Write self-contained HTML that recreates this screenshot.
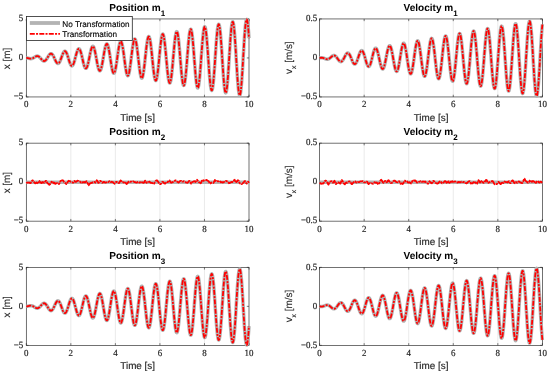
<!DOCTYPE html>
<html><head><meta charset="utf-8"><style>html,body{margin:0;padding:0;background:#fff;overflow:hidden}svg{display:block}text{text-rendering:geometricPrecision}</style></head><body>
<svg width="550" height="375" viewBox="0 0 550 375">
<rect width="550" height="375" fill="#fff"/>
<path d="M70.84 18.95V96.95M115.38 18.95V96.95M159.92 18.95V96.95M204.46 18.95V96.95" stroke="#dcdcdc" stroke-width="0.6" fill="none"/>
<path d="M26.3 96.95v-2.2M26.3 18.95v2.2M70.84 96.95v-2.2M70.84 18.95v2.2M115.38 96.95v-2.2M115.38 18.95v2.2M159.92 96.95v-2.2M159.92 18.95v2.2M204.46 96.95v-2.2M204.46 18.95v2.2M249 96.95v-2.2M249 18.95v2.2M26.3 96.95h2.2M249 96.95h-2.2M26.3 57.95h2.2M249 57.95h-2.2M26.3 18.95h2.2M249 18.95h-2.2" stroke="#262626" stroke-width="0.6" fill="none"/>
<rect x="26.3" y="18.95" width="222.7" height="78" fill="none" stroke="#262626" stroke-width="0.65"/>
<g>
<polyline points="26.3,57.95 26.45,57.95 26.6,57.96 26.75,57.97 26.89,57.98 27.04,57.99 27.19,58.01 27.34,58.03 27.49,58.06 27.64,58.08 27.78,58.11 27.93,58.14 28.08,58.17 28.23,58.21 28.38,58.24 28.53,58.28 28.68,58.31 28.82,58.35 28.97,58.39 29.12,58.42 29.27,58.46 29.42,58.49 29.57,58.52 29.71,58.55 29.86,58.57 30.01,58.6 30.16,58.62 30.31,58.63 30.46,58.65 30.61,58.65 30.75,58.66 30.9,58.66 31.05,58.65 31.2,58.64 31.35,58.63 31.5,58.61 31.64,58.58 31.79,58.55 31.94,58.51 32.09,58.47 32.24,58.43 32.39,58.37 32.54,58.32 32.68,58.25 32.83,58.19 32.98,58.12 33.13,58.04 33.28,57.96 33.43,57.88 33.57,57.79 33.72,57.7 33.87,57.61 34.02,57.52 34.17,57.42 34.32,57.33 34.47,57.23 34.61,57.14 34.76,57.04 34.91,56.95 35.06,56.86 35.21,56.77 35.36,56.68 35.5,56.6 35.65,56.52 35.8,56.45 35.95,56.38 36.1,56.32 36.25,56.26 36.4,56.21 36.54,56.17 36.69,56.13 36.84,56.1 36.99,56.09 37.14,56.07 37.29,56.07 37.44,56.08 37.58,56.1 37.73,56.12 37.88,56.16 38.03,56.2 38.18,56.26 38.33,56.32 38.47,56.4 38.62,56.48 38.77,56.57 38.92,56.67 39.07,56.78 39.22,56.9 39.37,57.02 39.51,57.16 39.66,57.3 39.81,57.44 39.96,57.59 40.11,57.75 40.26,57.91 40.4,58.07 40.55,58.24 40.7,58.41 40.85,58.58 41,58.75 41.15,58.92 41.3,59.09 41.44,59.26 41.59,59.43 41.74,59.59 41.89,59.74 42.04,59.9 42.19,60.04 42.33,60.18 42.48,60.31 42.63,60.43 42.78,60.54 42.93,60.65 43.08,60.74 43.23,60.82 43.37,60.89 43.52,60.94 43.67,60.99 43.82,61.02 43.97,61.03 44.12,61.04 44.26,61.03 44.41,61 44.56,60.96 44.71,60.9 44.86,60.83 45.01,60.75 45.16,60.65 45.3,60.54 45.45,60.41 45.6,60.27 45.75,60.12 45.9,59.96 46.05,59.78 46.19,59.59 46.34,59.4 46.49,59.19 46.64,58.97 46.79,58.75 46.94,58.52 47.09,58.28 47.23,58.04 47.38,57.8 47.53,57.55 47.68,57.3 47.83,57.05 47.98,56.8 48.12,56.55 48.27,56.3 48.42,56.06 48.57,55.83 48.72,55.6 48.87,55.38 49.02,55.17 49.16,54.96 49.31,54.77 49.46,54.59 49.61,54.43 49.76,54.27 49.91,54.14 50.05,54.01 50.2,53.91 50.35,53.82 50.5,53.75 50.65,53.69 50.8,53.66 50.95,53.64 51.09,53.65 51.24,53.67 51.39,53.72 51.54,53.78 51.69,53.86 51.84,53.97 51.98,54.09 52.13,54.23 52.28,54.39 52.43,54.56 52.58,54.76 52.73,54.97 52.88,55.2 53.02,55.44 53.17,55.7 53.32,55.96 53.47,56.25 53.62,56.54 53.77,56.84 53.91,57.15 54.06,57.47 54.21,57.79 54.36,58.12 54.51,58.44 54.66,58.78 54.81,59.11 54.95,59.43 55.1,59.76 55.25,60.08 55.4,60.39 55.55,60.7 55.7,61 55.84,61.28 55.99,61.56 56.14,61.82 56.29,62.06 56.44,62.29 56.59,62.51 56.74,62.7 56.88,62.88 57.03,63.03 57.18,63.16 57.33,63.27 57.48,63.36 57.63,63.42 57.77,63.46 57.92,63.48 58.07,63.47 58.22,63.43 58.37,63.37 58.52,63.29 58.67,63.18 58.81,63.04 58.96,62.89 59.11,62.7 59.26,62.5 59.41,62.27 59.56,62.02 59.7,61.75 59.85,61.47 60,61.16 60.15,60.83 60.3,60.49 60.45,60.14 60.6,59.77 60.74,59.39 60.89,59 61.04,58.61 61.19,58.2 61.34,57.79 61.49,57.38 61.64,56.97 61.78,56.56 61.93,56.15 62.08,55.75 62.23,55.35 62.38,54.97 62.53,54.59 62.67,54.22 62.82,53.87 62.97,53.53 63.12,53.21 63.27,52.91 63.42,52.63 63.57,52.37 63.71,52.13 63.86,51.92 64.01,51.74 64.16,51.58 64.31,51.44 64.46,51.34 64.6,51.26 64.75,51.22 64.9,51.2 65.05,51.21 65.2,51.26 65.35,51.33 65.5,51.44 65.64,51.57 65.79,51.74 65.94,51.93 66.09,52.15 66.24,52.4 66.39,52.68 66.53,52.98 66.68,53.31 66.83,53.66 66.98,54.03 67.13,54.42 67.28,54.83 67.43,55.26 67.57,55.7 67.72,56.16 67.87,56.63 68.02,57.1 68.17,57.59 68.32,58.08 68.46,58.57 68.61,59.06 68.76,59.55 68.91,60.04 69.06,60.52 69.21,60.99 69.36,61.46 69.5,61.91 69.65,62.34 69.8,62.76 69.95,63.16 70.1,63.54 70.25,63.9 70.39,64.23 70.54,64.54 70.69,64.82 70.84,65.07 70.99,65.29 71.14,65.48 71.29,65.64 71.43,65.76 71.58,65.85 71.73,65.9 71.88,65.92 72.03,65.91 72.18,65.85 72.32,65.77 72.47,65.64 72.62,65.48 72.77,65.29 72.92,65.06 73.07,64.8 73.22,64.51 73.36,64.18 73.51,63.83 73.66,63.45 73.81,63.04 73.96,62.6 74.11,62.14 74.25,61.66 74.4,61.16 74.55,60.64 74.7,60.11 74.85,59.57 75,59.01 75.15,58.44 75.29,57.87 75.44,57.3 75.59,56.73 75.74,56.15 75.89,55.59 76.04,55.03 76.18,54.48 76.33,53.94 76.48,53.42 76.63,52.91 76.78,52.42 76.93,51.96 77.08,51.52 77.22,51.1 77.37,50.72 77.52,50.36 77.67,50.03 77.82,49.74 77.97,49.49 78.11,49.27 78.26,49.09 78.41,48.94 78.56,48.84 78.71,48.78 78.86,48.75 79.01,48.77 79.15,48.83 79.3,48.93 79.45,49.07 79.6,49.25 79.75,49.47 79.9,49.73 80.04,50.03 80.19,50.37 80.34,50.74 80.49,51.15 80.64,51.58 80.79,52.05 80.94,52.55 81.08,53.08 81.23,53.63 81.38,54.2 81.53,54.79 81.68,55.4 81.83,56.02 81.97,56.66 82.12,57.3 82.27,57.96 82.42,58.61 82.57,59.27 82.72,59.92 82.87,60.57 83.01,61.21 83.16,61.83 83.31,62.45 83.46,63.04 83.61,63.62 83.76,64.18 83.91,64.71 84.05,65.21 84.2,65.68 84.35,66.12 84.5,66.53 84.65,66.9 84.8,67.23 84.94,67.52 85.09,67.78 85.24,67.98 85.39,68.15 85.54,68.27 85.69,68.34 85.84,68.37 85.98,68.35 86.13,68.29 86.28,68.18 86.43,68.02 86.58,67.82 86.73,67.57 86.87,67.28 87.02,66.94 87.17,66.56 87.32,66.15 87.47,65.69 87.62,65.2 87.77,64.67 87.91,64.11 88.06,63.52 88.21,62.9 88.36,62.26 88.51,61.59 88.66,60.91 88.8,60.21 88.95,59.49 89.1,58.77 89.25,58.03 89.4,57.3 89.55,56.56 89.7,55.83 89.84,55.1 89.99,54.38 90.14,53.68 90.29,52.99 90.44,52.31 90.59,51.66 90.73,51.04 90.88,50.44 91.03,49.88 91.18,49.35 91.33,48.85 91.48,48.39 91.63,47.98 91.77,47.6 91.92,47.27 92.07,46.99 92.22,46.75 92.37,46.56 92.52,46.43 92.66,46.34 92.81,46.3 92.96,46.32 93.11,46.39 93.26,46.51 93.41,46.68 93.56,46.91 93.7,47.18 93.85,47.5 94,47.87 94.15,48.29 94.3,48.75 94.45,49.26 94.59,49.8 94.74,50.39 94.89,51.01 95.04,51.67 95.19,52.35 95.34,53.07 95.49,53.8 95.63,54.56 95.78,55.34 95.93,56.14 96.08,56.94 96.23,57.75 96.38,58.57 96.52,59.39 96.67,60.21 96.82,61.01 96.97,61.81 97.12,62.6 97.27,63.36 97.42,64.11 97.56,64.83 97.71,65.53 97.86,66.19 98.01,66.82 98.16,67.41 98.31,67.96 98.45,68.47 98.6,68.94 98.75,69.36 98.9,69.73 99.05,70.04 99.2,70.31 99.35,70.52 99.49,70.68 99.64,70.78 99.79,70.82 99.94,70.8 100.09,70.73 100.24,70.6 100.38,70.42 100.53,70.18 100.68,69.88 100.83,69.53 100.98,69.12 101.13,68.67 101.28,68.16 101.42,67.61 101.57,67.01 101.72,66.37 101.87,65.68 102.02,64.97 102.17,64.21 102.31,63.43 102.46,62.62 102.61,61.78 102.76,60.93 102.91,60.05 103.06,59.17 103.21,58.28 103.35,57.38 103.5,56.48 103.65,55.58 103.8,54.69 103.95,53.81 104.1,52.95 104.25,52.11 104.39,51.28 104.54,50.49 104.69,49.72 104.84,48.99 104.99,48.3 105.14,47.65 105.28,47.04 105.43,46.47 105.58,45.96 105.73,45.5 105.88,45.09 106.03,44.73 106.18,44.44 106.32,44.2 106.47,44.03 106.62,43.91 106.77,43.86 106.92,43.87 107.07,43.94 107.21,44.08 107.36,44.27 107.51,44.53 107.66,44.85 107.81,45.23 107.96,45.67 108.11,46.17 108.25,46.72 108.4,47.32 108.55,47.97 108.7,48.66 108.85,49.4 109,50.19 109.14,51.01 109.29,51.86 109.44,52.74 109.59,53.65 109.74,54.58 109.89,55.53 110.04,56.5 110.18,57.47 110.33,58.45 110.48,59.43 110.63,60.41 110.78,61.38 110.93,62.34 111.07,63.28 111.22,64.21 111.37,65.1 111.52,65.97 111.67,66.81 111.82,67.61 111.97,68.37 112.11,69.08 112.26,69.75 112.41,70.37 112.56,70.93 112.71,71.44 112.86,71.89 113,72.28 113.15,72.61 113.3,72.87 113.45,73.07 113.6,73.2 113.75,73.26 113.9,73.26 114.04,73.19 114.19,73.05 114.34,72.84 114.49,72.56 114.64,72.22 114.79,71.81 114.93,71.34 115.08,70.81 115.23,70.22 115.38,69.57 115.53,68.87 115.68,68.12 115.83,67.32 115.97,66.48 116.12,65.59 116.27,64.67 116.42,63.72 116.57,62.73 116.72,61.72 116.86,60.7 117.01,59.65 117.16,58.6 117.31,57.54 117.46,56.47 117.61,55.41 117.76,54.36 117.9,53.32 118.05,52.3 118.2,51.3 118.35,50.33 118.5,49.38 118.65,48.48 118.79,47.61 118.94,46.78 119.09,46 119.24,45.28 119.39,44.6 119.54,43.99 119.69,43.43 119.83,42.94 119.98,42.51 120.13,42.15 120.28,41.86 120.43,41.64 120.58,41.49 120.72,41.42 120.87,41.41 121.02,41.48 121.17,41.63 121.32,41.85 121.47,42.14 121.62,42.5 121.76,42.93 121.91,43.43 122.06,44 122.21,44.63 122.36,45.32 122.51,46.07 122.65,46.88 122.8,47.74 122.95,48.64 123.1,49.59 123.25,50.58 123.4,51.61 123.55,52.66 123.69,53.75 123.84,54.85 123.99,55.98 124.14,57.11 124.29,58.25 124.44,59.4 124.58,60.54 124.73,61.67 124.88,62.79 125.03,63.9 125.18,64.97 125.33,66.03 125.48,67.04 125.62,68.02 125.77,68.96 125.92,69.86 126.07,70.7 126.22,71.48 126.37,72.21 126.52,72.88 126.66,73.49 126.81,74.02 126.96,74.49 127.11,74.88 127.26,75.2 127.41,75.45 127.55,75.62 127.7,75.7 127.85,75.71 128,75.65 128.15,75.5 128.3,75.27 128.45,74.97 128.59,74.58 128.74,74.13 128.89,73.6 129.04,73 129.19,72.33 129.34,71.59 129.48,70.79 129.63,69.94 129.78,69.02 129.93,68.06 130.08,67.04 130.23,65.98 130.38,64.89 130.52,63.76 130.67,62.6 130.82,61.42 130.97,60.22 131.12,59 131.27,57.78 131.41,56.55 131.56,55.33 131.71,54.11 131.86,52.91 132.01,51.73 132.16,50.57 132.31,49.44 132.45,48.35 132.6,47.29 132.75,46.28 132.9,45.32 133.05,44.42 133.2,43.57 133.34,42.78 133.49,42.06 133.64,41.41 133.79,40.82 133.94,40.32 134.09,39.89 134.24,39.54 134.38,39.27 134.53,39.08 134.68,38.98 134.83,38.96 134.98,39.02 135.13,39.17 135.27,39.41 135.42,39.72 135.57,40.12 135.72,40.6 135.87,41.16 136.02,41.79 136.17,42.5 136.31,43.28 136.46,44.13 136.61,45.04 136.76,46.01 136.91,47.03 137.06,48.11 137.2,49.23 137.35,50.4 137.5,51.6 137.65,52.83 137.8,54.09 137.95,55.37 138.1,56.67 138.24,57.97 138.39,59.28 138.54,60.59 138.69,61.88 138.84,63.17 138.99,64.43 139.13,65.67 139.28,66.87 139.43,68.04 139.58,69.17 139.73,70.25 139.88,71.28 140.03,72.25 140.17,73.16 140.32,74.01 140.47,74.79 140.62,75.49 140.77,76.12 140.92,76.67 141.06,77.13 141.21,77.51 141.36,77.81 141.51,78.02 141.66,78.14 141.81,78.17 141.96,78.11 142.1,77.96 142.25,77.72 142.4,77.39 142.55,76.98 142.7,76.48 142.85,75.89 142.99,75.22 143.14,74.48 143.29,73.66 143.44,72.77 143.59,71.81 143.74,70.78 143.89,69.7 144.03,68.56 144.18,67.37 144.33,66.13 144.48,64.86 144.63,63.55 144.78,62.22 144.92,60.86 145.07,59.48 145.22,58.1 145.37,56.71 145.52,55.32 145.67,53.94 145.82,52.58 145.96,51.23 146.11,49.92 146.26,48.63 146.41,47.38 146.56,46.18 146.71,45.03 146.85,43.93 147,42.89 147.15,41.92 147.3,41.01 147.45,40.18 147.6,39.42 147.75,38.75 147.89,38.16 148.04,37.65 148.19,37.24 148.34,36.92 148.49,36.68 148.64,36.55 148.78,36.51 148.93,36.56 149.08,36.71 149.23,36.95 149.38,37.29 149.53,37.72 149.68,38.24 149.82,38.85 149.97,39.55 150.12,40.33 150.27,41.19 150.42,42.13 150.57,43.14 150.72,44.22 150.86,45.36 151.01,46.56 151.16,47.81 151.31,49.12 151.46,50.46 151.61,51.84 151.75,53.26 151.9,54.69 152.05,56.15 152.2,57.61 152.35,59.08 152.5,60.55 152.65,62.01 152.79,63.46 152.94,64.88 153.09,66.28 153.24,67.65 153.39,68.97 153.54,70.25 153.68,71.47 153.83,72.64 153.98,73.75 154.13,74.79 154.28,75.75 154.43,76.64 154.58,77.45 154.72,78.17 154.87,78.81 155.02,79.35 155.17,79.8 155.32,80.15 155.47,80.41 155.61,80.56 155.76,80.62 155.91,80.57 156.06,80.43 156.21,80.18 156.36,79.84 156.51,79.39 156.65,78.85 156.8,78.22 156.95,77.49 157.1,76.67 157.25,75.77 157.4,74.79 157.54,73.73 157.69,72.6 157.84,71.4 157.99,70.14 158.14,68.82 158.29,67.45 158.44,66.04 158.58,64.58 158.73,63.09 158.88,61.58 159.03,60.05 159.18,58.5 159.33,56.95 159.47,55.4 159.62,53.85 159.77,52.32 159.92,50.82 160.07,49.34 160.22,47.9 160.37,46.49 160.51,45.14 160.66,43.84 160.81,42.6 160.96,41.43 161.11,40.32 161.26,39.29 161.4,38.35 161.55,37.49 161.7,36.71 161.85,36.03 162,35.45 162.15,34.97 162.3,34.58 162.44,34.3 162.59,34.13 162.74,34.06 162.89,34.09 163.04,34.23 163.19,34.48 163.33,34.84 163.48,35.29 163.63,35.85 163.78,36.51 163.93,37.26 164.08,38.11 164.23,39.05 164.37,40.08 164.52,41.18 164.67,42.37 164.82,43.62 164.97,44.94 165.12,46.33 165.26,47.76 165.41,49.25 165.56,50.78 165.71,52.34 165.86,53.93 166.01,55.54 166.16,57.17 166.3,58.8 166.45,60.44 166.6,62.06 166.75,63.67 166.9,65.26 167.05,66.82 167.19,68.34 167.34,69.82 167.49,71.25 167.64,72.63 167.79,73.94 167.94,75.18 168.09,76.35 168.23,77.44 168.38,78.45 168.53,79.37 168.68,80.19 168.83,80.91 168.98,81.54 169.12,82.06 169.27,82.48 169.42,82.78 169.57,82.98 169.72,83.07 169.87,83.04 170.02,82.9 170.16,82.65 170.31,82.3 170.46,81.83 170.61,81.25 170.76,80.57 170.91,79.79 171.06,78.91 171.2,77.93 171.35,76.87 171.5,75.71 171.65,74.48 171.8,73.17 171.95,71.79 172.09,70.34 172.24,68.84 172.39,67.28 172.54,65.68 172.69,64.05 172.84,62.38 172.99,60.69 173.13,58.98 173.28,57.27 173.43,55.55 173.58,53.84 173.73,52.15 173.88,50.48 174.02,48.84 174.17,47.24 174.32,45.68 174.47,44.17 174.62,42.72 174.77,41.34 174.92,40.02 175.06,38.79 175.21,37.63 175.36,36.57 175.51,35.6 175.66,34.72 175.81,33.95 175.95,33.28 176.1,32.72 176.25,32.27 176.4,31.94 176.55,31.72 176.7,31.61 176.85,31.63 176.99,31.76 177.14,32 177.29,32.37 177.44,32.85 177.59,33.44 177.74,34.14 177.88,34.94 178.03,35.86 178.18,36.87 178.33,37.98 178.48,39.18 178.63,40.46 178.78,41.82 178.92,43.26 179.07,44.77 179.22,46.34 179.37,47.96 179.52,49.64 179.67,51.35 179.81,53.09 179.96,54.86 180.11,56.65 180.26,58.44 180.41,60.24 180.56,62.03 180.71,63.81 180.85,65.56 181,67.28 181.15,68.97 181.3,70.6 181.45,72.19 181.6,73.71 181.74,75.17 181.89,76.56 182.04,77.86 182.19,79.08 182.34,80.2 182.49,81.23 182.64,82.16 182.78,82.98 182.93,83.69 183.08,84.29 183.23,84.77 183.38,85.14 183.53,85.38 183.67,85.5 183.82,85.5 183.97,85.38 184.12,85.14 184.27,84.77 184.42,84.28 184.57,83.68 184.71,82.96 184.86,82.13 185.01,81.19 185.16,80.14 185.31,78.99 185.46,77.75 185.6,76.41 185.75,75 185.9,73.5 186.05,71.93 186.2,70.3 186.35,68.6 186.5,66.86 186.64,65.08 186.79,63.26 186.94,61.41 187.09,59.54 187.24,57.67 187.39,55.79 187.53,53.92 187.68,52.06 187.83,50.22 187.98,48.42 188.13,46.65 188.28,44.93 188.43,43.27 188.57,41.67 188.72,40.14 188.87,38.68 189.02,37.31 189.17,36.03 189.32,34.84 189.46,33.75 189.61,32.77 189.76,31.9 189.91,31.14 190.06,30.5 190.21,29.99 190.36,29.59 190.5,29.32 190.65,29.18 190.8,29.16 190.95,29.28 191.1,29.52 191.25,29.89 191.39,30.38 191.54,31 191.69,31.74 191.84,32.59 191.99,33.56 192.14,34.64 192.29,35.83 192.43,37.12 192.58,38.5 192.73,39.97 192.88,41.52 193.03,43.15 193.18,44.85 193.33,46.61 193.47,48.42 193.62,50.28 193.77,52.17 193.92,54.1 194.07,56.04 194.22,58 194.36,59.96 194.51,61.92 194.66,63.86 194.81,65.78 194.96,67.66 195.11,69.51 195.26,71.31 195.4,73.05 195.55,74.73 195.7,76.34 195.85,77.86 196,79.31 196.15,80.65 196.29,81.9 196.44,83.05 196.59,84.09 196.74,85.01 196.89,85.81 197.04,86.49 197.19,87.05 197.33,87.48 197.48,87.77 197.63,87.93 197.78,87.97 197.93,87.86 198.08,87.63 198.22,87.26 198.37,86.76 198.52,86.13 198.67,85.38 198.82,84.5 198.97,83.5 199.12,82.39 199.26,81.16 199.41,79.83 199.56,78.41 199.71,76.88 199.86,75.27 200.01,73.59 200.15,71.82 200.3,70 200.45,68.12 200.6,66.18 200.75,64.21 200.9,62.21 201.05,60.19 201.19,58.15 201.34,56.11 201.49,54.07 201.64,52.04 201.79,50.04 201.94,48.07 202.08,46.15 202.23,44.27 202.38,42.45 202.53,40.69 202.68,39.01 202.83,37.41 202.98,35.9 203.12,34.48 203.27,33.16 203.42,31.96 203.57,30.87 203.72,29.89 203.87,29.04 204.01,28.32 204.16,27.72 204.31,27.26 204.46,26.94 204.61,26.75 204.76,26.71 204.91,26.8 205.05,27.03 205.2,27.39 205.35,27.9 205.5,28.54 205.65,29.31 205.8,30.21 205.94,31.23 206.09,32.37 206.24,33.63 206.39,35 206.54,36.48 206.69,38.05 206.84,39.72 206.98,41.46 207.13,43.29 207.28,45.18 207.43,47.13 207.58,49.13 207.73,51.18 207.87,53.26 208.02,55.36 208.17,57.48 208.32,59.6 208.47,61.72 208.62,63.83 208.77,65.92 208.91,67.97 209.06,69.98 209.21,71.94 209.36,73.84 209.51,75.67 209.66,77.43 209.8,79.11 209.95,80.69 210.1,82.17 210.25,83.55 210.4,84.82 210.55,85.97 210.7,87 210.84,87.9 210.99,88.66 211.14,89.3 211.29,89.79 211.44,90.14 211.59,90.35 211.73,90.42 211.88,90.34 212.03,90.12 212.18,89.76 212.33,89.25 212.48,88.6 212.63,87.82 212.77,86.9 212.92,85.85 213.07,84.68 213.22,83.38 213.37,81.97 213.52,80.45 213.66,78.83 213.81,77.11 213.96,75.3 214.11,73.42 214.26,71.46 214.41,69.44 214.56,67.37 214.7,65.25 214.85,63.09 215,60.91 215.15,58.71 215.3,56.51 215.45,54.3 215.59,52.11 215.74,49.95 215.89,47.81 216.04,45.72 216.19,43.68 216.34,41.69 216.49,39.78 216.63,37.95 216.78,36.2 216.93,34.54 217.08,32.99 217.23,31.55 217.38,30.22 217.53,29.01 217.67,27.93 217.82,26.98 217.97,26.16 218.12,25.49 218.27,24.96 218.42,24.58 218.56,24.34 218.71,24.25 218.86,24.32 219.01,24.53 219.16,24.89 219.31,25.4 219.46,26.06 219.6,26.85 219.75,27.79 219.9,28.86 220.05,30.07 220.2,31.4 220.35,32.84 220.49,34.41 220.64,36.08 220.79,37.85 220.94,39.71 221.09,41.66 221.24,43.68 221.39,45.77 221.53,47.91 221.68,50.11 221.83,52.34 221.98,54.6 222.13,56.88 222.28,59.16 222.42,61.45 222.57,63.72 222.72,65.97 222.87,68.19 223.02,70.37 223.17,72.49 223.32,74.55 223.46,76.55 223.61,78.46 223.76,80.28 223.91,82.01 224.06,83.63 224.21,85.14 224.35,86.54 224.5,87.8 224.65,88.94 224.8,89.94 224.95,90.8 225.1,91.51 225.25,92.08 225.39,92.5 225.54,92.76 225.69,92.87 225.84,92.82 225.99,92.62 226.14,92.26 226.28,91.75 226.43,91.09 226.58,90.28 226.73,89.33 226.88,88.23 227.03,87 227.18,85.64 227.32,84.15 227.47,82.55 227.62,80.83 227.77,79.01 227.92,77.09 228.07,75.08 228.21,73 228.36,70.84 228.51,68.62 228.66,66.36 228.81,64.05 228.96,61.71 229.11,59.35 229.25,56.99 229.4,54.62 229.55,52.26 229.7,49.93 229.85,47.63 230,45.37 230.14,43.16 230.29,41.02 230.44,38.95 230.59,36.96 230.74,35.06 230.89,33.25 231.04,31.56 231.18,29.98 231.33,28.53 231.48,27.2 231.63,26.01 231.78,24.95 231.93,24.05 232.07,23.29 232.22,22.68 232.37,22.23 232.52,21.94 232.67,21.81 232.82,21.84 232.97,22.03 233.11,22.38 233.26,22.89 233.41,23.56 233.56,24.38 233.71,25.34 233.86,26.46 234,27.72 234.15,29.11 234.3,30.64 234.45,32.29 234.6,34.05 234.75,35.92 234.9,37.9 235.04,39.96 235.19,42.11 235.34,44.33 235.49,46.62 235.64,48.96 235.79,51.34 235.93,53.76 236.08,56.2 236.23,58.64 236.38,61.09 236.53,63.53 236.68,65.95 236.83,68.34 236.97,70.68 237.12,72.97 237.27,75.19 237.42,77.34 237.57,79.41 237.72,81.39 237.86,83.26 238.01,85.03 238.16,86.68 238.31,88.2 238.46,89.59 238.61,90.84 238.76,91.94 238.9,92.9 239.05,93.7 239.2,94.35 239.35,94.83 239.5,95.15 239.65,95.31 239.8,95.29 239.94,95.12 240.09,94.78 240.24,94.27 240.39,93.6 240.54,92.77 240.69,91.79 240.83,90.65 240.98,89.37 241.13,87.94 241.28,86.38 241.43,84.7 241.58,82.89 241.73,80.96 241.87,78.93 242.02,76.81 242.17,74.6 242.32,72.31 242.47,69.96 242.62,67.54 242.76,65.09 242.91,62.59 243.06,60.08 243.21,57.55 243.36,55.01 243.51,52.49 243.66,49.99 243.8,47.52 243.95,45.1 244.1,42.72 244.25,40.42 244.4,38.18 244.55,36.04 244.69,33.98 244.84,32.03 244.99,30.19 245.14,28.48 245.29,26.89 245.44,25.44 245.59,24.13 245.73,22.97 245.88,21.96 246.03,21.12 246.18,20.43 246.33,19.91 246.48,19.56 246.62,19.38 246.77,19.37 246.92,19.53 247.07,19.87 247.22,20.37 247.37,21.04 247.52,21.88 247.66,22.87 247.81,24.03 247.96,25.34 248.11,26.79 248.26,28.38 248.41,30.11 248.55,31.97 248.7,33.94 248.85,36.02 249,38.2" fill="none" stroke="#b3b3b3" stroke-width="3.5" stroke-linejoin="round"/>
<polyline points="26.3,57.95 26.45,57.95 26.6,57.96 26.75,57.97 26.89,57.98 27.04,57.99 27.19,58.01 27.34,58.03 27.49,58.06 27.64,58.08 27.78,58.11 27.93,58.14 28.08,58.17 28.23,58.21 28.38,58.24 28.53,58.28 28.68,58.31 28.82,58.35 28.97,58.39 29.12,58.42 29.27,58.46 29.42,58.49 29.57,58.52 29.71,58.55 29.86,58.57 30.01,58.6 30.16,58.62 30.31,58.63 30.46,58.65 30.61,58.65 30.75,58.66 30.9,58.66 31.05,58.65 31.2,58.64 31.35,58.63 31.5,58.61 31.64,58.58 31.79,58.55 31.94,58.51 32.09,58.47 32.24,58.43 32.39,58.37 32.54,58.32 32.68,58.25 32.83,58.19 32.98,58.12 33.13,58.04 33.28,57.96 33.43,57.88 33.57,57.79 33.72,57.7 33.87,57.61 34.02,57.52 34.17,57.42 34.32,57.33 34.47,57.23 34.61,57.14 34.76,57.04 34.91,56.95 35.06,56.86 35.21,56.77 35.36,56.68 35.5,56.6 35.65,56.52 35.8,56.45 35.95,56.38 36.1,56.32 36.25,56.26 36.4,56.21 36.54,56.17 36.69,56.13 36.84,56.1 36.99,56.09 37.14,56.07 37.29,56.07 37.44,56.08 37.58,56.1 37.73,56.12 37.88,56.16 38.03,56.2 38.18,56.26 38.33,56.32 38.47,56.4 38.62,56.48 38.77,56.57 38.92,56.67 39.07,56.78 39.22,56.9 39.37,57.02 39.51,57.16 39.66,57.3 39.81,57.44 39.96,57.59 40.11,57.75 40.26,57.91 40.4,58.07 40.55,58.24 40.7,58.41 40.85,58.58 41,58.75 41.15,58.92 41.3,59.09 41.44,59.26 41.59,59.43 41.74,59.59 41.89,59.74 42.04,59.9 42.19,60.04 42.33,60.18 42.48,60.31 42.63,60.43 42.78,60.54 42.93,60.65 43.08,60.74 43.23,60.82 43.37,60.89 43.52,60.94 43.67,60.99 43.82,61.02 43.97,61.03 44.12,61.04 44.26,61.03 44.41,61 44.56,60.96 44.71,60.9 44.86,60.83 45.01,60.75 45.16,60.65 45.3,60.54 45.45,60.41 45.6,60.27 45.75,60.12 45.9,59.96 46.05,59.78 46.19,59.59 46.34,59.4 46.49,59.19 46.64,58.97 46.79,58.75 46.94,58.52 47.09,58.28 47.23,58.04 47.38,57.8 47.53,57.55 47.68,57.3 47.83,57.05 47.98,56.8 48.12,56.55 48.27,56.3 48.42,56.06 48.57,55.83 48.72,55.6 48.87,55.38 49.02,55.17 49.16,54.96 49.31,54.77 49.46,54.59 49.61,54.43 49.76,54.27 49.91,54.14 50.05,54.01 50.2,53.91 50.35,53.82 50.5,53.75 50.65,53.69 50.8,53.66 50.95,53.64 51.09,53.65 51.24,53.67 51.39,53.72 51.54,53.78 51.69,53.86 51.84,53.97 51.98,54.09 52.13,54.23 52.28,54.39 52.43,54.56 52.58,54.76 52.73,54.97 52.88,55.2 53.02,55.44 53.17,55.7 53.32,55.96 53.47,56.25 53.62,56.54 53.77,56.84 53.91,57.15 54.06,57.47 54.21,57.79 54.36,58.12 54.51,58.44 54.66,58.78 54.81,59.11 54.95,59.43 55.1,59.76 55.25,60.08 55.4,60.39 55.55,60.7 55.7,61 55.84,61.28 55.99,61.56 56.14,61.82 56.29,62.06 56.44,62.29 56.59,62.51 56.74,62.7 56.88,62.88 57.03,63.03 57.18,63.16 57.33,63.27 57.48,63.36 57.63,63.42 57.77,63.46 57.92,63.48 58.07,63.47 58.22,63.43 58.37,63.37 58.52,63.29 58.67,63.18 58.81,63.04 58.96,62.89 59.11,62.7 59.26,62.5 59.41,62.27 59.56,62.02 59.7,61.75 59.85,61.47 60,61.16 60.15,60.83 60.3,60.49 60.45,60.14 60.6,59.77 60.74,59.39 60.89,59 61.04,58.61 61.19,58.2 61.34,57.79 61.49,57.38 61.64,56.97 61.78,56.56 61.93,56.15 62.08,55.75 62.23,55.35 62.38,54.97 62.53,54.59 62.67,54.22 62.82,53.87 62.97,53.53 63.12,53.21 63.27,52.91 63.42,52.63 63.57,52.37 63.71,52.13 63.86,51.92 64.01,51.74 64.16,51.58 64.31,51.44 64.46,51.34 64.6,51.26 64.75,51.22 64.9,51.2 65.05,51.21 65.2,51.26 65.35,51.33 65.5,51.44 65.64,51.57 65.79,51.74 65.94,51.93 66.09,52.15 66.24,52.4 66.39,52.68 66.53,52.98 66.68,53.31 66.83,53.66 66.98,54.03 67.13,54.42 67.28,54.83 67.43,55.26 67.57,55.7 67.72,56.16 67.87,56.63 68.02,57.1 68.17,57.59 68.32,58.08 68.46,58.57 68.61,59.06 68.76,59.55 68.91,60.04 69.06,60.52 69.21,60.99 69.36,61.46 69.5,61.91 69.65,62.34 69.8,62.76 69.95,63.16 70.1,63.54 70.25,63.9 70.39,64.23 70.54,64.54 70.69,64.82 70.84,65.07 70.99,65.29 71.14,65.48 71.29,65.64 71.43,65.76 71.58,65.85 71.73,65.9 71.88,65.92 72.03,65.91 72.18,65.85 72.32,65.77 72.47,65.64 72.62,65.48 72.77,65.29 72.92,65.06 73.07,64.8 73.22,64.51 73.36,64.18 73.51,63.83 73.66,63.45 73.81,63.04 73.96,62.6 74.11,62.14 74.25,61.66 74.4,61.16 74.55,60.64 74.7,60.11 74.85,59.57 75,59.01 75.15,58.44 75.29,57.87 75.44,57.3 75.59,56.73 75.74,56.15 75.89,55.59 76.04,55.03 76.18,54.48 76.33,53.94 76.48,53.42 76.63,52.91 76.78,52.42 76.93,51.96 77.08,51.52 77.22,51.1 77.37,50.72 77.52,50.36 77.67,50.03 77.82,49.74 77.97,49.49 78.11,49.27 78.26,49.09 78.41,48.94 78.56,48.84 78.71,48.78 78.86,48.75 79.01,48.77 79.15,48.83 79.3,48.93 79.45,49.07 79.6,49.25 79.75,49.47 79.9,49.73 80.04,50.03 80.19,50.37 80.34,50.74 80.49,51.15 80.64,51.58 80.79,52.05 80.94,52.55 81.08,53.08 81.23,53.63 81.38,54.2 81.53,54.79 81.68,55.4 81.83,56.02 81.97,56.66 82.12,57.3 82.27,57.96 82.42,58.61 82.57,59.27 82.72,59.92 82.87,60.57 83.01,61.21 83.16,61.83 83.31,62.45 83.46,63.04 83.61,63.62 83.76,64.18 83.91,64.71 84.05,65.21 84.2,65.68 84.35,66.12 84.5,66.53 84.65,66.9 84.8,67.23 84.94,67.52 85.09,67.78 85.24,67.98 85.39,68.15 85.54,68.27 85.69,68.34 85.84,68.37 85.98,68.35 86.13,68.29 86.28,68.18 86.43,68.02 86.58,67.82 86.73,67.57 86.87,67.28 87.02,66.94 87.17,66.56 87.32,66.15 87.47,65.69 87.62,65.2 87.77,64.67 87.91,64.11 88.06,63.52 88.21,62.9 88.36,62.26 88.51,61.59 88.66,60.91 88.8,60.21 88.95,59.49 89.1,58.77 89.25,58.03 89.4,57.3 89.55,56.56 89.7,55.83 89.84,55.1 89.99,54.38 90.14,53.68 90.29,52.99 90.44,52.31 90.59,51.66 90.73,51.04 90.88,50.44 91.03,49.88 91.18,49.35 91.33,48.85 91.48,48.39 91.63,47.98 91.77,47.6 91.92,47.27 92.07,46.99 92.22,46.75 92.37,46.56 92.52,46.43 92.66,46.34 92.81,46.3 92.96,46.32 93.11,46.39 93.26,46.51 93.41,46.68 93.56,46.91 93.7,47.18 93.85,47.5 94,47.87 94.15,48.29 94.3,48.75 94.45,49.26 94.59,49.8 94.74,50.39 94.89,51.01 95.04,51.67 95.19,52.35 95.34,53.07 95.49,53.8 95.63,54.56 95.78,55.34 95.93,56.14 96.08,56.94 96.23,57.75 96.38,58.57 96.52,59.39 96.67,60.21 96.82,61.01 96.97,61.81 97.12,62.6 97.27,63.36 97.42,64.11 97.56,64.83 97.71,65.53 97.86,66.19 98.01,66.82 98.16,67.41 98.31,67.96 98.45,68.47 98.6,68.94 98.75,69.36 98.9,69.73 99.05,70.04 99.2,70.31 99.35,70.52 99.49,70.68 99.64,70.78 99.79,70.82 99.94,70.8 100.09,70.73 100.24,70.6 100.38,70.42 100.53,70.18 100.68,69.88 100.83,69.53 100.98,69.12 101.13,68.67 101.28,68.16 101.42,67.61 101.57,67.01 101.72,66.37 101.87,65.68 102.02,64.97 102.17,64.21 102.31,63.43 102.46,62.62 102.61,61.78 102.76,60.93 102.91,60.05 103.06,59.17 103.21,58.28 103.35,57.38 103.5,56.48 103.65,55.58 103.8,54.69 103.95,53.81 104.1,52.95 104.25,52.11 104.39,51.28 104.54,50.49 104.69,49.72 104.84,48.99 104.99,48.3 105.14,47.65 105.28,47.04 105.43,46.47 105.58,45.96 105.73,45.5 105.88,45.09 106.03,44.73 106.18,44.44 106.32,44.2 106.47,44.03 106.62,43.91 106.77,43.86 106.92,43.87 107.07,43.94 107.21,44.08 107.36,44.27 107.51,44.53 107.66,44.85 107.81,45.23 107.96,45.67 108.11,46.17 108.25,46.72 108.4,47.32 108.55,47.97 108.7,48.66 108.85,49.4 109,50.19 109.14,51.01 109.29,51.86 109.44,52.74 109.59,53.65 109.74,54.58 109.89,55.53 110.04,56.5 110.18,57.47 110.33,58.45 110.48,59.43 110.63,60.41 110.78,61.38 110.93,62.34 111.07,63.28 111.22,64.21 111.37,65.1 111.52,65.97 111.67,66.81 111.82,67.61 111.97,68.37 112.11,69.08 112.26,69.75 112.41,70.37 112.56,70.93 112.71,71.44 112.86,71.89 113,72.28 113.15,72.61 113.3,72.87 113.45,73.07 113.6,73.2 113.75,73.26 113.9,73.26 114.04,73.19 114.19,73.05 114.34,72.84 114.49,72.56 114.64,72.22 114.79,71.81 114.93,71.34 115.08,70.81 115.23,70.22 115.38,69.57 115.53,68.87 115.68,68.12 115.83,67.32 115.97,66.48 116.12,65.59 116.27,64.67 116.42,63.72 116.57,62.73 116.72,61.72 116.86,60.7 117.01,59.65 117.16,58.6 117.31,57.54 117.46,56.47 117.61,55.41 117.76,54.36 117.9,53.32 118.05,52.3 118.2,51.3 118.35,50.33 118.5,49.38 118.65,48.48 118.79,47.61 118.94,46.78 119.09,46 119.24,45.28 119.39,44.6 119.54,43.99 119.69,43.43 119.83,42.94 119.98,42.51 120.13,42.15 120.28,41.86 120.43,41.64 120.58,41.49 120.72,41.42 120.87,41.41 121.02,41.48 121.17,41.63 121.32,41.85 121.47,42.14 121.62,42.5 121.76,42.93 121.91,43.43 122.06,44 122.21,44.63 122.36,45.32 122.51,46.07 122.65,46.88 122.8,47.74 122.95,48.64 123.1,49.59 123.25,50.58 123.4,51.61 123.55,52.66 123.69,53.75 123.84,54.85 123.99,55.98 124.14,57.11 124.29,58.25 124.44,59.4 124.58,60.54 124.73,61.67 124.88,62.79 125.03,63.9 125.18,64.97 125.33,66.03 125.48,67.04 125.62,68.02 125.77,68.96 125.92,69.86 126.07,70.7 126.22,71.48 126.37,72.21 126.52,72.88 126.66,73.49 126.81,74.02 126.96,74.49 127.11,74.88 127.26,75.2 127.41,75.45 127.55,75.62 127.7,75.7 127.85,75.71 128,75.65 128.15,75.5 128.3,75.27 128.45,74.97 128.59,74.58 128.74,74.13 128.89,73.6 129.04,73 129.19,72.33 129.34,71.59 129.48,70.79 129.63,69.94 129.78,69.02 129.93,68.06 130.08,67.04 130.23,65.98 130.38,64.89 130.52,63.76 130.67,62.6 130.82,61.42 130.97,60.22 131.12,59 131.27,57.78 131.41,56.55 131.56,55.33 131.71,54.11 131.86,52.91 132.01,51.73 132.16,50.57 132.31,49.44 132.45,48.35 132.6,47.29 132.75,46.28 132.9,45.32 133.05,44.42 133.2,43.57 133.34,42.78 133.49,42.06 133.64,41.41 133.79,40.82 133.94,40.32 134.09,39.89 134.24,39.54 134.38,39.27 134.53,39.08 134.68,38.98 134.83,38.96 134.98,39.02 135.13,39.17 135.27,39.41 135.42,39.72 135.57,40.12 135.72,40.6 135.87,41.16 136.02,41.79 136.17,42.5 136.31,43.28 136.46,44.13 136.61,45.04 136.76,46.01 136.91,47.03 137.06,48.11 137.2,49.23 137.35,50.4 137.5,51.6 137.65,52.83 137.8,54.09 137.95,55.37 138.1,56.67 138.24,57.97 138.39,59.28 138.54,60.59 138.69,61.88 138.84,63.17 138.99,64.43 139.13,65.67 139.28,66.87 139.43,68.04 139.58,69.17 139.73,70.25 139.88,71.28 140.03,72.25 140.17,73.16 140.32,74.01 140.47,74.79 140.62,75.49 140.77,76.12 140.92,76.67 141.06,77.13 141.21,77.51 141.36,77.81 141.51,78.02 141.66,78.14 141.81,78.17 141.96,78.11 142.1,77.96 142.25,77.72 142.4,77.39 142.55,76.98 142.7,76.48 142.85,75.89 142.99,75.22 143.14,74.48 143.29,73.66 143.44,72.77 143.59,71.81 143.74,70.78 143.89,69.7 144.03,68.56 144.18,67.37 144.33,66.13 144.48,64.86 144.63,63.55 144.78,62.22 144.92,60.86 145.07,59.48 145.22,58.1 145.37,56.71 145.52,55.32 145.67,53.94 145.82,52.58 145.96,51.23 146.11,49.92 146.26,48.63 146.41,47.38 146.56,46.18 146.71,45.03 146.85,43.93 147,42.89 147.15,41.92 147.3,41.01 147.45,40.18 147.6,39.42 147.75,38.75 147.89,38.16 148.04,37.65 148.19,37.24 148.34,36.92 148.49,36.68 148.64,36.55 148.78,36.51 148.93,36.56 149.08,36.71 149.23,36.95 149.38,37.29 149.53,37.72 149.68,38.24 149.82,38.85 149.97,39.55 150.12,40.33 150.27,41.19 150.42,42.13 150.57,43.14 150.72,44.22 150.86,45.36 151.01,46.56 151.16,47.81 151.31,49.12 151.46,50.46 151.61,51.84 151.75,53.26 151.9,54.69 152.05,56.15 152.2,57.61 152.35,59.08 152.5,60.55 152.65,62.01 152.79,63.46 152.94,64.88 153.09,66.28 153.24,67.65 153.39,68.97 153.54,70.25 153.68,71.47 153.83,72.64 153.98,73.75 154.13,74.79 154.28,75.75 154.43,76.64 154.58,77.45 154.72,78.17 154.87,78.81 155.02,79.35 155.17,79.8 155.32,80.15 155.47,80.41 155.61,80.56 155.76,80.62 155.91,80.57 156.06,80.43 156.21,80.18 156.36,79.84 156.51,79.39 156.65,78.85 156.8,78.22 156.95,77.49 157.1,76.67 157.25,75.77 157.4,74.79 157.54,73.73 157.69,72.6 157.84,71.4 157.99,70.14 158.14,68.82 158.29,67.45 158.44,66.04 158.58,64.58 158.73,63.09 158.88,61.58 159.03,60.05 159.18,58.5 159.33,56.95 159.47,55.4 159.62,53.85 159.77,52.32 159.92,50.82 160.07,49.34 160.22,47.9 160.37,46.49 160.51,45.14 160.66,43.84 160.81,42.6 160.96,41.43 161.11,40.32 161.26,39.29 161.4,38.35 161.55,37.49 161.7,36.71 161.85,36.03 162,35.45 162.15,34.97 162.3,34.58 162.44,34.3 162.59,34.13 162.74,34.06 162.89,34.09 163.04,34.23 163.19,34.48 163.33,34.84 163.48,35.29 163.63,35.85 163.78,36.51 163.93,37.26 164.08,38.11 164.23,39.05 164.37,40.08 164.52,41.18 164.67,42.37 164.82,43.62 164.97,44.94 165.12,46.33 165.26,47.76 165.41,49.25 165.56,50.78 165.71,52.34 165.86,53.93 166.01,55.54 166.16,57.17 166.3,58.8 166.45,60.44 166.6,62.06 166.75,63.67 166.9,65.26 167.05,66.82 167.19,68.34 167.34,69.82 167.49,71.25 167.64,72.63 167.79,73.94 167.94,75.18 168.09,76.35 168.23,77.44 168.38,78.45 168.53,79.37 168.68,80.19 168.83,80.91 168.98,81.54 169.12,82.06 169.27,82.48 169.42,82.78 169.57,82.98 169.72,83.07 169.87,83.04 170.02,82.9 170.16,82.65 170.31,82.3 170.46,81.83 170.61,81.25 170.76,80.57 170.91,79.79 171.06,78.91 171.2,77.93 171.35,76.87 171.5,75.71 171.65,74.48 171.8,73.17 171.95,71.79 172.09,70.34 172.24,68.84 172.39,67.28 172.54,65.68 172.69,64.05 172.84,62.38 172.99,60.69 173.13,58.98 173.28,57.27 173.43,55.55 173.58,53.84 173.73,52.15 173.88,50.48 174.02,48.84 174.17,47.24 174.32,45.68 174.47,44.17 174.62,42.72 174.77,41.34 174.92,40.02 175.06,38.79 175.21,37.63 175.36,36.57 175.51,35.6 175.66,34.72 175.81,33.95 175.95,33.28 176.1,32.72 176.25,32.27 176.4,31.94 176.55,31.72 176.7,31.61 176.85,31.63 176.99,31.76 177.14,32 177.29,32.37 177.44,32.85 177.59,33.44 177.74,34.14 177.88,34.94 178.03,35.86 178.18,36.87 178.33,37.98 178.48,39.18 178.63,40.46 178.78,41.82 178.92,43.26 179.07,44.77 179.22,46.34 179.37,47.96 179.52,49.64 179.67,51.35 179.81,53.09 179.96,54.86 180.11,56.65 180.26,58.44 180.41,60.24 180.56,62.03 180.71,63.81 180.85,65.56 181,67.28 181.15,68.97 181.3,70.6 181.45,72.19 181.6,73.71 181.74,75.17 181.89,76.56 182.04,77.86 182.19,79.08 182.34,80.2 182.49,81.23 182.64,82.16 182.78,82.98 182.93,83.69 183.08,84.29 183.23,84.77 183.38,85.14 183.53,85.38 183.67,85.5 183.82,85.5 183.97,85.38 184.12,85.14 184.27,84.77 184.42,84.28 184.57,83.68 184.71,82.96 184.86,82.13 185.01,81.19 185.16,80.14 185.31,78.99 185.46,77.75 185.6,76.41 185.75,75 185.9,73.5 186.05,71.93 186.2,70.3 186.35,68.6 186.5,66.86 186.64,65.08 186.79,63.26 186.94,61.41 187.09,59.54 187.24,57.67 187.39,55.79 187.53,53.92 187.68,52.06 187.83,50.22 187.98,48.42 188.13,46.65 188.28,44.93 188.43,43.27 188.57,41.67 188.72,40.14 188.87,38.68 189.02,37.31 189.17,36.03 189.32,34.84 189.46,33.75 189.61,32.77 189.76,31.9 189.91,31.14 190.06,30.5 190.21,29.99 190.36,29.59 190.5,29.32 190.65,29.18 190.8,29.16 190.95,29.28 191.1,29.52 191.25,29.89 191.39,30.38 191.54,31 191.69,31.74 191.84,32.59 191.99,33.56 192.14,34.64 192.29,35.83 192.43,37.12 192.58,38.5 192.73,39.97 192.88,41.52 193.03,43.15 193.18,44.85 193.33,46.61 193.47,48.42 193.62,50.28 193.77,52.17 193.92,54.1 194.07,56.04 194.22,58 194.36,59.96 194.51,61.92 194.66,63.86 194.81,65.78 194.96,67.66 195.11,69.51 195.26,71.31 195.4,73.05 195.55,74.73 195.7,76.34 195.85,77.86 196,79.31 196.15,80.65 196.29,81.9 196.44,83.05 196.59,84.09 196.74,85.01 196.89,85.81 197.04,86.49 197.19,87.05 197.33,87.48 197.48,87.77 197.63,87.93 197.78,87.97 197.93,87.86 198.08,87.63 198.22,87.26 198.37,86.76 198.52,86.13 198.67,85.38 198.82,84.5 198.97,83.5 199.12,82.39 199.26,81.16 199.41,79.83 199.56,78.41 199.71,76.88 199.86,75.27 200.01,73.59 200.15,71.82 200.3,70 200.45,68.12 200.6,66.18 200.75,64.21 200.9,62.21 201.05,60.19 201.19,58.15 201.34,56.11 201.49,54.07 201.64,52.04 201.79,50.04 201.94,48.07 202.08,46.15 202.23,44.27 202.38,42.45 202.53,40.69 202.68,39.01 202.83,37.41 202.98,35.9 203.12,34.48 203.27,33.16 203.42,31.96 203.57,30.87 203.72,29.89 203.87,29.04 204.01,28.32 204.16,27.72 204.31,27.26 204.46,26.94 204.61,26.75 204.76,26.71 204.91,26.8 205.05,27.03 205.2,27.39 205.35,27.9 205.5,28.54 205.65,29.31 205.8,30.21 205.94,31.23 206.09,32.37 206.24,33.63 206.39,35 206.54,36.48 206.69,38.05 206.84,39.72 206.98,41.46 207.13,43.29 207.28,45.18 207.43,47.13 207.58,49.13 207.73,51.18 207.87,53.26 208.02,55.36 208.17,57.48 208.32,59.6 208.47,61.72 208.62,63.83 208.77,65.92 208.91,67.97 209.06,69.98 209.21,71.94 209.36,73.84 209.51,75.67 209.66,77.43 209.8,79.11 209.95,80.69 210.1,82.17 210.25,83.55 210.4,84.82 210.55,85.97 210.7,87 210.84,87.9 210.99,88.66 211.14,89.3 211.29,89.79 211.44,90.14 211.59,90.35 211.73,90.42 211.88,90.34 212.03,90.12 212.18,89.76 212.33,89.25 212.48,88.6 212.63,87.82 212.77,86.9 212.92,85.85 213.07,84.68 213.22,83.38 213.37,81.97 213.52,80.45 213.66,78.83 213.81,77.11 213.96,75.3 214.11,73.42 214.26,71.46 214.41,69.44 214.56,67.37 214.7,65.25 214.85,63.09 215,60.91 215.15,58.71 215.3,56.51 215.45,54.3 215.59,52.11 215.74,49.95 215.89,47.81 216.04,45.72 216.19,43.68 216.34,41.69 216.49,39.78 216.63,37.95 216.78,36.2 216.93,34.54 217.08,32.99 217.23,31.55 217.38,30.22 217.53,29.01 217.67,27.93 217.82,26.98 217.97,26.16 218.12,25.49 218.27,24.96 218.42,24.58 218.56,24.34 218.71,24.25 218.86,24.32 219.01,24.53 219.16,24.89 219.31,25.4 219.46,26.06 219.6,26.85 219.75,27.79 219.9,28.86 220.05,30.07 220.2,31.4 220.35,32.84 220.49,34.41 220.64,36.08 220.79,37.85 220.94,39.71 221.09,41.66 221.24,43.68 221.39,45.77 221.53,47.91 221.68,50.11 221.83,52.34 221.98,54.6 222.13,56.88 222.28,59.16 222.42,61.45 222.57,63.72 222.72,65.97 222.87,68.19 223.02,70.37 223.17,72.49 223.32,74.55 223.46,76.55 223.61,78.46 223.76,80.28 223.91,82.01 224.06,83.63 224.21,85.14 224.35,86.54 224.5,87.8 224.65,88.94 224.8,89.94 224.95,90.8 225.1,91.51 225.25,92.08 225.39,92.5 225.54,92.76 225.69,92.87 225.84,92.82 225.99,92.62 226.14,92.26 226.28,91.75 226.43,91.09 226.58,90.28 226.73,89.33 226.88,88.23 227.03,87 227.18,85.64 227.32,84.15 227.47,82.55 227.62,80.83 227.77,79.01 227.92,77.09 228.07,75.08 228.21,73 228.36,70.84 228.51,68.62 228.66,66.36 228.81,64.05 228.96,61.71 229.11,59.35 229.25,56.99 229.4,54.62 229.55,52.26 229.7,49.93 229.85,47.63 230,45.37 230.14,43.16 230.29,41.02 230.44,38.95 230.59,36.96 230.74,35.06 230.89,33.25 231.04,31.56 231.18,29.98 231.33,28.53 231.48,27.2 231.63,26.01 231.78,24.95 231.93,24.05 232.07,23.29 232.22,22.68 232.37,22.23 232.52,21.94 232.67,21.81 232.82,21.84 232.97,22.03 233.11,22.38 233.26,22.89 233.41,23.56 233.56,24.38 233.71,25.34 233.86,26.46 234,27.72 234.15,29.11 234.3,30.64 234.45,32.29 234.6,34.05 234.75,35.92 234.9,37.9 235.04,39.96 235.19,42.11 235.34,44.33 235.49,46.62 235.64,48.96 235.79,51.34 235.93,53.76 236.08,56.2 236.23,58.64 236.38,61.09 236.53,63.53 236.68,65.95 236.83,68.34 236.97,70.68 237.12,72.97 237.27,75.19 237.42,77.34 237.57,79.41 237.72,81.39 237.86,83.26 238.01,85.03 238.16,86.68 238.31,88.2 238.46,89.59 238.61,90.84 238.76,91.94 238.9,92.9 239.05,93.7 239.2,94.35 239.35,94.83 239.5,95.15 239.65,95.31 239.8,95.29 239.94,95.12 240.09,94.78 240.24,94.27 240.39,93.6 240.54,92.77 240.69,91.79 240.83,90.65 240.98,89.37 241.13,87.94 241.28,86.38 241.43,84.7 241.58,82.89 241.73,80.96 241.87,78.93 242.02,76.81 242.17,74.6 242.32,72.31 242.47,69.96 242.62,67.54 242.76,65.09 242.91,62.59 243.06,60.08 243.21,57.55 243.36,55.01 243.51,52.49 243.66,49.99 243.8,47.52 243.95,45.1 244.1,42.72 244.25,40.42 244.4,38.18 244.55,36.04 244.69,33.98 244.84,32.03 244.99,30.19 245.14,28.48 245.29,26.89 245.44,25.44 245.59,24.13 245.73,22.97 245.88,21.96 246.03,21.12 246.18,20.43 246.33,19.91 246.48,19.56 246.62,19.38 246.77,19.37 246.92,19.53 247.07,19.87 247.22,20.37 247.37,21.04 247.52,21.88 247.66,22.87 247.81,24.03 247.96,25.34 248.11,26.79 248.26,28.38 248.41,30.11 248.55,31.97 248.7,33.94 248.85,36.02 249,38.2" fill="none" stroke="#ff0000" stroke-width="1.8" stroke-dasharray="5 1.25 2 1.25" stroke-linejoin="round"/>
</g>
<text transform="translate(26.3 107.4) scale(0.95 1)" text-anchor="middle" font-family="'Liberation Serif', serif" font-size="9.4" fill="#262626" stroke="#262626" stroke-width="0.2">0</text><text transform="translate(70.84 107.4) scale(0.95 1)" text-anchor="middle" font-family="'Liberation Serif', serif" font-size="9.4" fill="#262626" stroke="#262626" stroke-width="0.2">2</text><text transform="translate(115.38 107.4) scale(0.95 1)" text-anchor="middle" font-family="'Liberation Serif', serif" font-size="9.4" fill="#262626" stroke="#262626" stroke-width="0.2">4</text><text transform="translate(159.92 107.4) scale(0.95 1)" text-anchor="middle" font-family="'Liberation Serif', serif" font-size="9.4" fill="#262626" stroke="#262626" stroke-width="0.2">6</text><text transform="translate(204.46 107.4) scale(0.95 1)" text-anchor="middle" font-family="'Liberation Serif', serif" font-size="9.4" fill="#262626" stroke="#262626" stroke-width="0.2">8</text><text transform="translate(249 107.4) scale(0.95 1)" text-anchor="middle" font-family="'Liberation Serif', serif" font-size="9.4" fill="#262626" stroke="#262626" stroke-width="0.2">10</text><text transform="translate(23.2 21.25) scale(0.95 1)" text-anchor="end" font-family="'Liberation Serif', serif" font-size="9.4" fill="#262626" stroke="#262626" stroke-width="0.2">5</text><text transform="translate(23.2 60.25) scale(0.95 1)" text-anchor="end" font-family="'Liberation Serif', serif" font-size="9.4" fill="#262626" stroke="#262626" stroke-width="0.2">0</text><text transform="translate(23.2 99.25) scale(0.95 1)" text-anchor="end" font-family="'Liberation Serif', serif" font-size="9.4" fill="#262626" stroke="#262626" stroke-width="0.2">−5</text>
<text transform="translate(137.65 121.05)" text-anchor="middle" font-family="'Liberation Sans', sans-serif" font-size="9.9" fill="#262626" stroke="#262626" stroke-width="0.15">Time [s]</text>
<text transform="translate(10 58.45) rotate(-90)" text-anchor="middle" font-family="'Liberation Sans', sans-serif" font-size="9.9" fill="#262626" stroke="#262626" stroke-width="0.15">x [m]</text>
<text transform="translate(137.25 10.7)" text-anchor="middle" font-family="'Liberation Sans', sans-serif" font-size="10.05" font-weight="bold" fill="#000">Position m<tspan font-size="8.0" dy="4.8">1</tspan></text>
<path d="M364.16 18.95V96.95M408.72 18.95V96.95M453.28 18.95V96.95M497.84 18.95V96.95" stroke="#dcdcdc" stroke-width="0.6" fill="none"/>
<path d="M319.6 96.95v-2.2M319.6 18.95v2.2M364.16 96.95v-2.2M364.16 18.95v2.2M408.72 96.95v-2.2M408.72 18.95v2.2M453.28 96.95v-2.2M453.28 18.95v2.2M497.84 96.95v-2.2M497.84 18.95v2.2M542.4 96.95v-2.2M542.4 18.95v2.2M319.6 96.95h2.2M542.4 96.95h-2.2M319.6 57.95h2.2M542.4 57.95h-2.2M319.6 18.95h2.2M542.4 18.95h-2.2" stroke="#262626" stroke-width="0.6" fill="none"/>
<rect x="319.6" y="18.95" width="222.8" height="78" fill="none" stroke="#262626" stroke-width="0.65"/>
<g>
<polyline points="319.6,57.95 319.75,57.92 319.9,57.9 320.05,57.87 320.19,57.85 320.34,57.83 320.49,57.81 320.64,57.79 320.79,57.77 320.94,57.76 321.09,57.75 321.23,57.74 321.38,57.73 321.53,57.73 321.68,57.73 321.83,57.74 321.98,57.75 322.13,57.76 322.27,57.78 322.42,57.8 322.57,57.83 322.72,57.86 322.87,57.89 323.02,57.93 323.16,57.97 323.31,58.01 323.46,58.06 323.61,58.11 323.76,58.16 323.91,58.22 324.06,58.27 324.2,58.33 324.35,58.39 324.5,58.45 324.65,58.52 324.8,58.58 324.95,58.64 325.1,58.7 325.24,58.76 325.39,58.82 325.54,58.87 325.69,58.93 325.84,58.98 325.99,59.03 326.14,59.07 326.28,59.11 326.43,59.14 326.58,59.17 326.73,59.2 326.88,59.21 327.03,59.23 327.18,59.23 327.32,59.23 327.47,59.22 327.62,59.21 327.77,59.19 327.92,59.16 328.07,59.12 328.21,59.08 328.36,59.03 328.51,58.97 328.66,58.9 328.81,58.83 328.96,58.75 329.11,58.67 329.25,58.58 329.4,58.48 329.55,58.37 329.7,58.26 329.85,58.15 330,58.03 330.15,57.91 330.29,57.79 330.44,57.66 330.59,57.53 330.74,57.4 330.89,57.26 331.04,57.13 331.19,57 331.33,56.87 331.48,56.74 331.63,56.61 331.78,56.49 331.93,56.37 332.08,56.26 332.23,56.15 332.37,56.04 332.52,55.95 332.67,55.86 332.82,55.78 332.97,55.7 333.12,55.64 333.27,55.58 333.41,55.54 333.56,55.51 333.71,55.48 333.86,55.47 334.01,55.47 334.16,55.48 334.3,55.5 334.45,55.54 334.6,55.59 334.75,55.64 334.9,55.72 335.05,55.8 335.2,55.89 335.34,56 335.49,56.11 335.64,56.24 335.79,56.38 335.94,56.53 336.09,56.68 336.24,56.85 336.38,57.02 336.53,57.21 336.68,57.39 336.83,57.59 336.98,57.79 337.13,57.99 337.28,58.2 337.42,58.4 337.57,58.61 337.72,58.82 337.87,59.03 338.02,59.24 338.17,59.45 338.32,59.65 338.46,59.85 338.61,60.04 338.76,60.23 338.91,60.4 339.06,60.57 339.21,60.73 339.35,60.88 339.5,61.02 339.65,61.15 339.8,61.26 339.95,61.36 340.1,61.45 340.25,61.52 340.39,61.57 340.54,61.61 340.69,61.64 340.84,61.65 340.99,61.64 341.14,61.61 341.29,61.57 341.43,61.51 341.58,61.43 341.73,61.33 341.88,61.22 342.03,61.09 342.18,60.95 342.33,60.79 342.47,60.62 342.62,60.43 342.77,60.23 342.92,60.01 343.07,59.78 343.22,59.54 343.37,59.29 343.51,59.04 343.66,58.77 343.81,58.49 343.96,58.22 344.11,57.93 344.26,57.64 344.41,57.35 344.55,57.06 344.7,56.77 344.85,56.49 345,56.2 345.15,55.92 345.3,55.65 345.44,55.38 345.59,55.12 345.74,54.87 345.89,54.63 346.04,54.41 346.19,54.2 346.34,54 346.48,53.82 346.63,53.65 346.78,53.51 346.93,53.38 347.08,53.27 347.23,53.18 347.38,53.11 347.52,53.06 347.67,53.04 347.82,53.03 347.97,53.05 348.12,53.09 348.27,53.16 348.42,53.24 348.56,53.35 348.71,53.48 348.86,53.63 349.01,53.8 349.16,53.99 349.31,54.21 349.46,54.44 349.6,54.69 349.75,54.95 349.9,55.24 350.05,55.53 350.2,55.85 350.35,56.17 350.49,56.5 350.64,56.85 350.79,57.2 350.94,57.56 351.09,57.93 351.24,58.3 351.39,58.67 351.53,59.04 351.68,59.41 351.83,59.78 351.98,60.14 352.13,60.49 352.28,60.84 352.43,61.18 352.57,61.5 352.72,61.81 352.87,62.11 353.02,62.39 353.17,62.66 353.32,62.9 353.47,63.13 353.61,63.33 353.76,63.52 353.91,63.67 354.06,63.81 354.21,63.92 354.36,64 354.51,64.05 354.65,64.08 354.8,64.09 354.95,64.06 355.1,64.01 355.25,63.93 355.4,63.82 355.55,63.68 355.69,63.52 355.84,63.33 355.99,63.11 356.14,62.87 356.29,62.61 356.44,62.32 356.58,62.01 356.73,61.68 356.88,61.34 357.03,60.97 357.18,60.58 357.33,60.19 357.48,59.77 357.62,59.35 357.77,58.92 357.92,58.48 358.07,58.03 358.22,57.58 358.37,57.13 358.52,56.68 358.66,56.23 358.81,55.78 358.96,55.34 359.11,54.91 359.26,54.49 359.41,54.09 359.56,53.69 359.7,53.31 359.85,52.96 360,52.62 360.15,52.3 360.3,52 360.45,51.73 360.6,51.49 360.74,51.27 360.89,51.08 361.04,50.92 361.19,50.79 361.34,50.69 361.49,50.63 361.63,50.59 361.78,50.59 361.93,50.62 362.08,50.69 362.23,50.79 362.38,50.92 362.53,51.08 362.67,51.28 362.82,51.5 362.97,51.76 363.12,52.04 363.27,52.36 363.42,52.7 363.57,53.07 363.71,53.46 363.86,53.88 364.01,54.31 364.16,54.77 364.31,55.24 364.46,55.73 364.61,56.23 364.75,56.74 364.9,57.26 365.05,57.79 365.2,58.32 365.35,58.85 365.5,59.39 365.65,59.92 365.79,60.44 365.94,60.96 366.09,61.46 366.24,61.96 366.39,62.44 366.54,62.9 366.69,63.34 366.83,63.76 366.98,64.16 367.13,64.53 367.28,64.88 367.43,65.2 367.58,65.48 367.72,65.74 367.87,65.96 368.02,66.15 368.17,66.3 368.32,66.41 368.47,66.49 368.62,66.53 368.76,66.53 368.91,66.49 369.06,66.42 369.21,66.31 369.36,66.16 369.51,65.97 369.66,65.74 369.8,65.48 369.95,65.18 370.1,64.85 370.25,64.48 370.4,64.09 370.55,63.66 370.7,63.21 370.84,62.73 370.99,62.23 371.14,61.7 371.29,61.15 371.44,60.59 371.59,60.01 371.74,59.42 371.88,58.82 372.03,58.21 372.18,57.6 372.33,56.99 372.48,56.37 372.63,55.76 372.77,55.16 372.92,54.56 373.07,53.98 373.22,53.41 373.37,52.86 373.52,52.33 373.67,51.82 373.81,51.33 373.96,50.88 374.11,50.45 374.26,50.05 374.41,49.69 374.56,49.36 374.71,49.06 374.85,48.81 375,48.59 375.15,48.42 375.3,48.29 375.45,48.2 375.6,48.15 375.75,48.14 375.89,48.18 376.04,48.27 376.19,48.4 376.34,48.57 376.49,48.78 376.64,49.04 376.79,49.33 376.93,49.67 377.08,50.05 377.23,50.46 377.38,50.91 377.53,51.39 377.68,51.9 377.83,52.45 377.97,53.02 378.12,53.62 378.27,54.23 378.42,54.87 378.57,55.53 378.72,56.2 378.86,56.88 379.01,57.57 379.16,58.26 379.31,58.96 379.46,59.65 379.61,60.34 379.76,61.03 379.9,61.7 380.05,62.36 380.2,63 380.35,63.63 380.5,64.23 380.65,64.81 380.8,65.35 380.94,65.87 381.09,66.36 381.24,66.81 381.39,67.22 381.54,67.6 381.69,67.93 381.84,68.22 381.98,68.46 382.13,68.66 382.28,68.81 382.43,68.92 382.58,68.97 382.73,68.98 382.88,68.94 383.02,68.85 383.17,68.71 383.32,68.52 383.47,68.28 383.62,68 383.77,67.67 383.91,67.29 384.06,66.87 384.21,66.41 384.36,65.91 384.51,65.37 384.66,64.8 384.81,64.19 384.95,63.55 385.1,62.89 385.25,62.2 385.4,61.48 385.55,60.75 385.7,60 385.85,59.24 385.99,58.47 386.14,57.7 386.29,56.92 386.44,56.15 386.59,55.37 386.74,54.61 386.89,53.86 387.03,53.12 387.18,52.4 387.33,51.7 387.48,51.03 387.63,50.39 387.78,49.77 387.93,49.19 388.07,48.65 388.22,48.15 388.37,47.68 388.52,47.26 388.67,46.89 388.82,46.57 388.97,46.29 389.11,46.06 389.26,45.89 389.41,45.77 389.56,45.71 389.71,45.69 389.86,45.74 390,45.83 390.15,45.99 390.3,46.19 390.45,46.45 390.6,46.76 390.75,47.13 390.9,47.54 391.04,48 391.19,48.51 391.34,49.06 391.49,49.65 391.64,50.28 391.79,50.95 391.94,51.66 392.08,52.39 392.23,53.15 392.38,53.94 392.53,54.75 392.68,55.58 392.83,56.41 392.98,57.26 393.12,58.12 393.27,58.98 393.42,59.84 393.57,60.69 393.72,61.53 393.87,62.37 394.02,63.18 394.16,63.98 394.31,64.75 394.46,65.49 394.61,66.21 394.76,66.88 394.91,67.53 395.05,68.13 395.2,68.69 395.35,69.2 395.5,69.67 395.65,70.08 395.8,70.44 395.95,70.75 396.09,71 396.24,71.2 396.39,71.34 396.54,71.41 396.69,71.43 396.84,71.39 396.99,71.29 397.13,71.12 397.28,70.9 397.43,70.62 397.58,70.29 397.73,69.89 397.88,69.44 398.03,68.94 398.17,68.39 398.32,67.79 398.47,67.14 398.62,66.45 398.77,65.72 398.92,64.95 399.07,64.15 399.21,63.31 399.36,62.45 399.51,61.57 399.66,60.67 399.81,59.75 399.96,58.82 400.11,57.88 400.25,56.94 400.4,56 400.55,55.07 400.7,54.14 400.85,53.23 401,52.34 401.14,51.46 401.29,50.62 401.44,49.8 401.59,49.02 401.74,48.27 401.89,47.57 402.04,46.91 402.18,46.29 402.33,45.72 402.48,45.21 402.63,44.75 402.78,44.35 402.93,44.01 403.08,43.73 403.22,43.51 403.37,43.36 403.52,43.27 403.67,43.24 403.82,43.28 403.97,43.39 404.12,43.56 404.26,43.8 404.41,44.1 404.56,44.46 404.71,44.88 404.86,45.37 405.01,45.91 405.16,46.5 405.3,47.15 405.45,47.85 405.6,48.6 405.75,49.39 405.9,50.23 406.05,51.1 406.19,52 406.34,52.94 406.49,53.89 406.64,54.87 406.79,55.87 406.94,56.88 407.09,57.9 407.23,58.92 407.38,59.94 407.53,60.96 407.68,61.96 407.83,62.96 407.98,63.93 408.13,64.88 408.27,65.8 408.42,66.69 408.57,67.54 408.72,68.35 408.87,69.12 409.02,69.85 409.17,70.52 409.31,71.14 409.46,71.7 409.61,72.2 409.76,72.64 409.91,73.02 410.06,73.33 410.21,73.57 410.35,73.74 410.5,73.85 410.65,73.88 410.8,73.85 410.95,73.74 411.1,73.56 411.25,73.31 411.39,72.99 411.54,72.61 411.69,72.15 411.84,71.64 411.99,71.06 412.14,70.42 412.28,69.72 412.43,68.97 412.58,68.16 412.73,67.31 412.88,66.41 413.03,65.48 413.18,64.5 413.32,63.5 413.47,62.46 413.62,61.4 413.77,60.33 413.92,59.24 414.07,58.14 414.22,57.04 414.36,55.93 414.51,54.84 414.66,53.75 414.81,52.68 414.96,51.63 415.11,50.6 415.26,49.6 415.4,48.64 415.55,47.72 415.7,46.83 415.85,46 416,45.22 416.15,44.49 416.3,43.81 416.44,43.2 416.59,42.65 416.74,42.17 416.89,41.76 417.04,41.42 417.19,41.15 417.33,40.96 417.48,40.84 417.63,40.79 417.78,40.83 417.93,40.93 418.08,41.12 418.23,41.38 418.37,41.71 418.52,42.12 418.67,42.6 418.82,43.15 418.97,43.77 419.12,44.45 419.27,45.2 419.41,46 419.56,46.86 419.71,47.77 419.86,48.73 420.01,49.73 420.16,50.78 420.31,51.85 420.45,52.96 420.6,54.1 420.75,55.25 420.9,56.42 421.05,57.6 421.2,58.78 421.35,59.97 421.49,61.15 421.64,62.32 421.79,63.47 421.94,64.6 422.09,65.7 422.24,66.78 422.39,67.81 422.53,68.81 422.68,69.76 422.83,70.66 422.98,71.51 423.13,72.3 423.28,73.02 423.42,73.69 423.57,74.28 423.72,74.8 423.87,75.25 424.02,75.63 424.17,75.92 424.32,76.14 424.46,76.28 424.61,76.33 424.76,76.3 424.91,76.2 425.06,76.01 425.21,75.74 425.36,75.39 425.5,74.96 425.65,74.45 425.8,73.87 425.95,73.21 426.1,72.49 426.25,71.7 426.4,70.85 426.54,69.93 426.69,68.96 426.84,67.94 426.99,66.87 427.14,65.76 427.29,64.61 427.44,63.43 427.58,62.22 427.73,60.99 427.88,59.74 428.03,58.48 428.18,57.22 428.33,55.95 428.47,54.69 428.62,53.44 428.77,52.21 428.92,50.99 429.07,49.81 429.22,48.66 429.37,47.55 429.51,46.48 429.66,45.46 429.81,44.49 429.96,43.58 430.11,42.73 430.26,41.95 430.41,41.24 430.55,40.59 430.7,40.03 430.85,39.54 431,39.13 431.15,38.81 431.3,38.57 431.45,38.41 431.59,38.35 431.74,38.37 431.89,38.47 432.04,38.66 432.19,38.94 432.34,39.31 432.49,39.76 432.63,40.29 432.78,40.9 432.93,41.59 433.08,42.35 433.23,43.19 433.38,44.09 433.53,45.06 433.67,46.08 433.82,47.17 433.97,48.3 434.12,49.48 434.27,50.7 434.42,51.95 434.56,53.24 434.71,54.55 434.86,55.88 435.01,57.22 435.16,58.56 435.31,59.91 435.46,61.26 435.6,62.59 435.75,63.9 435.9,65.19 436.05,66.45 436.2,67.68 436.35,68.87 436.5,70.01 436.64,71.1 436.79,72.14 436.94,73.11 437.09,74.02 437.24,74.86 437.39,75.63 437.54,76.32 437.68,76.93 437.83,77.46 437.98,77.9 438.13,78.25 438.28,78.52 438.43,78.69 438.58,78.78 438.72,78.76 438.87,78.66 439.02,78.47 439.17,78.18 439.32,77.8 439.47,77.33 439.61,76.78 439.76,76.14 439.91,75.42 440.06,74.61 440.21,73.73 440.36,72.78 440.51,71.76 440.65,70.68 440.8,69.54 440.95,68.34 441.1,67.1 441.25,65.81 441.4,64.48 441.55,63.12 441.69,61.73 441.84,60.32 441.99,58.9 442.14,57.48 442.29,56.05 442.44,54.62 442.59,53.21 442.73,51.81 442.88,50.44 443.03,49.1 443.18,47.79 443.33,46.53 443.48,45.31 443.63,44.15 443.77,43.05 443.92,42.01 444.07,41.04 444.22,40.14 444.37,39.32 444.52,38.58 444.67,37.92 444.81,37.35 444.96,36.87 445.11,36.49 445.26,36.2 445.41,36 445.56,35.9 445.7,35.91 445.85,36 446,36.2 446.15,36.49 446.3,36.88 446.45,37.37 446.6,37.95 446.74,38.61 446.89,39.37 447.04,40.21 447.19,41.13 447.34,42.13 447.49,43.2 447.64,44.34 447.78,45.54 447.93,46.8 448.08,48.11 448.23,49.47 448.38,50.87 448.53,52.31 448.68,53.77 448.82,55.25 448.97,56.75 449.12,58.26 449.27,59.78 449.42,61.28 449.57,62.78 449.72,64.26 449.86,65.71 450.01,67.13 450.16,68.51 450.31,69.85 450.46,71.14 450.61,72.38 450.75,73.55 450.9,74.66 451.05,75.69 451.2,76.65 451.35,77.53 451.5,78.32 451.65,79.02 451.79,79.63 451.94,80.15 452.09,80.56 452.24,80.88 452.39,81.1 452.54,81.21 452.69,81.22 452.83,81.13 452.98,80.94 453.13,80.64 453.28,80.24 453.43,79.74 453.58,79.14 453.73,78.44 453.87,77.66 454.02,76.78 454.17,75.82 454.32,74.77 454.47,73.65 454.62,72.46 454.77,71.2 454.91,69.88 455.06,68.5 455.21,67.07 455.36,65.6 455.51,64.09 455.66,62.55 455.81,60.99 455.95,59.41 456.1,57.82 456.25,56.22 456.4,54.63 456.55,53.06 456.7,51.5 456.84,49.96 456.99,48.46 457.14,47 457.29,45.58 457.44,44.21 457.59,42.91 457.74,41.66 457.88,40.49 458.03,39.39 458.18,38.38 458.33,37.44 458.48,36.6 458.63,35.85 458.78,35.19 458.92,34.64 459.07,34.19 459.22,33.84 459.37,33.6 459.52,33.47 459.67,33.45 459.82,33.53 459.96,33.73 460.11,34.03 460.26,34.44 460.41,34.95 460.56,35.57 460.71,36.29 460.86,37.11 461,38.02 461.15,39.02 461.3,40.11 461.45,41.28 461.6,42.53 461.75,43.85 461.89,45.23 462.04,46.67 462.19,48.17 462.34,49.71 462.49,51.3 462.64,52.91 462.79,54.55 462.93,56.21 463.08,57.88 463.23,59.56 463.38,61.23 463.53,62.89 463.68,64.53 463.83,66.15 463.97,67.73 464.12,69.27 464.27,70.77 464.42,72.21 464.57,73.59 464.72,74.9 464.87,76.14 465.01,77.31 465.16,78.39 465.31,79.38 465.46,80.27 465.61,81.07 465.76,81.77 465.91,82.36 466.05,82.85 466.2,83.23 466.35,83.49 466.5,83.64 466.65,83.68 466.8,83.6 466.95,83.41 467.09,83.11 467.24,82.69 467.39,82.16 467.54,81.53 467.69,80.78 467.84,79.94 467.98,78.99 468.13,77.95 468.28,76.82 468.43,75.6 468.58,74.3 468.73,72.92 468.88,71.48 469.02,69.97 469.17,68.41 469.32,66.79 469.47,65.14 469.62,63.45 469.77,61.73 469.92,59.99 470.06,58.24 470.21,56.48 470.36,54.73 470.51,52.98 470.66,51.26 470.81,49.56 470.96,47.9 471.1,46.28 471.25,44.7 471.4,43.19 471.55,41.73 471.7,40.35 471.85,39.04 472,37.81 472.14,36.67 472.29,35.62 472.44,34.67 472.59,33.82 472.74,33.07 472.89,32.44 473.03,31.92 473.18,31.51 473.33,31.22 473.48,31.05 473.63,30.99 473.78,31.06 473.93,31.25 474.07,31.55 474.22,31.98 474.37,32.52 474.52,33.17 474.67,33.94 474.82,34.81 474.97,35.79 475.11,36.87 475.26,38.04 475.41,39.31 475.56,40.66 475.71,42.09 475.86,43.6 476.01,45.17 476.15,46.8 476.3,48.48 476.45,50.21 476.6,51.97 476.75,53.77 476.9,55.59 477.05,57.42 477.19,59.26 477.34,61.1 477.49,62.92 477.64,64.73 477.79,66.51 477.94,68.25 478.09,69.95 478.23,71.61 478.38,73.2 478.53,74.73 478.68,76.19 478.83,77.57 478.98,78.86 479.12,80.07 479.27,81.18 479.42,82.18 479.57,83.08 479.72,83.87 479.87,84.55 480.02,85.11 480.16,85.55 480.31,85.87 480.46,86.06 480.61,86.13 480.76,86.08 480.91,85.9 481.06,85.59 481.2,85.16 481.35,84.61 481.5,83.94 481.65,83.15 481.8,82.25 481.95,81.24 482.1,80.13 482.24,78.91 482.39,77.6 482.54,76.2 482.69,74.71 482.84,73.15 482.99,71.51 483.14,69.82 483.28,68.06 483.43,66.26 483.58,64.42 483.73,62.55 483.88,60.65 484.03,58.74 484.17,56.82 484.32,54.9 484.47,52.99 484.62,51.11 484.77,49.24 484.92,47.42 485.07,45.63 485.21,43.9 485.36,42.23 485.51,40.62 485.66,39.09 485.81,37.64 485.96,36.28 486.11,35.01 486.25,33.84 486.4,32.78 486.55,31.83 486.7,30.99 486.85,30.27 487,29.67 487.15,29.2 487.29,28.85 487.44,28.63 487.59,28.54 487.74,28.59 487.89,28.76 488.04,29.06 488.19,29.5 488.33,30.06 488.48,30.74 488.63,31.55 488.78,32.48 488.93,33.52 489.08,34.67 489.23,35.93 489.37,37.28 489.52,38.73 489.67,40.27 489.82,41.9 489.97,43.59 490.12,45.35 490.26,47.17 490.41,49.05 490.56,50.96 490.71,52.91 490.86,54.89 491.01,56.88 491.16,58.88 491.3,60.88 491.45,62.87 491.6,64.84 491.75,66.79 491.9,68.7 492.05,70.56 492.2,72.37 492.34,74.12 492.49,75.8 492.64,77.41 492.79,78.93 492.94,80.36 493.09,81.69 493.24,82.92 493.38,84.04 493.53,85.05 493.68,85.94 493.83,86.7 493.98,87.34 494.13,87.85 494.28,88.23 494.42,88.47 494.57,88.58 494.72,88.55 494.87,88.38 495.02,88.08 495.17,87.65 495.31,87.08 495.46,86.38 495.61,85.55 495.76,84.6 495.91,83.53 496.06,82.35 496.21,81.05 496.35,79.65 496.5,78.15 496.65,76.56 496.8,74.88 496.95,73.12 497.1,71.29 497.25,69.41 497.39,67.46 497.54,65.47 497.69,63.45 497.84,61.39 497.99,59.32 498.14,57.24 498.29,55.16 498.43,53.08 498.58,51.03 498.73,49 498.88,47.01 499.03,45.07 499.18,43.17 499.33,41.34 499.47,39.59 499.62,37.91 499.77,36.31 499.92,34.81 500.07,33.41 500.22,32.12 500.37,30.94 500.51,29.88 500.66,28.94 500.81,28.13 500.96,27.45 501.11,26.91 501.26,26.5 501.4,26.23 501.55,26.1 501.7,26.12 501.85,26.27 502,26.57 502.15,27 502.3,27.58 502.44,28.29 502.59,29.13 502.74,30.11 502.89,31.21 503.04,32.43 503.19,33.76 503.34,35.2 503.48,36.75 503.63,38.4 503.78,40.13 503.93,41.95 504.08,43.84 504.23,45.8 504.38,47.81 504.52,49.87 504.67,51.97 504.82,54.11 504.97,56.26 505.12,58.42 505.27,60.58 505.42,62.74 505.56,64.88 505.71,66.99 505.86,69.06 506.01,71.09 506.16,73.06 506.31,74.97 506.45,76.81 506.6,78.56 506.75,80.23 506.9,81.8 507.05,83.26 507.2,84.62 507.35,85.86 507.49,86.98 507.64,87.96 507.79,88.82 507.94,89.54 508.09,90.13 508.24,90.57 508.39,90.86 508.53,91.01 508.68,91.02 508.83,90.87 508.98,90.58 509.13,90.15 509.28,89.57 509.43,88.84 509.57,87.98 509.72,86.99 509.87,85.86 510.02,84.61 510.17,83.24 510.32,81.75 510.47,80.16 510.61,78.46 510.76,76.67 510.91,74.8 511.06,72.84 511.21,70.82 511.36,68.74 511.51,66.6 511.65,64.42 511.8,62.22 511.95,59.98 512.1,57.74 512.25,55.49 512.4,53.26 512.54,51.03 512.69,48.84 512.84,46.68 512.99,44.57 513.14,42.52 513.29,40.53 513.44,38.62 513.58,36.79 513.73,35.05 513.88,33.41 514.03,31.87 514.18,30.45 514.33,29.15 514.48,27.98 514.62,26.94 514.77,26.03 514.92,25.27 515.07,24.64 515.22,24.17 515.37,23.85 515.52,23.67 515.66,23.65 515.81,23.78 515.96,24.07 516.11,24.5 516.26,25.08 516.41,25.82 516.56,26.69 516.7,27.71 516.85,28.86 517,30.14 517.15,31.55 517.3,33.08 517.45,34.72 517.59,36.46 517.74,38.31 517.89,40.24 518.04,42.26 518.19,44.35 518.34,46.5 518.49,48.71 518.63,50.96 518.78,53.24 518.93,55.55 519.08,57.88 519.23,60.21 519.38,62.53 519.53,64.83 519.67,67.11 519.82,69.35 519.97,71.54 520.12,73.68 520.27,75.75 520.42,77.74 520.57,79.65 520.71,81.46 520.86,83.17 521.01,84.77 521.16,86.26 521.31,87.62 521.46,88.85 521.61,89.95 521.75,90.9 521.9,91.71 522.05,92.38 522.2,92.89 522.35,93.24 522.5,93.44 522.65,93.48 522.79,93.36 522.94,93.09 523.09,92.66 523.24,92.07 523.39,91.33 523.54,90.44 523.68,89.41 523.83,88.23 523.98,86.92 524.13,85.48 524.28,83.91 524.43,82.22 524.58,80.43 524.72,78.53 524.87,76.54 525.02,74.46 525.17,72.3 525.32,70.08 525.47,67.8 525.62,65.48 525.76,63.12 525.91,60.73 526.06,58.32 526.21,55.91 526.36,53.51 526.51,51.12 526.66,48.76 526.8,46.44 526.95,44.16 527.1,41.94 527.25,39.79 527.4,37.72 527.55,35.74 527.7,33.85 527.84,32.06 527.99,30.39 528.14,28.84 528.29,27.42 528.44,26.13 528.59,24.97 528.73,23.97 528.88,23.11 529.03,22.41 529.18,21.86 529.33,21.48 529.48,21.25 529.63,21.19 529.77,21.29 529.92,21.56 530.07,21.99 530.22,22.57 530.37,23.32 530.52,24.22 530.67,25.27 530.81,26.47 530.96,27.81 531.11,29.29 531.26,30.9 531.41,32.63 531.56,34.47 531.71,36.42 531.85,38.47 532,40.61 532.15,42.83 532.3,45.12 532.45,47.47 532.6,49.87 532.75,52.3 532.89,54.77 533.04,57.26 533.19,59.75 533.34,62.23 533.49,64.71 533.64,67.15 533.79,69.56 533.93,71.92 534.08,74.22 534.23,76.45 534.38,78.6 534.53,80.66 534.68,82.63 534.82,84.48 534.97,86.23 535.12,87.84 535.27,89.33 535.42,90.68 535.57,91.89 535.72,92.95 535.86,93.85 536.01,94.6 536.16,95.18 536.31,95.6 536.46,95.85 536.61,95.93 536.76,95.85 536.9,95.59 537.05,95.17 537.2,94.58 537.35,93.83 537.5,92.92 537.65,91.85 537.8,90.63 537.94,89.26 538.09,87.75 538.24,86.11 538.39,84.34 538.54,82.45 538.69,80.45 538.84,78.34 538.98,76.14 539.13,73.86 539.28,71.5 539.43,69.08 539.58,66.61 539.73,64.1 539.87,61.55 540.02,58.99 540.17,56.41 540.32,53.84 540.47,51.29 540.62,48.76 540.77,46.27 540.91,43.83 541.06,41.44 541.21,39.13 541.36,36.9 541.51,34.76 541.66,32.72 541.81,30.78 541.95,28.97 542.1,27.28 542.25,25.73 542.4,24.32" fill="none" stroke="#b3b3b3" stroke-width="3.5" stroke-linejoin="round"/>
<polyline points="319.6,57.95 319.75,57.92 319.9,57.9 320.05,57.87 320.19,57.85 320.34,57.83 320.49,57.81 320.64,57.79 320.79,57.77 320.94,57.76 321.09,57.75 321.23,57.74 321.38,57.73 321.53,57.73 321.68,57.73 321.83,57.74 321.98,57.75 322.13,57.76 322.27,57.78 322.42,57.8 322.57,57.83 322.72,57.86 322.87,57.89 323.02,57.93 323.16,57.97 323.31,58.01 323.46,58.06 323.61,58.11 323.76,58.16 323.91,58.22 324.06,58.27 324.2,58.33 324.35,58.39 324.5,58.45 324.65,58.52 324.8,58.58 324.95,58.64 325.1,58.7 325.24,58.76 325.39,58.82 325.54,58.87 325.69,58.93 325.84,58.98 325.99,59.03 326.14,59.07 326.28,59.11 326.43,59.14 326.58,59.17 326.73,59.2 326.88,59.21 327.03,59.23 327.18,59.23 327.32,59.23 327.47,59.22 327.62,59.21 327.77,59.19 327.92,59.16 328.07,59.12 328.21,59.08 328.36,59.03 328.51,58.97 328.66,58.9 328.81,58.83 328.96,58.75 329.11,58.67 329.25,58.58 329.4,58.48 329.55,58.37 329.7,58.26 329.85,58.15 330,58.03 330.15,57.91 330.29,57.79 330.44,57.66 330.59,57.53 330.74,57.4 330.89,57.26 331.04,57.13 331.19,57 331.33,56.87 331.48,56.74 331.63,56.61 331.78,56.49 331.93,56.37 332.08,56.26 332.23,56.15 332.37,56.04 332.52,55.95 332.67,55.86 332.82,55.78 332.97,55.7 333.12,55.64 333.27,55.58 333.41,55.54 333.56,55.51 333.71,55.48 333.86,55.47 334.01,55.47 334.16,55.48 334.3,55.5 334.45,55.54 334.6,55.59 334.75,55.64 334.9,55.72 335.05,55.8 335.2,55.89 335.34,56 335.49,56.11 335.64,56.24 335.79,56.38 335.94,56.53 336.09,56.68 336.24,56.85 336.38,57.02 336.53,57.21 336.68,57.39 336.83,57.59 336.98,57.79 337.13,57.99 337.28,58.2 337.42,58.4 337.57,58.61 337.72,58.82 337.87,59.03 338.02,59.24 338.17,59.45 338.32,59.65 338.46,59.85 338.61,60.04 338.76,60.23 338.91,60.4 339.06,60.57 339.21,60.73 339.35,60.88 339.5,61.02 339.65,61.15 339.8,61.26 339.95,61.36 340.1,61.45 340.25,61.52 340.39,61.57 340.54,61.61 340.69,61.64 340.84,61.65 340.99,61.64 341.14,61.61 341.29,61.57 341.43,61.51 341.58,61.43 341.73,61.33 341.88,61.22 342.03,61.09 342.18,60.95 342.33,60.79 342.47,60.62 342.62,60.43 342.77,60.23 342.92,60.01 343.07,59.78 343.22,59.54 343.37,59.29 343.51,59.04 343.66,58.77 343.81,58.49 343.96,58.22 344.11,57.93 344.26,57.64 344.41,57.35 344.55,57.06 344.7,56.77 344.85,56.49 345,56.2 345.15,55.92 345.3,55.65 345.44,55.38 345.59,55.12 345.74,54.87 345.89,54.63 346.04,54.41 346.19,54.2 346.34,54 346.48,53.82 346.63,53.65 346.78,53.51 346.93,53.38 347.08,53.27 347.23,53.18 347.38,53.11 347.52,53.06 347.67,53.04 347.82,53.03 347.97,53.05 348.12,53.09 348.27,53.16 348.42,53.24 348.56,53.35 348.71,53.48 348.86,53.63 349.01,53.8 349.16,53.99 349.31,54.21 349.46,54.44 349.6,54.69 349.75,54.95 349.9,55.24 350.05,55.53 350.2,55.85 350.35,56.17 350.49,56.5 350.64,56.85 350.79,57.2 350.94,57.56 351.09,57.93 351.24,58.3 351.39,58.67 351.53,59.04 351.68,59.41 351.83,59.78 351.98,60.14 352.13,60.49 352.28,60.84 352.43,61.18 352.57,61.5 352.72,61.81 352.87,62.11 353.02,62.39 353.17,62.66 353.32,62.9 353.47,63.13 353.61,63.33 353.76,63.52 353.91,63.67 354.06,63.81 354.21,63.92 354.36,64 354.51,64.05 354.65,64.08 354.8,64.09 354.95,64.06 355.1,64.01 355.25,63.93 355.4,63.82 355.55,63.68 355.69,63.52 355.84,63.33 355.99,63.11 356.14,62.87 356.29,62.61 356.44,62.32 356.58,62.01 356.73,61.68 356.88,61.34 357.03,60.97 357.18,60.58 357.33,60.19 357.48,59.77 357.62,59.35 357.77,58.92 357.92,58.48 358.07,58.03 358.22,57.58 358.37,57.13 358.52,56.68 358.66,56.23 358.81,55.78 358.96,55.34 359.11,54.91 359.26,54.49 359.41,54.09 359.56,53.69 359.7,53.31 359.85,52.96 360,52.62 360.15,52.3 360.3,52 360.45,51.73 360.6,51.49 360.74,51.27 360.89,51.08 361.04,50.92 361.19,50.79 361.34,50.69 361.49,50.63 361.63,50.59 361.78,50.59 361.93,50.62 362.08,50.69 362.23,50.79 362.38,50.92 362.53,51.08 362.67,51.28 362.82,51.5 362.97,51.76 363.12,52.04 363.27,52.36 363.42,52.7 363.57,53.07 363.71,53.46 363.86,53.88 364.01,54.31 364.16,54.77 364.31,55.24 364.46,55.73 364.61,56.23 364.75,56.74 364.9,57.26 365.05,57.79 365.2,58.32 365.35,58.85 365.5,59.39 365.65,59.92 365.79,60.44 365.94,60.96 366.09,61.46 366.24,61.96 366.39,62.44 366.54,62.9 366.69,63.34 366.83,63.76 366.98,64.16 367.13,64.53 367.28,64.88 367.43,65.2 367.58,65.48 367.72,65.74 367.87,65.96 368.02,66.15 368.17,66.3 368.32,66.41 368.47,66.49 368.62,66.53 368.76,66.53 368.91,66.49 369.06,66.42 369.21,66.31 369.36,66.16 369.51,65.97 369.66,65.74 369.8,65.48 369.95,65.18 370.1,64.85 370.25,64.48 370.4,64.09 370.55,63.66 370.7,63.21 370.84,62.73 370.99,62.23 371.14,61.7 371.29,61.15 371.44,60.59 371.59,60.01 371.74,59.42 371.88,58.82 372.03,58.21 372.18,57.6 372.33,56.99 372.48,56.37 372.63,55.76 372.77,55.16 372.92,54.56 373.07,53.98 373.22,53.41 373.37,52.86 373.52,52.33 373.67,51.82 373.81,51.33 373.96,50.88 374.11,50.45 374.26,50.05 374.41,49.69 374.56,49.36 374.71,49.06 374.85,48.81 375,48.59 375.15,48.42 375.3,48.29 375.45,48.2 375.6,48.15 375.75,48.14 375.89,48.18 376.04,48.27 376.19,48.4 376.34,48.57 376.49,48.78 376.64,49.04 376.79,49.33 376.93,49.67 377.08,50.05 377.23,50.46 377.38,50.91 377.53,51.39 377.68,51.9 377.83,52.45 377.97,53.02 378.12,53.62 378.27,54.23 378.42,54.87 378.57,55.53 378.72,56.2 378.86,56.88 379.01,57.57 379.16,58.26 379.31,58.96 379.46,59.65 379.61,60.34 379.76,61.03 379.9,61.7 380.05,62.36 380.2,63 380.35,63.63 380.5,64.23 380.65,64.81 380.8,65.35 380.94,65.87 381.09,66.36 381.24,66.81 381.39,67.22 381.54,67.6 381.69,67.93 381.84,68.22 381.98,68.46 382.13,68.66 382.28,68.81 382.43,68.92 382.58,68.97 382.73,68.98 382.88,68.94 383.02,68.85 383.17,68.71 383.32,68.52 383.47,68.28 383.62,68 383.77,67.67 383.91,67.29 384.06,66.87 384.21,66.41 384.36,65.91 384.51,65.37 384.66,64.8 384.81,64.19 384.95,63.55 385.1,62.89 385.25,62.2 385.4,61.48 385.55,60.75 385.7,60 385.85,59.24 385.99,58.47 386.14,57.7 386.29,56.92 386.44,56.15 386.59,55.37 386.74,54.61 386.89,53.86 387.03,53.12 387.18,52.4 387.33,51.7 387.48,51.03 387.63,50.39 387.78,49.77 387.93,49.19 388.07,48.65 388.22,48.15 388.37,47.68 388.52,47.26 388.67,46.89 388.82,46.57 388.97,46.29 389.11,46.06 389.26,45.89 389.41,45.77 389.56,45.71 389.71,45.69 389.86,45.74 390,45.83 390.15,45.99 390.3,46.19 390.45,46.45 390.6,46.76 390.75,47.13 390.9,47.54 391.04,48 391.19,48.51 391.34,49.06 391.49,49.65 391.64,50.28 391.79,50.95 391.94,51.66 392.08,52.39 392.23,53.15 392.38,53.94 392.53,54.75 392.68,55.58 392.83,56.41 392.98,57.26 393.12,58.12 393.27,58.98 393.42,59.84 393.57,60.69 393.72,61.53 393.87,62.37 394.02,63.18 394.16,63.98 394.31,64.75 394.46,65.49 394.61,66.21 394.76,66.88 394.91,67.53 395.05,68.13 395.2,68.69 395.35,69.2 395.5,69.67 395.65,70.08 395.8,70.44 395.95,70.75 396.09,71 396.24,71.2 396.39,71.34 396.54,71.41 396.69,71.43 396.84,71.39 396.99,71.29 397.13,71.12 397.28,70.9 397.43,70.62 397.58,70.29 397.73,69.89 397.88,69.44 398.03,68.94 398.17,68.39 398.32,67.79 398.47,67.14 398.62,66.45 398.77,65.72 398.92,64.95 399.07,64.15 399.21,63.31 399.36,62.45 399.51,61.57 399.66,60.67 399.81,59.75 399.96,58.82 400.11,57.88 400.25,56.94 400.4,56 400.55,55.07 400.7,54.14 400.85,53.23 401,52.34 401.14,51.46 401.29,50.62 401.44,49.8 401.59,49.02 401.74,48.27 401.89,47.57 402.04,46.91 402.18,46.29 402.33,45.72 402.48,45.21 402.63,44.75 402.78,44.35 402.93,44.01 403.08,43.73 403.22,43.51 403.37,43.36 403.52,43.27 403.67,43.24 403.82,43.28 403.97,43.39 404.12,43.56 404.26,43.8 404.41,44.1 404.56,44.46 404.71,44.88 404.86,45.37 405.01,45.91 405.16,46.5 405.3,47.15 405.45,47.85 405.6,48.6 405.75,49.39 405.9,50.23 406.05,51.1 406.19,52 406.34,52.94 406.49,53.89 406.64,54.87 406.79,55.87 406.94,56.88 407.09,57.9 407.23,58.92 407.38,59.94 407.53,60.96 407.68,61.96 407.83,62.96 407.98,63.93 408.13,64.88 408.27,65.8 408.42,66.69 408.57,67.54 408.72,68.35 408.87,69.12 409.02,69.85 409.17,70.52 409.31,71.14 409.46,71.7 409.61,72.2 409.76,72.64 409.91,73.02 410.06,73.33 410.21,73.57 410.35,73.74 410.5,73.85 410.65,73.88 410.8,73.85 410.95,73.74 411.1,73.56 411.25,73.31 411.39,72.99 411.54,72.61 411.69,72.15 411.84,71.64 411.99,71.06 412.14,70.42 412.28,69.72 412.43,68.97 412.58,68.16 412.73,67.31 412.88,66.41 413.03,65.48 413.18,64.5 413.32,63.5 413.47,62.46 413.62,61.4 413.77,60.33 413.92,59.24 414.07,58.14 414.22,57.04 414.36,55.93 414.51,54.84 414.66,53.75 414.81,52.68 414.96,51.63 415.11,50.6 415.26,49.6 415.4,48.64 415.55,47.72 415.7,46.83 415.85,46 416,45.22 416.15,44.49 416.3,43.81 416.44,43.2 416.59,42.65 416.74,42.17 416.89,41.76 417.04,41.42 417.19,41.15 417.33,40.96 417.48,40.84 417.63,40.79 417.78,40.83 417.93,40.93 418.08,41.12 418.23,41.38 418.37,41.71 418.52,42.12 418.67,42.6 418.82,43.15 418.97,43.77 419.12,44.45 419.27,45.2 419.41,46 419.56,46.86 419.71,47.77 419.86,48.73 420.01,49.73 420.16,50.78 420.31,51.85 420.45,52.96 420.6,54.1 420.75,55.25 420.9,56.42 421.05,57.6 421.2,58.78 421.35,59.97 421.49,61.15 421.64,62.32 421.79,63.47 421.94,64.6 422.09,65.7 422.24,66.78 422.39,67.81 422.53,68.81 422.68,69.76 422.83,70.66 422.98,71.51 423.13,72.3 423.28,73.02 423.42,73.69 423.57,74.28 423.72,74.8 423.87,75.25 424.02,75.63 424.17,75.92 424.32,76.14 424.46,76.28 424.61,76.33 424.76,76.3 424.91,76.2 425.06,76.01 425.21,75.74 425.36,75.39 425.5,74.96 425.65,74.45 425.8,73.87 425.95,73.21 426.1,72.49 426.25,71.7 426.4,70.85 426.54,69.93 426.69,68.96 426.84,67.94 426.99,66.87 427.14,65.76 427.29,64.61 427.44,63.43 427.58,62.22 427.73,60.99 427.88,59.74 428.03,58.48 428.18,57.22 428.33,55.95 428.47,54.69 428.62,53.44 428.77,52.21 428.92,50.99 429.07,49.81 429.22,48.66 429.37,47.55 429.51,46.48 429.66,45.46 429.81,44.49 429.96,43.58 430.11,42.73 430.26,41.95 430.41,41.24 430.55,40.59 430.7,40.03 430.85,39.54 431,39.13 431.15,38.81 431.3,38.57 431.45,38.41 431.59,38.35 431.74,38.37 431.89,38.47 432.04,38.66 432.19,38.94 432.34,39.31 432.49,39.76 432.63,40.29 432.78,40.9 432.93,41.59 433.08,42.35 433.23,43.19 433.38,44.09 433.53,45.06 433.67,46.08 433.82,47.17 433.97,48.3 434.12,49.48 434.27,50.7 434.42,51.95 434.56,53.24 434.71,54.55 434.86,55.88 435.01,57.22 435.16,58.56 435.31,59.91 435.46,61.26 435.6,62.59 435.75,63.9 435.9,65.19 436.05,66.45 436.2,67.68 436.35,68.87 436.5,70.01 436.64,71.1 436.79,72.14 436.94,73.11 437.09,74.02 437.24,74.86 437.39,75.63 437.54,76.32 437.68,76.93 437.83,77.46 437.98,77.9 438.13,78.25 438.28,78.52 438.43,78.69 438.58,78.78 438.72,78.76 438.87,78.66 439.02,78.47 439.17,78.18 439.32,77.8 439.47,77.33 439.61,76.78 439.76,76.14 439.91,75.42 440.06,74.61 440.21,73.73 440.36,72.78 440.51,71.76 440.65,70.68 440.8,69.54 440.95,68.34 441.1,67.1 441.25,65.81 441.4,64.48 441.55,63.12 441.69,61.73 441.84,60.32 441.99,58.9 442.14,57.48 442.29,56.05 442.44,54.62 442.59,53.21 442.73,51.81 442.88,50.44 443.03,49.1 443.18,47.79 443.33,46.53 443.48,45.31 443.63,44.15 443.77,43.05 443.92,42.01 444.07,41.04 444.22,40.14 444.37,39.32 444.52,38.58 444.67,37.92 444.81,37.35 444.96,36.87 445.11,36.49 445.26,36.2 445.41,36 445.56,35.9 445.7,35.91 445.85,36 446,36.2 446.15,36.49 446.3,36.88 446.45,37.37 446.6,37.95 446.74,38.61 446.89,39.37 447.04,40.21 447.19,41.13 447.34,42.13 447.49,43.2 447.64,44.34 447.78,45.54 447.93,46.8 448.08,48.11 448.23,49.47 448.38,50.87 448.53,52.31 448.68,53.77 448.82,55.25 448.97,56.75 449.12,58.26 449.27,59.78 449.42,61.28 449.57,62.78 449.72,64.26 449.86,65.71 450.01,67.13 450.16,68.51 450.31,69.85 450.46,71.14 450.61,72.38 450.75,73.55 450.9,74.66 451.05,75.69 451.2,76.65 451.35,77.53 451.5,78.32 451.65,79.02 451.79,79.63 451.94,80.15 452.09,80.56 452.24,80.88 452.39,81.1 452.54,81.21 452.69,81.22 452.83,81.13 452.98,80.94 453.13,80.64 453.28,80.24 453.43,79.74 453.58,79.14 453.73,78.44 453.87,77.66 454.02,76.78 454.17,75.82 454.32,74.77 454.47,73.65 454.62,72.46 454.77,71.2 454.91,69.88 455.06,68.5 455.21,67.07 455.36,65.6 455.51,64.09 455.66,62.55 455.81,60.99 455.95,59.41 456.1,57.82 456.25,56.22 456.4,54.63 456.55,53.06 456.7,51.5 456.84,49.96 456.99,48.46 457.14,47 457.29,45.58 457.44,44.21 457.59,42.91 457.74,41.66 457.88,40.49 458.03,39.39 458.18,38.38 458.33,37.44 458.48,36.6 458.63,35.85 458.78,35.19 458.92,34.64 459.07,34.19 459.22,33.84 459.37,33.6 459.52,33.47 459.67,33.45 459.82,33.53 459.96,33.73 460.11,34.03 460.26,34.44 460.41,34.95 460.56,35.57 460.71,36.29 460.86,37.11 461,38.02 461.15,39.02 461.3,40.11 461.45,41.28 461.6,42.53 461.75,43.85 461.89,45.23 462.04,46.67 462.19,48.17 462.34,49.71 462.49,51.3 462.64,52.91 462.79,54.55 462.93,56.21 463.08,57.88 463.23,59.56 463.38,61.23 463.53,62.89 463.68,64.53 463.83,66.15 463.97,67.73 464.12,69.27 464.27,70.77 464.42,72.21 464.57,73.59 464.72,74.9 464.87,76.14 465.01,77.31 465.16,78.39 465.31,79.38 465.46,80.27 465.61,81.07 465.76,81.77 465.91,82.36 466.05,82.85 466.2,83.23 466.35,83.49 466.5,83.64 466.65,83.68 466.8,83.6 466.95,83.41 467.09,83.11 467.24,82.69 467.39,82.16 467.54,81.53 467.69,80.78 467.84,79.94 467.98,78.99 468.13,77.95 468.28,76.82 468.43,75.6 468.58,74.3 468.73,72.92 468.88,71.48 469.02,69.97 469.17,68.41 469.32,66.79 469.47,65.14 469.62,63.45 469.77,61.73 469.92,59.99 470.06,58.24 470.21,56.48 470.36,54.73 470.51,52.98 470.66,51.26 470.81,49.56 470.96,47.9 471.1,46.28 471.25,44.7 471.4,43.19 471.55,41.73 471.7,40.35 471.85,39.04 472,37.81 472.14,36.67 472.29,35.62 472.44,34.67 472.59,33.82 472.74,33.07 472.89,32.44 473.03,31.92 473.18,31.51 473.33,31.22 473.48,31.05 473.63,30.99 473.78,31.06 473.93,31.25 474.07,31.55 474.22,31.98 474.37,32.52 474.52,33.17 474.67,33.94 474.82,34.81 474.97,35.79 475.11,36.87 475.26,38.04 475.41,39.31 475.56,40.66 475.71,42.09 475.86,43.6 476.01,45.17 476.15,46.8 476.3,48.48 476.45,50.21 476.6,51.97 476.75,53.77 476.9,55.59 477.05,57.42 477.19,59.26 477.34,61.1 477.49,62.92 477.64,64.73 477.79,66.51 477.94,68.25 478.09,69.95 478.23,71.61 478.38,73.2 478.53,74.73 478.68,76.19 478.83,77.57 478.98,78.86 479.12,80.07 479.27,81.18 479.42,82.18 479.57,83.08 479.72,83.87 479.87,84.55 480.02,85.11 480.16,85.55 480.31,85.87 480.46,86.06 480.61,86.13 480.76,86.08 480.91,85.9 481.06,85.59 481.2,85.16 481.35,84.61 481.5,83.94 481.65,83.15 481.8,82.25 481.95,81.24 482.1,80.13 482.24,78.91 482.39,77.6 482.54,76.2 482.69,74.71 482.84,73.15 482.99,71.51 483.14,69.82 483.28,68.06 483.43,66.26 483.58,64.42 483.73,62.55 483.88,60.65 484.03,58.74 484.17,56.82 484.32,54.9 484.47,52.99 484.62,51.11 484.77,49.24 484.92,47.42 485.07,45.63 485.21,43.9 485.36,42.23 485.51,40.62 485.66,39.09 485.81,37.64 485.96,36.28 486.11,35.01 486.25,33.84 486.4,32.78 486.55,31.83 486.7,30.99 486.85,30.27 487,29.67 487.15,29.2 487.29,28.85 487.44,28.63 487.59,28.54 487.74,28.59 487.89,28.76 488.04,29.06 488.19,29.5 488.33,30.06 488.48,30.74 488.63,31.55 488.78,32.48 488.93,33.52 489.08,34.67 489.23,35.93 489.37,37.28 489.52,38.73 489.67,40.27 489.82,41.9 489.97,43.59 490.12,45.35 490.26,47.17 490.41,49.05 490.56,50.96 490.71,52.91 490.86,54.89 491.01,56.88 491.16,58.88 491.3,60.88 491.45,62.87 491.6,64.84 491.75,66.79 491.9,68.7 492.05,70.56 492.2,72.37 492.34,74.12 492.49,75.8 492.64,77.41 492.79,78.93 492.94,80.36 493.09,81.69 493.24,82.92 493.38,84.04 493.53,85.05 493.68,85.94 493.83,86.7 493.98,87.34 494.13,87.85 494.28,88.23 494.42,88.47 494.57,88.58 494.72,88.55 494.87,88.38 495.02,88.08 495.17,87.65 495.31,87.08 495.46,86.38 495.61,85.55 495.76,84.6 495.91,83.53 496.06,82.35 496.21,81.05 496.35,79.65 496.5,78.15 496.65,76.56 496.8,74.88 496.95,73.12 497.1,71.29 497.25,69.41 497.39,67.46 497.54,65.47 497.69,63.45 497.84,61.39 497.99,59.32 498.14,57.24 498.29,55.16 498.43,53.08 498.58,51.03 498.73,49 498.88,47.01 499.03,45.07 499.18,43.17 499.33,41.34 499.47,39.59 499.62,37.91 499.77,36.31 499.92,34.81 500.07,33.41 500.22,32.12 500.37,30.94 500.51,29.88 500.66,28.94 500.81,28.13 500.96,27.45 501.11,26.91 501.26,26.5 501.4,26.23 501.55,26.1 501.7,26.12 501.85,26.27 502,26.57 502.15,27 502.3,27.58 502.44,28.29 502.59,29.13 502.74,30.11 502.89,31.21 503.04,32.43 503.19,33.76 503.34,35.2 503.48,36.75 503.63,38.4 503.78,40.13 503.93,41.95 504.08,43.84 504.23,45.8 504.38,47.81 504.52,49.87 504.67,51.97 504.82,54.11 504.97,56.26 505.12,58.42 505.27,60.58 505.42,62.74 505.56,64.88 505.71,66.99 505.86,69.06 506.01,71.09 506.16,73.06 506.31,74.97 506.45,76.81 506.6,78.56 506.75,80.23 506.9,81.8 507.05,83.26 507.2,84.62 507.35,85.86 507.49,86.98 507.64,87.96 507.79,88.82 507.94,89.54 508.09,90.13 508.24,90.57 508.39,90.86 508.53,91.01 508.68,91.02 508.83,90.87 508.98,90.58 509.13,90.15 509.28,89.57 509.43,88.84 509.57,87.98 509.72,86.99 509.87,85.86 510.02,84.61 510.17,83.24 510.32,81.75 510.47,80.16 510.61,78.46 510.76,76.67 510.91,74.8 511.06,72.84 511.21,70.82 511.36,68.74 511.51,66.6 511.65,64.42 511.8,62.22 511.95,59.98 512.1,57.74 512.25,55.49 512.4,53.26 512.54,51.03 512.69,48.84 512.84,46.68 512.99,44.57 513.14,42.52 513.29,40.53 513.44,38.62 513.58,36.79 513.73,35.05 513.88,33.41 514.03,31.87 514.18,30.45 514.33,29.15 514.48,27.98 514.62,26.94 514.77,26.03 514.92,25.27 515.07,24.64 515.22,24.17 515.37,23.85 515.52,23.67 515.66,23.65 515.81,23.78 515.96,24.07 516.11,24.5 516.26,25.08 516.41,25.82 516.56,26.69 516.7,27.71 516.85,28.86 517,30.14 517.15,31.55 517.3,33.08 517.45,34.72 517.59,36.46 517.74,38.31 517.89,40.24 518.04,42.26 518.19,44.35 518.34,46.5 518.49,48.71 518.63,50.96 518.78,53.24 518.93,55.55 519.08,57.88 519.23,60.21 519.38,62.53 519.53,64.83 519.67,67.11 519.82,69.35 519.97,71.54 520.12,73.68 520.27,75.75 520.42,77.74 520.57,79.65 520.71,81.46 520.86,83.17 521.01,84.77 521.16,86.26 521.31,87.62 521.46,88.85 521.61,89.95 521.75,90.9 521.9,91.71 522.05,92.38 522.2,92.89 522.35,93.24 522.5,93.44 522.65,93.48 522.79,93.36 522.94,93.09 523.09,92.66 523.24,92.07 523.39,91.33 523.54,90.44 523.68,89.41 523.83,88.23 523.98,86.92 524.13,85.48 524.28,83.91 524.43,82.22 524.58,80.43 524.72,78.53 524.87,76.54 525.02,74.46 525.17,72.3 525.32,70.08 525.47,67.8 525.62,65.48 525.76,63.12 525.91,60.73 526.06,58.32 526.21,55.91 526.36,53.51 526.51,51.12 526.66,48.76 526.8,46.44 526.95,44.16 527.1,41.94 527.25,39.79 527.4,37.72 527.55,35.74 527.7,33.85 527.84,32.06 527.99,30.39 528.14,28.84 528.29,27.42 528.44,26.13 528.59,24.97 528.73,23.97 528.88,23.11 529.03,22.41 529.18,21.86 529.33,21.48 529.48,21.25 529.63,21.19 529.77,21.29 529.92,21.56 530.07,21.99 530.22,22.57 530.37,23.32 530.52,24.22 530.67,25.27 530.81,26.47 530.96,27.81 531.11,29.29 531.26,30.9 531.41,32.63 531.56,34.47 531.71,36.42 531.85,38.47 532,40.61 532.15,42.83 532.3,45.12 532.45,47.47 532.6,49.87 532.75,52.3 532.89,54.77 533.04,57.26 533.19,59.75 533.34,62.23 533.49,64.71 533.64,67.15 533.79,69.56 533.93,71.92 534.08,74.22 534.23,76.45 534.38,78.6 534.53,80.66 534.68,82.63 534.82,84.48 534.97,86.23 535.12,87.84 535.27,89.33 535.42,90.68 535.57,91.89 535.72,92.95 535.86,93.85 536.01,94.6 536.16,95.18 536.31,95.6 536.46,95.85 536.61,95.93 536.76,95.85 536.9,95.59 537.05,95.17 537.2,94.58 537.35,93.83 537.5,92.92 537.65,91.85 537.8,90.63 537.94,89.26 538.09,87.75 538.24,86.11 538.39,84.34 538.54,82.45 538.69,80.45 538.84,78.34 538.98,76.14 539.13,73.86 539.28,71.5 539.43,69.08 539.58,66.61 539.73,64.1 539.87,61.55 540.02,58.99 540.17,56.41 540.32,53.84 540.47,51.29 540.62,48.76 540.77,46.27 540.91,43.83 541.06,41.44 541.21,39.13 541.36,36.9 541.51,34.76 541.66,32.72 541.81,30.78 541.95,28.97 542.1,27.28 542.25,25.73 542.4,24.32" fill="none" stroke="#ff0000" stroke-width="1.8" stroke-dasharray="5 1.25 2 1.25" stroke-linejoin="round"/>
</g>
<text transform="translate(319.6 107.4) scale(0.95 1)" text-anchor="middle" font-family="'Liberation Serif', serif" font-size="9.4" fill="#262626" stroke="#262626" stroke-width="0.2">0</text><text transform="translate(364.16 107.4) scale(0.95 1)" text-anchor="middle" font-family="'Liberation Serif', serif" font-size="9.4" fill="#262626" stroke="#262626" stroke-width="0.2">2</text><text transform="translate(408.72 107.4) scale(0.95 1)" text-anchor="middle" font-family="'Liberation Serif', serif" font-size="9.4" fill="#262626" stroke="#262626" stroke-width="0.2">4</text><text transform="translate(453.28 107.4) scale(0.95 1)" text-anchor="middle" font-family="'Liberation Serif', serif" font-size="9.4" fill="#262626" stroke="#262626" stroke-width="0.2">6</text><text transform="translate(497.84 107.4) scale(0.95 1)" text-anchor="middle" font-family="'Liberation Serif', serif" font-size="9.4" fill="#262626" stroke="#262626" stroke-width="0.2">8</text><text transform="translate(542.4 107.4) scale(0.95 1)" text-anchor="middle" font-family="'Liberation Serif', serif" font-size="9.4" fill="#262626" stroke="#262626" stroke-width="0.2">10</text><text transform="translate(317.1 21.25) scale(0.95 1)" text-anchor="end" font-family="'Liberation Serif', serif" font-size="9.4" fill="#262626" stroke="#262626" stroke-width="0.2">0.5</text><text transform="translate(317.1 60.25) scale(0.95 1)" text-anchor="end" font-family="'Liberation Serif', serif" font-size="9.4" fill="#262626" stroke="#262626" stroke-width="0.2">0</text><text transform="translate(317.1 99.25) scale(0.95 1)" text-anchor="end" font-family="'Liberation Serif', serif" font-size="9.4" fill="#262626" stroke="#262626" stroke-width="0.2">−0.5</text>
<text transform="translate(431 121.05)" text-anchor="middle" font-family="'Liberation Sans', sans-serif" font-size="9.9" fill="#262626" stroke="#262626" stroke-width="0.15">Time [s]</text>
<text transform="translate(292.2 57.65) rotate(-90)" text-anchor="middle" font-family="'Liberation Sans', sans-serif" font-size="9.9" fill="#262626" stroke="#262626" stroke-width="0.15">v<tspan font-size="6.9" dy="4.2">x</tspan><tspan dy="-4.2"> [m/s]</tspan></text>
<text transform="translate(430.6 10.7)" text-anchor="middle" font-family="'Liberation Sans', sans-serif" font-size="10.05" font-weight="bold" fill="#000">Velocity m<tspan font-size="8.0" dy="4.8">1</tspan></text>
<path d="M70.84 143.15V221.15M115.38 143.15V221.15M159.92 143.15V221.15M204.46 143.15V221.15" stroke="#dcdcdc" stroke-width="0.6" fill="none"/>
<path d="M26.3 221.15v-2.2M26.3 143.15v2.2M70.84 221.15v-2.2M70.84 143.15v2.2M115.38 221.15v-2.2M115.38 143.15v2.2M159.92 221.15v-2.2M159.92 143.15v2.2M204.46 221.15v-2.2M204.46 143.15v2.2M249 221.15v-2.2M249 143.15v2.2M26.3 221.15h2.2M249 221.15h-2.2M26.3 182.15h2.2M249 182.15h-2.2M26.3 143.15h2.2M249 143.15h-2.2" stroke="#262626" stroke-width="0.6" fill="none"/>
<rect x="26.3" y="143.15" width="222.7" height="78" fill="none" stroke="#262626" stroke-width="0.65"/>
<g>
<polyline points="26.3,182.15 27.04,182.15 27.78,182.15 28.53,182.15 29.27,182.15 30.01,182.15 30.75,182.15 31.5,182.15 32.24,182.15 32.98,182.15 33.72,182.15 34.47,182.15 35.21,182.15 35.95,182.15 36.69,182.15 37.44,182.15 38.18,182.15 38.92,182.15 39.66,182.15 40.4,182.15 41.15,182.15 41.89,182.15 42.63,182.15 43.37,182.15 44.12,182.15 44.86,182.15 45.6,182.15 46.34,182.15 47.09,182.15 47.83,182.15 48.57,182.15 49.31,182.15 50.05,182.15 50.8,182.15 51.54,182.15 52.28,182.15 53.02,182.15 53.77,182.15 54.51,182.15 55.25,182.15 55.99,182.15 56.74,182.15 57.48,182.15 58.22,182.15 58.96,182.15 59.7,182.15 60.45,182.15 61.19,182.15 61.93,182.15 62.67,182.15 63.42,182.15 64.16,182.15 64.9,182.15 65.64,182.15 66.39,182.15 67.13,182.15 67.87,182.15 68.61,182.15 69.36,182.15 70.1,182.15 70.84,182.15 71.58,182.15 72.32,182.15 73.07,182.15 73.81,182.15 74.55,182.15 75.29,182.15 76.04,182.15 76.78,182.15 77.52,182.15 78.26,182.15 79.01,182.15 79.75,182.15 80.49,182.15 81.23,182.15 81.97,182.15 82.72,182.15 83.46,182.15 84.2,182.15 84.94,182.15 85.69,182.15 86.43,182.15 87.17,182.15 87.91,182.15 88.66,182.15 89.4,182.15 90.14,182.15 90.88,182.15 91.63,182.15 92.37,182.15 93.11,182.15 93.85,182.15 94.59,182.15 95.34,182.15 96.08,182.15 96.82,182.15 97.56,182.15 98.31,182.15 99.05,182.15 99.79,182.15 100.53,182.15 101.28,182.15 102.02,182.15 102.76,182.15 103.5,182.15 104.24,182.15 104.99,182.15 105.73,182.15 106.47,182.15 107.21,182.15 107.96,182.15 108.7,182.15 109.44,182.15 110.18,182.15 110.93,182.15 111.67,182.15 112.41,182.15 113.15,182.15 113.9,182.15 114.64,182.15 115.38,182.15 116.12,182.15 116.86,182.15 117.61,182.15 118.35,182.15 119.09,182.15 119.83,182.15 120.58,182.15 121.32,182.15 122.06,182.15 122.8,182.15 123.55,182.15 124.29,182.15 125.03,182.15 125.77,182.15 126.52,182.15 127.26,182.15 128,182.15 128.74,182.15 129.48,182.15 130.23,182.15 130.97,182.15 131.71,182.15 132.45,182.15 133.2,182.15 133.94,182.15 134.68,182.15 135.42,182.15 136.17,182.15 136.91,182.15 137.65,182.15 138.39,182.15 139.13,182.15 139.88,182.15 140.62,182.15 141.36,182.15 142.1,182.15 142.85,182.15 143.59,182.15 144.33,182.15 145.07,182.15 145.82,182.15 146.56,182.15 147.3,182.15 148.04,182.15 148.78,182.15 149.53,182.15 150.27,182.15 151.01,182.15 151.75,182.15 152.5,182.15 153.24,182.15 153.98,182.15 154.72,182.15 155.47,182.15 156.21,182.15 156.95,182.15 157.69,182.15 158.44,182.15 159.18,182.15 159.92,182.15 160.66,182.15 161.4,182.15 162.15,182.15 162.89,182.15 163.63,182.15 164.37,182.15 165.12,182.15 165.86,182.15 166.6,182.15 167.34,182.15 168.09,182.15 168.83,182.15 169.57,182.15 170.31,182.15 171.06,182.15 171.8,182.15 172.54,182.15 173.28,182.15 174.02,182.15 174.77,182.15 175.51,182.15 176.25,182.15 176.99,182.15 177.74,182.15 178.48,182.15 179.22,182.15 179.96,182.15 180.71,182.15 181.45,182.15 182.19,182.15 182.93,182.15 183.67,182.15 184.42,182.15 185.16,182.15 185.9,182.15 186.64,182.15 187.39,182.15 188.13,182.15 188.87,182.15 189.61,182.15 190.36,182.15 191.1,182.15 191.84,182.15 192.58,182.15 193.32,182.15 194.07,182.15 194.81,182.15 195.55,182.15 196.29,182.15 197.04,182.15 197.78,182.15 198.52,182.15 199.26,182.15 200.01,182.15 200.75,182.15 201.49,182.15 202.23,182.15 202.98,182.15 203.72,182.15 204.46,182.15 205.2,182.15 205.94,182.15 206.69,182.15 207.43,182.15 208.17,182.15 208.91,182.15 209.66,182.15 210.4,182.15 211.14,182.15 211.88,182.15 212.63,182.15 213.37,182.15 214.11,182.15 214.85,182.15 215.59,182.15 216.34,182.15 217.08,182.15 217.82,182.15 218.56,182.15 219.31,182.15 220.05,182.15 220.79,182.15 221.53,182.15 222.28,182.15 223.02,182.15 223.76,182.15 224.5,182.15 225.25,182.15 225.99,182.15 226.73,182.15 227.47,182.15 228.21,182.15 228.96,182.15 229.7,182.15 230.44,182.15 231.18,182.15 231.93,182.15 232.67,182.15 233.41,182.15 234.15,182.15 234.9,182.15 235.64,182.15 236.38,182.15 237.12,182.15 237.86,182.15 238.61,182.15 239.35,182.15 240.09,182.15 240.83,182.15 241.58,182.15 242.32,182.15 243.06,182.15 243.8,182.15 244.55,182.15 245.29,182.15 246.03,182.15 246.77,182.15 247.52,182.15 248.26,182.15 249,182.15" fill="none" stroke="#b3b3b3" stroke-width="3.5" stroke-linejoin="round"/>
<polyline points="26.3,183.25 27.04,182.57 27.78,182.6 28.53,182.7 29.27,182.62 30.01,183.07 30.75,183.03 31.5,181.62 32.24,180.42 32.98,180.43 33.72,181.59 34.47,182.67 35.21,183.35 35.95,183.2 36.69,182.42 37.44,183.1 38.18,183.61 38.92,182.19 39.66,180.96 40.4,181.78 41.15,183.15 41.89,182.87 42.63,182 43.37,182.33 44.12,182.91 44.86,182.34 45.6,180.87 46.34,180.78 47.09,182.6 47.83,183.46 48.57,183.99 49.31,184.75 50.05,184.25 50.8,182.88 51.54,181.72 52.28,182.45 53.02,183.23 53.77,182.42 54.51,182.87 55.25,183.91 55.99,183.55 56.74,183.2 57.48,183.06 58.22,183.36 58.96,184.03 59.7,182.85 60.45,181.12 61.19,180.63 61.93,180.49 62.67,180.24 63.42,180.97 64.16,182.11 64.9,182.66 65.64,183.53 66.39,184.12 67.13,183.49 67.87,181.55 68.61,180.76 69.36,181.08 70.1,181.09 70.84,181.92 71.58,182.24 72.32,182.39 73.07,182.76 73.81,181.46 74.55,180.85 75.29,181.84 76.04,181.9 76.78,181.22 77.52,180.62 78.26,180.8 79.01,181.17 79.75,181.27 80.49,182.25 81.23,182.61 81.97,182.14 82.72,182.59 83.46,182.26 84.2,181.9 84.94,182.51 85.69,181.9 86.43,181.18 87.17,182.06 87.91,184.02 88.66,185.2 89.4,184.31 90.14,183.21 90.88,183.17 91.63,182.97 92.37,182.46 93.11,182.5 93.85,182.2 94.59,181.99 95.34,182.68 96.08,181.87 96.82,180.21 97.56,181.12 98.31,182.86 99.05,182.5 99.79,181.25 100.53,180.89 101.28,181.75 102.02,182.8 102.76,182.68 103.5,181.8 104.24,181.85 104.99,182.51 105.73,182.67 106.47,182.27 107.21,182.01 107.96,182.22 108.7,181.7 109.44,181.09 110.18,181.76 110.93,182.09 111.67,181.68 112.41,181.99 113.15,182.38 113.9,183.27 114.64,183.74 115.38,182.55 116.12,181.86 116.86,181.99 117.61,182.22 118.35,182.85 119.09,183.06 119.83,181.82 120.58,180.38 121.32,180.95 122.06,182.02 122.8,182.1 123.55,182.49 124.29,182.36 125.03,181.86 125.77,182.89 126.52,184.04 127.26,183.5 128,182.39 128.74,181.52 129.48,181.4 130.23,181.94 130.97,181.69 131.71,181.58 132.45,181.77 133.2,181.35 133.94,181.77 134.68,182.21 135.42,182.13 136.17,182.67 136.91,182.59 137.65,181.96 138.39,182.1 139.13,182.57 139.88,182.52 140.62,181.88 141.36,181.73 142.1,182.36 142.85,182.51 143.59,182.84 144.33,182.22 145.07,180.57 145.82,181.74 146.56,182.8 147.3,182.05 148.04,182.29 148.78,181.94 149.53,181.58 150.27,182.49 151.01,182.96 151.75,182.8 152.5,183.11 153.24,183.98 153.98,183.83 154.72,182.34 155.47,181.13 156.21,180.55 156.95,180.26 157.69,181.12 158.44,182.33 159.18,183.25 159.92,184.19 160.66,184.12 161.4,183.23 162.15,182.08 162.89,181.75 163.63,182.57 164.37,183.45 165.12,183.66 165.86,182.77 166.6,181.83 167.34,182.01 168.09,181.81 168.83,180.41 169.57,180.45 170.31,181.96 171.06,182.73 171.8,182.55 172.54,182.17 173.28,181.91 174.02,181.47 174.77,180.81 175.51,180.31 176.25,180.74 176.99,181.63 177.74,182.04 178.48,182.54 179.22,182.01 179.96,181.05 180.71,180.97 181.45,180.89 182.19,181.54 182.93,181.66 183.67,181.18 184.42,181.54 185.16,181.92 185.9,182.37 186.64,182.69 187.39,182.73 188.13,182.08 188.87,181.18 189.61,180.95 190.36,181.92 191.1,183.59 191.84,182.98 192.58,181.81 193.32,181.73 194.07,181.15 194.81,181.32 195.55,181.94 196.29,180.8 197.04,179.65 197.78,180.72 198.52,181.99 199.26,182.33 200.01,182.73 200.75,183.2 201.49,181.84 202.23,179.86 202.98,180.08 203.72,180.78 204.46,180.28 205.2,179.99 205.94,180.11 206.69,179.85 207.43,180.42 208.17,180.91 208.91,181.66 209.66,183.56 210.4,183.43 211.14,182.53 211.88,182.83 212.63,182.89 213.37,182.98 214.11,181.85 214.85,180.01 215.59,180.6 216.34,181.42 217.08,181.22 217.82,181.47 218.56,181.4 219.31,180.88 220.05,181.29 220.79,182.33 221.53,182.06 222.28,182.21 223.02,182.6 223.76,182.11 224.5,181.78 225.25,181.01 225.99,180.83 226.73,181.36 227.47,181.45 228.21,182.14 228.96,183.24 229.7,183.08 230.44,182.51 231.18,182.19 231.93,181.83 232.67,182.01 233.41,181.84 234.15,180.11 234.9,179.67 235.64,181.4 236.38,182.13 237.12,181.43 237.86,180.28 238.61,180.62 239.35,182.6 240.09,183.54 240.83,183.68 241.58,184.1 242.32,183.75 243.06,182.97 243.8,182.33 244.55,181.06 245.29,181.24 246.03,183.01 246.77,183.62 247.52,182.49 248.26,181.62 249,182.86" fill="none" stroke="#ff0000" stroke-width="1.8" stroke-dasharray="6 0.7 2.5 0.7" stroke-linejoin="round"/>
</g>
<text transform="translate(26.3 231.6) scale(0.95 1)" text-anchor="middle" font-family="'Liberation Serif', serif" font-size="9.4" fill="#262626" stroke="#262626" stroke-width="0.2">0</text><text transform="translate(70.84 231.6) scale(0.95 1)" text-anchor="middle" font-family="'Liberation Serif', serif" font-size="9.4" fill="#262626" stroke="#262626" stroke-width="0.2">2</text><text transform="translate(115.38 231.6) scale(0.95 1)" text-anchor="middle" font-family="'Liberation Serif', serif" font-size="9.4" fill="#262626" stroke="#262626" stroke-width="0.2">4</text><text transform="translate(159.92 231.6) scale(0.95 1)" text-anchor="middle" font-family="'Liberation Serif', serif" font-size="9.4" fill="#262626" stroke="#262626" stroke-width="0.2">6</text><text transform="translate(204.46 231.6) scale(0.95 1)" text-anchor="middle" font-family="'Liberation Serif', serif" font-size="9.4" fill="#262626" stroke="#262626" stroke-width="0.2">8</text><text transform="translate(249 231.6) scale(0.95 1)" text-anchor="middle" font-family="'Liberation Serif', serif" font-size="9.4" fill="#262626" stroke="#262626" stroke-width="0.2">10</text><text transform="translate(23.2 145.45) scale(0.95 1)" text-anchor="end" font-family="'Liberation Serif', serif" font-size="9.4" fill="#262626" stroke="#262626" stroke-width="0.2">5</text><text transform="translate(23.2 184.45) scale(0.95 1)" text-anchor="end" font-family="'Liberation Serif', serif" font-size="9.4" fill="#262626" stroke="#262626" stroke-width="0.2">0</text><text transform="translate(23.2 223.45) scale(0.95 1)" text-anchor="end" font-family="'Liberation Serif', serif" font-size="9.4" fill="#262626" stroke="#262626" stroke-width="0.2">−5</text>
<text transform="translate(137.65 245.25)" text-anchor="middle" font-family="'Liberation Sans', sans-serif" font-size="9.9" fill="#262626" stroke="#262626" stroke-width="0.15">Time [s]</text>
<text transform="translate(10 182.65) rotate(-90)" text-anchor="middle" font-family="'Liberation Sans', sans-serif" font-size="9.9" fill="#262626" stroke="#262626" stroke-width="0.15">x [m]</text>
<text transform="translate(137.25 134.9)" text-anchor="middle" font-family="'Liberation Sans', sans-serif" font-size="10.05" font-weight="bold" fill="#000">Position m<tspan font-size="8.0" dy="4.8">2</tspan></text>
<path d="M364.16 143.15V221.15M408.72 143.15V221.15M453.28 143.15V221.15M497.84 143.15V221.15" stroke="#dcdcdc" stroke-width="0.6" fill="none"/>
<path d="M319.6 221.15v-2.2M319.6 143.15v2.2M364.16 221.15v-2.2M364.16 143.15v2.2M408.72 221.15v-2.2M408.72 143.15v2.2M453.28 221.15v-2.2M453.28 143.15v2.2M497.84 221.15v-2.2M497.84 143.15v2.2M542.4 221.15v-2.2M542.4 143.15v2.2M319.6 221.15h2.2M542.4 221.15h-2.2M319.6 182.15h2.2M542.4 182.15h-2.2M319.6 143.15h2.2M542.4 143.15h-2.2" stroke="#262626" stroke-width="0.6" fill="none"/>
<rect x="319.6" y="143.15" width="222.8" height="78" fill="none" stroke="#262626" stroke-width="0.65"/>
<g>
<polyline points="319.6,182.15 320.34,182.15 321.09,182.15 321.83,182.15 322.57,182.15 323.31,182.15 324.06,182.15 324.8,182.15 325.54,182.15 326.28,182.15 327.03,182.15 327.77,182.15 328.51,182.15 329.25,182.15 330,182.15 330.74,182.15 331.48,182.15 332.23,182.15 332.97,182.15 333.71,182.15 334.45,182.15 335.2,182.15 335.94,182.15 336.68,182.15 337.42,182.15 338.17,182.15 338.91,182.15 339.65,182.15 340.39,182.15 341.14,182.15 341.88,182.15 342.62,182.15 343.37,182.15 344.11,182.15 344.85,182.15 345.59,182.15 346.34,182.15 347.08,182.15 347.82,182.15 348.56,182.15 349.31,182.15 350.05,182.15 350.79,182.15 351.53,182.15 352.28,182.15 353.02,182.15 353.76,182.15 354.51,182.15 355.25,182.15 355.99,182.15 356.73,182.15 357.48,182.15 358.22,182.15 358.96,182.15 359.7,182.15 360.45,182.15 361.19,182.15 361.93,182.15 362.67,182.15 363.42,182.15 364.16,182.15 364.9,182.15 365.65,182.15 366.39,182.15 367.13,182.15 367.87,182.15 368.62,182.15 369.36,182.15 370.1,182.15 370.84,182.15 371.59,182.15 372.33,182.15 373.07,182.15 373.81,182.15 374.56,182.15 375.3,182.15 376.04,182.15 376.79,182.15 377.53,182.15 378.27,182.15 379.01,182.15 379.76,182.15 380.5,182.15 381.24,182.15 381.98,182.15 382.73,182.15 383.47,182.15 384.21,182.15 384.95,182.15 385.7,182.15 386.44,182.15 387.18,182.15 387.93,182.15 388.67,182.15 389.41,182.15 390.15,182.15 390.9,182.15 391.64,182.15 392.38,182.15 393.12,182.15 393.87,182.15 394.61,182.15 395.35,182.15 396.09,182.15 396.84,182.15 397.58,182.15 398.32,182.15 399.07,182.15 399.81,182.15 400.55,182.15 401.29,182.15 402.04,182.15 402.78,182.15 403.52,182.15 404.26,182.15 405.01,182.15 405.75,182.15 406.49,182.15 407.23,182.15 407.98,182.15 408.72,182.15 409.46,182.15 410.21,182.15 410.95,182.15 411.69,182.15 412.43,182.15 413.18,182.15 413.92,182.15 414.66,182.15 415.4,182.15 416.15,182.15 416.89,182.15 417.63,182.15 418.37,182.15 419.12,182.15 419.86,182.15 420.6,182.15 421.35,182.15 422.09,182.15 422.83,182.15 423.57,182.15 424.32,182.15 425.06,182.15 425.8,182.15 426.54,182.15 427.29,182.15 428.03,182.15 428.77,182.15 429.51,182.15 430.26,182.15 431,182.15 431.74,182.15 432.49,182.15 433.23,182.15 433.97,182.15 434.71,182.15 435.46,182.15 436.2,182.15 436.94,182.15 437.68,182.15 438.43,182.15 439.17,182.15 439.91,182.15 440.65,182.15 441.4,182.15 442.14,182.15 442.88,182.15 443.63,182.15 444.37,182.15 445.11,182.15 445.85,182.15 446.6,182.15 447.34,182.15 448.08,182.15 448.82,182.15 449.57,182.15 450.31,182.15 451.05,182.15 451.79,182.15 452.54,182.15 453.28,182.15 454.02,182.15 454.77,182.15 455.51,182.15 456.25,182.15 456.99,182.15 457.74,182.15 458.48,182.15 459.22,182.15 459.96,182.15 460.71,182.15 461.45,182.15 462.19,182.15 462.93,182.15 463.68,182.15 464.42,182.15 465.16,182.15 465.91,182.15 466.65,182.15 467.39,182.15 468.13,182.15 468.88,182.15 469.62,182.15 470.36,182.15 471.1,182.15 471.85,182.15 472.59,182.15 473.33,182.15 474.07,182.15 474.82,182.15 475.56,182.15 476.3,182.15 477.05,182.15 477.79,182.15 478.53,182.15 479.27,182.15 480.02,182.15 480.76,182.15 481.5,182.15 482.24,182.15 482.99,182.15 483.73,182.15 484.47,182.15 485.21,182.15 485.96,182.15 486.7,182.15 487.44,182.15 488.19,182.15 488.93,182.15 489.67,182.15 490.41,182.15 491.16,182.15 491.9,182.15 492.64,182.15 493.38,182.15 494.13,182.15 494.87,182.15 495.61,182.15 496.35,182.15 497.1,182.15 497.84,182.15 498.58,182.15 499.33,182.15 500.07,182.15 500.81,182.15 501.55,182.15 502.3,182.15 503.04,182.15 503.78,182.15 504.52,182.15 505.27,182.15 506.01,182.15 506.75,182.15 507.49,182.15 508.24,182.15 508.98,182.15 509.72,182.15 510.47,182.15 511.21,182.15 511.95,182.15 512.69,182.15 513.44,182.15 514.18,182.15 514.92,182.15 515.66,182.15 516.41,182.15 517.15,182.15 517.89,182.15 518.63,182.15 519.38,182.15 520.12,182.15 520.86,182.15 521.61,182.15 522.35,182.15 523.09,182.15 523.83,182.15 524.58,182.15 525.32,182.15 526.06,182.15 526.8,182.15 527.55,182.15 528.29,182.15 529.03,182.15 529.77,182.15 530.52,182.15 531.26,182.15 532,182.15 532.75,182.15 533.49,182.15 534.23,182.15 534.97,182.15 535.72,182.15 536.46,182.15 537.2,182.15 537.94,182.15 538.69,182.15 539.43,182.15 540.17,182.15 540.91,182.15 541.66,182.15 542.4,182.15" fill="none" stroke="#b3b3b3" stroke-width="3.5" stroke-linejoin="round"/>
<polyline points="319.6,182.59 320.34,183.21 321.09,183.94 321.83,183.57 322.57,183.5 323.31,183.5 324.06,182.54 324.8,180.98 325.54,180.72 326.28,180.95 327.03,181.59 327.77,183.78 328.51,184.67 329.25,182.98 330,181.52 330.74,181.39 331.48,181.1 332.23,181.68 332.97,182.86 333.71,181.72 334.45,180.67 335.2,182.64 335.94,184.12 336.68,183.35 337.42,182.45 338.17,182.36 338.91,182.67 339.65,183.34 340.39,183.56 341.14,181.71 341.88,179.99 342.62,181.07 343.37,182.72 344.11,183.71 344.85,184.32 345.59,183.16 346.34,182.49 347.08,182.84 347.82,182.22 348.56,181.52 349.31,181.28 350.05,181.57 350.79,182.7 351.53,184.1 352.28,184.07 353.02,182.89 353.76,182.1 354.51,181.43 355.25,181.29 355.99,182.34 356.73,182.59 357.48,182.13 358.22,182.03 358.96,182.07 359.7,181.84 360.45,181.36 361.19,181.38 361.93,181.39 362.67,181.12 363.42,181.52 364.16,182.47 364.9,182.47 365.65,182.2 366.39,181.65 367.13,181.55 367.87,183.13 368.62,184.09 369.36,183.39 370.1,183.11 370.84,183.54 371.59,183.36 372.33,183.62 373.07,183.75 373.81,182.76 374.56,182.24 375.3,182.7 376.04,182.82 376.79,182.49 377.53,183.47 378.27,184.6 379.01,183.55 379.76,181.81 380.5,180.4 381.24,179.78 381.98,180.75 382.73,182.21 383.47,182.86 384.21,182.15 384.95,180.97 385.7,181.17 386.44,182.26 387.18,181.98 387.93,180.64 388.67,180.21 389.41,181.41 390.15,182.76 390.9,183.07 391.64,182.98 392.38,182.49 393.12,181.31 393.87,180.65 394.61,180.65 395.35,181.07 396.09,181.88 396.84,182.18 397.58,182.29 398.32,181.77 399.07,181.15 399.81,182.43 400.55,183.78 401.29,183.4 402.04,183.44 402.78,183.98 403.52,183.01 404.26,181.01 405.01,180.6 405.75,181.46 406.49,181.06 407.23,181.26 407.98,182.63 408.72,182.67 409.46,182.13 410.21,182.67 410.95,183.51 411.69,182.65 412.43,180.92 413.18,179.96 413.92,180.29 414.66,180.92 415.4,180.5 416.15,181.4 416.89,182.67 417.63,182.23 418.37,181.92 419.12,181.91 419.86,181.53 420.6,181.11 421.35,181.57 422.09,181.88 422.83,181.38 423.57,181.72 424.32,181.86 425.06,181.45 425.8,182.22 426.54,183.05 427.29,183.44 428.03,183.78 428.77,182.44 429.51,181.23 430.26,182.13 431,182.96 431.74,183.29 432.49,182.48 433.23,180.8 433.97,181.06 434.71,182.28 435.46,182.73 436.2,183.13 436.94,183.49 437.68,183.57 438.43,183.12 439.17,182.01 439.91,181.34 440.65,181.58 441.4,182.64 442.14,183.35 442.88,183.13 443.63,182.57 444.37,181.58 445.11,181.04 445.85,181.46 446.6,182.86 447.34,183.37 448.08,181.61 448.82,181.37 449.57,182.8 450.31,182.16 451.05,181.56 451.79,181.82 452.54,181.29 453.28,182.15 454.02,182.61 454.77,181.35 455.51,181.62 456.25,182.2 456.99,182.49 457.74,182.64 458.48,181.8 459.22,181.96 459.96,182.41 460.71,182.18 461.45,181.6 462.19,181.59 462.93,182.14 463.68,181.97 464.42,182.35 465.16,182.92 465.91,183.02 466.65,183.38 467.39,182.82 468.13,181.76 468.88,181.42 469.62,181.11 470.36,181.75 471.1,183.58 471.85,184.38 472.59,183.37 473.33,182.21 474.07,182.37 474.82,182.41 475.56,182.37 476.3,183.66 477.05,183.83 477.79,181.67 478.53,180.15 479.27,181.33 480.02,182.56 480.76,181.8 481.5,180.98 482.24,181.28 482.99,182.43 483.73,182.92 484.47,182.21 485.21,181.12 485.96,179.84 486.7,180.11 487.44,182.11 488.19,182.9 488.93,182.51 489.67,182.18 490.41,181.66 491.16,181.45 491.9,181.2 492.64,181.02 493.38,182.16 494.13,183.7 494.87,184.26 495.61,184.04 496.35,184.18 497.1,183.83 497.84,182.3 498.58,181.9 499.33,182.78 500.07,183.68 500.81,184.16 501.55,182.79 502.3,181.92 503.04,183.14 503.78,182.63 504.52,181.43 505.27,181.87 506.01,182.04 506.75,182.1 507.49,182.51 508.24,181.57 508.98,181.19 509.72,182.75 510.47,183.18 511.21,181.97 511.95,180.75 512.69,180.39 513.44,181.33 514.18,182.87 514.92,183.23 515.66,182.24 516.41,182.17 517.15,182.86 517.89,182.41 518.63,181.43 519.38,181.57 520.12,182.3 520.86,182.57 521.61,183.04 522.35,183 523.09,181.77 523.83,179.61 524.58,178.75 525.32,180.4 526.06,181.24 526.8,181.68 527.55,182.54 528.29,182.58 529.03,182.19 529.77,180.75 530.52,180.12 531.26,181.49 532,181.92 532.75,181.02 533.49,181.22 534.23,181.72 534.97,182.33 535.72,183.13 536.46,182.09 537.2,181.03 537.94,181.41 538.69,182.28 539.43,182.6 540.17,181.93 540.91,181.72 541.66,182.29 542.4,182.26" fill="none" stroke="#ff0000" stroke-width="1.8" stroke-dasharray="6 0.7 2.5 0.7" stroke-linejoin="round"/>
</g>
<text transform="translate(319.6 231.6) scale(0.95 1)" text-anchor="middle" font-family="'Liberation Serif', serif" font-size="9.4" fill="#262626" stroke="#262626" stroke-width="0.2">0</text><text transform="translate(364.16 231.6) scale(0.95 1)" text-anchor="middle" font-family="'Liberation Serif', serif" font-size="9.4" fill="#262626" stroke="#262626" stroke-width="0.2">2</text><text transform="translate(408.72 231.6) scale(0.95 1)" text-anchor="middle" font-family="'Liberation Serif', serif" font-size="9.4" fill="#262626" stroke="#262626" stroke-width="0.2">4</text><text transform="translate(453.28 231.6) scale(0.95 1)" text-anchor="middle" font-family="'Liberation Serif', serif" font-size="9.4" fill="#262626" stroke="#262626" stroke-width="0.2">6</text><text transform="translate(497.84 231.6) scale(0.95 1)" text-anchor="middle" font-family="'Liberation Serif', serif" font-size="9.4" fill="#262626" stroke="#262626" stroke-width="0.2">8</text><text transform="translate(542.4 231.6) scale(0.95 1)" text-anchor="middle" font-family="'Liberation Serif', serif" font-size="9.4" fill="#262626" stroke="#262626" stroke-width="0.2">10</text><text transform="translate(317.1 145.45) scale(0.95 1)" text-anchor="end" font-family="'Liberation Serif', serif" font-size="9.4" fill="#262626" stroke="#262626" stroke-width="0.2">0.5</text><text transform="translate(317.1 184.45) scale(0.95 1)" text-anchor="end" font-family="'Liberation Serif', serif" font-size="9.4" fill="#262626" stroke="#262626" stroke-width="0.2">0</text><text transform="translate(317.1 223.45) scale(0.95 1)" text-anchor="end" font-family="'Liberation Serif', serif" font-size="9.4" fill="#262626" stroke="#262626" stroke-width="0.2">−0.5</text>
<text transform="translate(431 245.25)" text-anchor="middle" font-family="'Liberation Sans', sans-serif" font-size="9.9" fill="#262626" stroke="#262626" stroke-width="0.15">Time [s]</text>
<text transform="translate(292.2 181.85) rotate(-90)" text-anchor="middle" font-family="'Liberation Sans', sans-serif" font-size="9.9" fill="#262626" stroke="#262626" stroke-width="0.15">v<tspan font-size="6.9" dy="4.2">x</tspan><tspan dy="-4.2"> [m/s]</tspan></text>
<text transform="translate(430.6 134.9)" text-anchor="middle" font-family="'Liberation Sans', sans-serif" font-size="10.05" font-weight="bold" fill="#000">Velocity m<tspan font-size="8.0" dy="4.8">2</tspan></text>
<path d="M70.84 267.35V345.35M115.38 267.35V345.35M159.92 267.35V345.35M204.46 267.35V345.35" stroke="#dcdcdc" stroke-width="0.6" fill="none"/>
<path d="M26.3 345.35v-2.2M26.3 267.35v2.2M70.84 345.35v-2.2M70.84 267.35v2.2M115.38 345.35v-2.2M115.38 267.35v2.2M159.92 345.35v-2.2M159.92 267.35v2.2M204.46 345.35v-2.2M204.46 267.35v2.2M249 345.35v-2.2M249 267.35v2.2M26.3 345.35h2.2M249 345.35h-2.2M26.3 306.35h2.2M249 306.35h-2.2M26.3 267.35h2.2M249 267.35h-2.2" stroke="#262626" stroke-width="0.6" fill="none"/>
<rect x="26.3" y="267.35" width="222.7" height="78" fill="none" stroke="#262626" stroke-width="0.65"/>
<g>
<polyline points="26.3,306.35 26.45,306.35 26.6,306.34 26.75,306.33 26.89,306.32 27.04,306.31 27.19,306.29 27.34,306.27 27.49,306.24 27.64,306.22 27.78,306.19 27.93,306.16 28.08,306.13 28.23,306.09 28.38,306.06 28.53,306.02 28.68,305.99 28.82,305.95 28.97,305.91 29.12,305.88 29.27,305.84 29.42,305.81 29.57,305.78 29.71,305.75 29.86,305.73 30.01,305.7 30.16,305.68 30.31,305.67 30.46,305.65 30.61,305.65 30.75,305.64 30.9,305.64 31.05,305.65 31.2,305.66 31.35,305.67 31.5,305.69 31.64,305.72 31.79,305.75 31.94,305.79 32.09,305.83 32.24,305.87 32.39,305.93 32.54,305.98 32.68,306.05 32.83,306.11 32.98,306.18 33.13,306.26 33.28,306.34 33.43,306.42 33.57,306.51 33.72,306.6 33.87,306.69 34.02,306.78 34.17,306.88 34.32,306.97 34.47,307.07 34.61,307.16 34.76,307.26 34.91,307.35 35.06,307.44 35.21,307.53 35.36,307.62 35.5,307.7 35.65,307.78 35.8,307.85 35.95,307.92 36.1,307.98 36.25,308.04 36.4,308.09 36.54,308.13 36.69,308.17 36.84,308.2 36.99,308.21 37.14,308.23 37.29,308.23 37.44,308.22 37.58,308.2 37.73,308.18 37.88,308.14 38.03,308.1 38.18,308.04 38.33,307.98 38.47,307.9 38.62,307.82 38.77,307.73 38.92,307.63 39.07,307.52 39.22,307.4 39.37,307.28 39.51,307.14 39.66,307 39.81,306.86 39.96,306.71 40.11,306.55 40.26,306.39 40.4,306.23 40.55,306.06 40.7,305.89 40.85,305.72 41,305.55 41.15,305.38 41.3,305.21 41.44,305.04 41.59,304.87 41.74,304.71 41.89,304.56 42.04,304.4 42.19,304.26 42.33,304.12 42.48,303.99 42.63,303.87 42.78,303.76 42.93,303.65 43.08,303.56 43.23,303.48 43.37,303.41 43.52,303.36 43.67,303.31 43.82,303.28 43.97,303.27 44.12,303.26 44.26,303.27 44.41,303.3 44.56,303.34 44.71,303.4 44.86,303.47 45.01,303.55 45.16,303.65 45.3,303.76 45.45,303.89 45.6,304.03 45.75,304.18 45.9,304.34 46.05,304.52 46.19,304.71 46.34,304.9 46.49,305.11 46.64,305.33 46.79,305.55 46.94,305.78 47.09,306.02 47.23,306.26 47.38,306.5 47.53,306.75 47.68,307 47.83,307.25 47.98,307.5 48.12,307.75 48.27,308 48.42,308.24 48.57,308.47 48.72,308.7 48.87,308.92 49.02,309.13 49.16,309.34 49.31,309.53 49.46,309.71 49.61,309.87 49.76,310.03 49.91,310.16 50.05,310.29 50.2,310.39 50.35,310.48 50.5,310.55 50.65,310.61 50.8,310.64 50.95,310.66 51.09,310.65 51.24,310.63 51.39,310.58 51.54,310.52 51.69,310.44 51.84,310.33 51.98,310.21 52.13,310.07 52.28,309.91 52.43,309.74 52.58,309.54 52.73,309.33 52.88,309.1 53.02,308.86 53.17,308.6 53.32,308.34 53.47,308.05 53.62,307.76 53.77,307.46 53.91,307.15 54.06,306.83 54.21,306.51 54.36,306.18 54.51,305.86 54.66,305.52 54.81,305.19 54.95,304.87 55.1,304.54 55.25,304.22 55.4,303.91 55.55,303.6 55.7,303.3 55.84,303.02 55.99,302.74 56.14,302.48 56.29,302.24 56.44,302.01 56.59,301.79 56.74,301.6 56.88,301.42 57.03,301.27 57.18,301.14 57.33,301.03 57.48,300.94 57.63,300.88 57.77,300.84 57.92,300.82 58.07,300.83 58.22,300.87 58.37,300.93 58.52,301.01 58.67,301.12 58.81,301.26 58.96,301.41 59.11,301.6 59.26,301.8 59.41,302.03 59.56,302.28 59.7,302.55 59.85,302.83 60,303.14 60.15,303.47 60.3,303.81 60.45,304.16 60.6,304.53 60.74,304.91 60.89,305.3 61.04,305.69 61.19,306.1 61.34,306.51 61.49,306.92 61.64,307.33 61.78,307.74 61.93,308.15 62.08,308.55 62.23,308.95 62.38,309.33 62.53,309.71 62.67,310.08 62.82,310.43 62.97,310.77 63.12,311.09 63.27,311.39 63.42,311.67 63.57,311.93 63.71,312.17 63.86,312.38 64.01,312.56 64.16,312.72 64.31,312.86 64.46,312.96 64.6,313.04 64.75,313.08 64.9,313.1 65.05,313.09 65.2,313.04 65.35,312.97 65.5,312.86 65.64,312.73 65.79,312.56 65.94,312.37 66.09,312.15 66.24,311.9 66.39,311.62 66.53,311.32 66.68,310.99 66.83,310.64 66.98,310.27 67.13,309.88 67.28,309.47 67.43,309.04 67.57,308.6 67.72,308.14 67.87,307.67 68.02,307.2 68.17,306.71 68.32,306.22 68.46,305.73 68.61,305.24 68.76,304.75 68.91,304.26 69.06,303.78 69.21,303.31 69.36,302.84 69.5,302.39 69.65,301.96 69.8,301.54 69.95,301.14 70.1,300.76 70.25,300.4 70.39,300.07 70.54,299.76 70.69,299.48 70.84,299.23 70.99,299.01 71.14,298.82 71.29,298.66 71.43,298.54 71.58,298.45 71.73,298.4 71.88,298.38 72.03,298.39 72.18,298.45 72.32,298.53 72.47,298.66 72.62,298.82 72.77,299.01 72.92,299.24 73.07,299.5 73.22,299.79 73.36,300.12 73.51,300.47 73.66,300.85 73.81,301.26 73.96,301.7 74.11,302.16 74.25,302.64 74.4,303.14 74.55,303.66 74.7,304.19 74.85,304.73 75,305.29 75.15,305.86 75.29,306.43 75.44,307 75.59,307.57 75.74,308.15 75.89,308.71 76.04,309.27 76.18,309.82 76.33,310.36 76.48,310.88 76.63,311.39 76.78,311.88 76.93,312.34 77.08,312.78 77.22,313.2 77.37,313.58 77.52,313.94 77.67,314.27 77.82,314.56 77.97,314.81 78.11,315.03 78.26,315.21 78.41,315.36 78.56,315.46 78.71,315.52 78.86,315.55 79.01,315.53 79.15,315.47 79.3,315.37 79.45,315.23 79.6,315.05 79.75,314.83 79.9,314.57 80.04,314.27 80.19,313.93 80.34,313.56 80.49,313.15 80.64,312.72 80.79,312.25 80.94,311.75 81.08,311.22 81.23,310.67 81.38,310.1 81.53,309.51 81.68,308.9 81.83,308.28 81.97,307.64 82.12,307 82.27,306.34 82.42,305.69 82.57,305.03 82.72,304.38 82.87,303.73 83.01,303.09 83.16,302.47 83.31,301.85 83.46,301.26 83.61,300.68 83.76,300.12 83.91,299.59 84.05,299.09 84.2,298.62 84.35,298.18 84.5,297.77 84.65,297.4 84.8,297.07 84.94,296.78 85.09,296.52 85.24,296.32 85.39,296.15 85.54,296.03 85.69,295.96 85.84,295.93 85.98,295.95 86.13,296.01 86.28,296.12 86.43,296.28 86.58,296.48 86.73,296.73 86.87,297.02 87.02,297.36 87.17,297.74 87.32,298.15 87.47,298.61 87.62,299.1 87.77,299.63 87.91,300.19 88.06,300.78 88.21,301.4 88.36,302.04 88.51,302.71 88.66,303.39 88.8,304.09 88.95,304.81 89.1,305.53 89.25,306.27 89.4,307 89.55,307.74 89.7,308.47 89.84,309.2 89.99,309.92 90.14,310.62 90.29,311.31 90.44,311.99 90.59,312.64 90.73,313.26 90.88,313.86 91.03,314.42 91.18,314.95 91.33,315.45 91.48,315.91 91.63,316.32 91.77,316.7 91.92,317.03 92.07,317.31 92.22,317.55 92.37,317.74 92.52,317.87 92.66,317.96 92.81,318 92.96,317.98 93.11,317.91 93.26,317.79 93.41,317.62 93.56,317.39 93.7,317.12 93.85,316.8 94,316.43 94.15,316.01 94.3,315.55 94.45,315.04 94.59,314.5 94.74,313.91 94.89,313.29 95.04,312.63 95.19,311.95 95.34,311.23 95.49,310.5 95.63,309.74 95.78,308.96 95.93,308.16 96.08,307.36 96.23,306.55 96.38,305.73 96.52,304.91 96.67,304.09 96.82,303.29 96.97,302.49 97.12,301.7 97.27,300.94 97.42,300.19 97.56,299.47 97.71,298.77 97.86,298.11 98.01,297.48 98.16,296.89 98.31,296.34 98.45,295.83 98.6,295.36 98.75,294.94 98.9,294.57 99.05,294.26 99.2,293.99 99.35,293.78 99.49,293.62 99.64,293.52 99.79,293.48 99.94,293.5 100.09,293.57 100.24,293.7 100.38,293.88 100.53,294.12 100.68,294.42 100.83,294.77 100.98,295.18 101.13,295.63 101.28,296.14 101.42,296.69 101.57,297.29 101.72,297.93 101.87,298.62 102.02,299.33 102.17,300.09 102.31,300.87 102.46,301.68 102.61,302.52 102.76,303.37 102.91,304.25 103.06,305.13 103.21,306.02 103.35,306.92 103.5,307.82 103.65,308.72 103.8,309.61 103.95,310.49 104.1,311.35 104.25,312.19 104.39,313.02 104.54,313.81 104.69,314.58 104.84,315.31 104.99,316 105.14,316.65 105.28,317.26 105.43,317.83 105.58,318.34 105.73,318.8 105.88,319.21 106.03,319.57 106.18,319.86 106.32,320.1 106.47,320.27 106.62,320.39 106.77,320.44 106.92,320.43 107.07,320.36 107.21,320.22 107.36,320.03 107.51,319.77 107.66,319.45 107.81,319.07 107.96,318.63 108.11,318.13 108.25,317.58 108.4,316.98 108.55,316.33 108.7,315.64 108.85,314.9 109,314.11 109.14,313.29 109.29,312.44 109.44,311.56 109.59,310.65 109.74,309.72 109.89,308.77 110.04,307.8 110.18,306.83 110.33,305.85 110.48,304.87 110.63,303.89 110.78,302.92 110.93,301.96 111.07,301.02 111.22,300.09 111.37,299.2 111.52,298.33 111.67,297.49 111.82,296.69 111.97,295.93 112.11,295.22 112.26,294.55 112.41,293.93 112.56,293.37 112.71,292.86 112.86,292.41 113,292.02 113.15,291.69 113.3,291.43 113.45,291.23 113.6,291.1 113.75,291.04 113.9,291.04 114.04,291.11 114.19,291.25 114.34,291.46 114.49,291.74 114.64,292.08 114.79,292.49 114.93,292.96 115.08,293.49 115.23,294.08 115.38,294.73 115.53,295.43 115.68,296.18 115.83,296.98 115.97,297.82 116.12,298.71 116.27,299.63 116.42,300.58 116.57,301.57 116.72,302.58 116.86,303.6 117.01,304.65 117.16,305.7 117.31,306.76 117.46,307.83 117.61,308.89 117.76,309.94 117.9,310.98 118.05,312 118.2,313 118.35,313.97 118.5,314.92 118.65,315.82 118.79,316.69 118.94,317.52 119.09,318.3 119.24,319.02 119.39,319.7 119.54,320.31 119.69,320.87 119.83,321.36 119.98,321.79 120.13,322.15 120.28,322.44 120.43,322.66 120.58,322.81 120.72,322.88 120.87,322.89 121.02,322.82 121.17,322.67 121.32,322.45 121.47,322.16 121.62,321.8 121.76,321.37 121.91,320.87 122.06,320.3 122.21,319.67 122.36,318.98 122.51,318.23 122.65,317.42 122.8,316.56 122.95,315.66 123.1,314.71 123.25,313.72 123.4,312.69 123.55,311.64 123.69,310.55 123.84,309.45 123.99,308.32 124.14,307.19 124.29,306.05 124.44,304.9 124.58,303.76 124.73,302.63 124.88,301.51 125.03,300.4 125.18,299.33 125.33,298.27 125.48,297.26 125.62,296.28 125.77,295.34 125.92,294.44 126.07,293.6 126.22,292.82 126.37,292.09 126.52,291.42 126.66,290.81 126.81,290.28 126.96,289.81 127.11,289.42 127.26,289.1 127.41,288.85 127.55,288.68 127.7,288.6 127.85,288.59 128,288.65 128.15,288.8 128.3,289.03 128.45,289.33 128.59,289.72 128.74,290.17 128.89,290.7 129.04,291.3 129.19,291.97 129.34,292.71 129.48,293.51 129.63,294.36 129.78,295.28 129.93,296.24 130.08,297.26 130.23,298.32 130.38,299.41 130.52,300.54 130.67,301.7 130.82,302.88 130.97,304.08 131.12,305.3 131.27,306.52 131.41,307.75 131.56,308.97 131.71,310.19 131.86,311.39 132.01,312.57 132.16,313.73 132.31,314.86 132.45,315.95 132.6,317.01 132.75,318.02 132.9,318.98 133.05,319.88 133.2,320.73 133.34,321.52 133.49,322.24 133.64,322.89 133.79,323.48 133.94,323.98 134.09,324.41 134.24,324.76 134.38,325.03 134.53,325.22 134.68,325.32 134.83,325.34 134.98,325.28 135.13,325.13 135.27,324.89 135.42,324.58 135.57,324.18 135.72,323.7 135.87,323.14 136.02,322.51 136.17,321.8 136.31,321.02 136.46,320.17 136.61,319.26 136.76,318.29 136.91,317.27 137.06,316.19 137.2,315.07 137.35,313.9 137.5,312.7 137.65,311.47 137.8,310.21 137.95,308.93 138.1,307.63 138.24,306.33 138.39,305.02 138.54,303.71 138.69,302.42 138.84,301.13 138.99,299.87 139.13,298.63 139.28,297.43 139.43,296.26 139.58,295.13 139.73,294.05 139.88,293.02 140.03,292.05 140.17,291.14 140.32,290.29 140.47,289.51 140.62,288.81 140.77,288.18 140.92,287.63 141.06,287.17 141.21,286.79 141.36,286.49 141.51,286.28 141.66,286.16 141.81,286.13 141.96,286.19 142.1,286.34 142.25,286.58 142.4,286.91 142.55,287.32 142.7,287.82 142.85,288.41 142.99,289.08 143.14,289.82 143.29,290.64 143.44,291.53 143.59,292.49 143.74,293.52 143.89,294.6 144.03,295.74 144.18,296.93 144.33,298.17 144.48,299.44 144.63,300.75 144.78,302.08 144.92,303.44 145.07,304.82 145.22,306.2 145.37,307.59 145.52,308.98 145.67,310.36 145.82,311.72 145.96,313.07 146.11,314.38 146.26,315.67 146.41,316.92 146.56,318.12 146.71,319.27 146.85,320.37 147,321.41 147.15,322.38 147.3,323.29 147.45,324.12 147.6,324.88 147.75,325.55 147.89,326.14 148.04,326.65 148.19,327.06 148.34,327.38 148.49,327.62 148.64,327.75 148.78,327.79 148.93,327.74 149.08,327.59 149.23,327.35 149.38,327.01 149.53,326.58 149.68,326.06 149.82,325.45 149.97,324.75 150.12,323.97 150.27,323.11 150.42,322.17 150.57,321.16 150.72,320.08 150.86,318.94 151.01,317.74 151.16,316.49 151.31,315.18 151.46,313.84 151.61,312.46 151.75,311.04 151.9,309.61 152.05,308.15 152.2,306.69 152.35,305.22 152.5,303.75 152.65,302.29 152.79,300.84 152.94,299.42 153.09,298.02 153.24,296.65 153.39,295.33 153.54,294.05 153.68,292.83 153.83,291.66 153.98,290.55 154.13,289.51 154.28,288.55 154.43,287.66 154.58,286.85 154.72,286.13 154.87,285.49 155.02,284.95 155.17,284.5 155.32,284.15 155.47,283.89 155.61,283.74 155.76,283.68 155.91,283.73 156.06,283.87 156.21,284.12 156.36,284.46 156.51,284.91 156.65,285.45 156.8,286.08 156.95,286.81 157.1,287.63 157.25,288.53 157.4,289.51 157.54,290.57 157.69,291.7 157.84,292.9 157.99,294.16 158.14,295.48 158.29,296.85 158.44,298.26 158.58,299.72 158.73,301.21 158.88,302.72 159.03,304.25 159.18,305.8 159.33,307.35 159.47,308.9 159.62,310.45 159.77,311.98 159.92,313.48 160.07,314.96 160.22,316.4 160.37,317.81 160.51,319.16 160.66,320.46 160.81,321.7 160.96,322.87 161.11,323.98 161.26,325.01 161.4,325.95 161.55,326.81 161.7,327.59 161.85,328.27 162,328.85 162.15,329.33 162.3,329.72 162.44,330 162.59,330.17 162.74,330.24 162.89,330.21 163.04,330.07 163.19,329.82 163.33,329.46 163.48,329.01 163.63,328.45 163.78,327.79 163.93,327.04 164.08,326.19 164.23,325.25 164.37,324.22 164.52,323.12 164.67,321.93 164.82,320.68 164.97,319.36 165.12,317.97 165.26,316.54 165.41,315.05 165.56,313.52 165.71,311.96 165.86,310.37 166.01,308.76 166.16,307.13 166.3,305.5 166.45,303.86 166.6,302.24 166.75,300.63 166.9,299.04 167.05,297.48 167.19,295.96 167.34,294.48 167.49,293.05 167.64,291.67 167.79,290.36 167.94,289.12 168.09,287.95 168.23,286.86 168.38,285.85 168.53,284.93 168.68,284.11 168.83,283.39 168.98,282.76 169.12,282.24 169.27,281.82 169.42,281.52 169.57,281.32 169.72,281.23 169.87,281.26 170.02,281.4 170.16,281.65 170.31,282 170.46,282.47 170.61,283.05 170.76,283.73 170.91,284.51 171.06,285.39 171.2,286.37 171.35,287.43 171.5,288.59 171.65,289.82 171.8,291.13 171.95,292.51 172.09,293.96 172.24,295.46 172.39,297.02 172.54,298.62 172.69,300.25 172.84,301.92 172.99,303.61 173.13,305.32 173.28,307.03 173.43,308.75 173.58,310.46 173.73,312.15 173.88,313.82 174.02,315.46 174.17,317.06 174.32,318.62 174.47,320.13 174.62,321.58 174.77,322.96 174.92,324.28 175.06,325.51 175.21,326.67 175.36,327.73 175.51,328.7 175.66,329.58 175.81,330.35 175.95,331.02 176.1,331.58 176.25,332.03 176.4,332.36 176.55,332.58 176.7,332.69 176.85,332.67 176.99,332.54 177.14,332.3 177.29,331.93 177.44,331.45 177.59,330.86 177.74,330.16 177.88,329.36 178.03,328.44 178.18,327.43 178.33,326.32 178.48,325.12 178.63,323.84 178.78,322.48 178.92,321.04 179.07,319.53 179.22,317.96 179.37,316.34 179.52,314.66 179.67,312.95 179.81,311.21 179.96,309.44 180.11,307.65 180.26,305.86 180.41,304.06 180.56,302.27 180.71,300.49 180.85,298.74 181,297.02 181.15,295.33 181.3,293.7 181.45,292.11 181.6,290.59 181.74,289.13 181.89,287.74 182.04,286.44 182.19,285.22 182.34,284.1 182.49,283.07 182.64,282.14 182.78,281.32 182.93,280.61 183.08,280.01 183.23,279.53 183.38,279.16 183.53,278.92 183.67,278.8 183.82,278.8 183.97,278.92 184.12,279.16 184.27,279.53 184.42,280.02 184.57,280.62 184.71,281.34 184.86,282.17 185.01,283.11 185.16,284.16 185.31,285.31 185.46,286.55 185.6,287.89 185.75,289.3 185.9,290.8 186.05,292.37 186.2,294 186.35,295.7 186.5,297.44 186.64,299.22 186.79,301.04 186.94,302.89 187.09,304.76 187.24,306.63 187.39,308.51 187.53,310.38 187.68,312.24 187.83,314.08 187.98,315.88 188.13,317.65 188.28,319.37 188.43,321.03 188.57,322.63 188.72,324.16 188.87,325.62 189.02,326.99 189.17,328.27 189.32,329.46 189.46,330.55 189.61,331.53 189.76,332.4 189.91,333.16 190.06,333.8 190.21,334.31 190.36,334.71 190.5,334.98 190.65,335.12 190.8,335.14 190.95,335.02 191.1,334.78 191.25,334.41 191.39,333.92 191.54,333.3 191.69,332.56 191.84,331.71 191.99,330.74 192.14,329.66 192.29,328.47 192.43,327.18 192.58,325.8 192.73,324.33 192.88,322.78 193.03,321.15 193.18,319.45 193.33,317.69 193.47,315.88 193.62,314.02 193.77,312.13 193.92,310.2 194.07,308.26 194.22,306.3 194.36,304.34 194.51,302.38 194.66,300.44 194.81,298.52 194.96,296.64 195.11,294.79 195.26,292.99 195.4,291.25 195.55,289.57 195.7,287.96 195.85,286.44 196,284.99 196.15,283.65 196.29,282.4 196.44,281.25 196.59,280.21 196.74,279.29 196.89,278.49 197.04,277.81 197.19,277.25 197.33,276.82 197.48,276.53 197.63,276.37 197.78,276.33 197.93,276.44 198.08,276.67 198.22,277.04 198.37,277.54 198.52,278.17 198.67,278.92 198.82,279.8 198.97,280.8 199.12,281.91 199.26,283.14 199.41,284.47 199.56,285.89 199.71,287.42 199.86,289.03 200.01,290.71 200.15,292.48 200.3,294.3 200.45,296.18 200.6,298.12 200.75,300.09 200.9,302.09 201.05,304.11 201.19,306.15 201.34,308.19 201.49,310.23 201.64,312.26 201.79,314.26 201.94,316.23 202.08,318.15 202.23,320.03 202.38,321.85 202.53,323.61 202.68,325.29 202.83,326.89 202.98,328.4 203.12,329.82 203.27,331.14 203.42,332.34 203.57,333.43 203.72,334.41 203.87,335.26 204.01,335.98 204.16,336.58 204.31,337.04 204.46,337.36 204.61,337.55 204.76,337.59 204.91,337.5 205.05,337.27 205.2,336.91 205.35,336.4 205.5,335.76 205.65,334.99 205.8,334.09 205.94,333.07 206.09,331.93 206.24,330.67 206.39,329.3 206.54,327.82 206.69,326.25 206.84,324.58 206.98,322.84 207.13,321.01 207.28,319.12 207.43,317.17 207.58,315.17 207.73,313.12 207.87,311.04 208.02,308.94 208.17,306.82 208.32,304.7 208.47,302.58 208.62,300.47 208.77,298.38 208.91,296.33 209.06,294.32 209.21,292.36 209.36,290.46 209.51,288.63 209.66,286.87 209.8,285.19 209.95,283.61 210.1,282.13 210.25,280.75 210.4,279.48 210.55,278.33 210.7,277.3 210.84,276.4 210.99,275.64 211.14,275 211.29,274.51 211.44,274.16 211.59,273.95 211.73,273.88 211.88,273.96 212.03,274.18 212.18,274.54 212.33,275.05 212.48,275.7 212.63,276.48 212.77,277.4 212.92,278.45 213.07,279.62 213.22,280.92 213.37,282.33 213.52,283.85 213.66,285.47 213.81,287.19 213.96,289 214.11,290.88 214.26,292.84 214.41,294.86 214.56,296.93 214.7,299.05 214.85,301.21 215,303.39 215.15,305.59 215.3,307.79 215.45,310 215.59,312.19 215.74,314.35 215.89,316.49 216.04,318.58 216.19,320.62 216.34,322.61 216.49,324.52 216.63,326.35 216.78,328.1 216.93,329.76 217.08,331.31 217.23,332.75 217.38,334.08 217.53,335.29 217.67,336.37 217.82,337.32 217.97,338.14 218.12,338.81 218.27,339.34 218.42,339.72 218.56,339.96 218.71,340.05 218.86,339.98 219.01,339.77 219.16,339.41 219.31,338.9 219.46,338.24 219.6,337.45 219.75,336.51 219.9,335.44 220.05,334.23 220.2,332.9 220.35,331.46 220.49,329.89 220.64,328.22 220.79,326.45 220.94,324.59 221.09,322.64 221.24,320.62 221.39,318.53 221.53,316.39 221.68,314.19 221.83,311.96 221.98,309.7 222.13,307.42 222.28,305.14 222.42,302.85 222.57,300.58 222.72,298.33 222.87,296.11 223.02,293.93 223.17,291.81 223.32,289.75 223.46,287.75 223.61,285.84 223.76,284.02 223.91,282.29 224.06,280.67 224.21,279.16 224.35,277.76 224.5,276.5 224.65,275.36 224.8,274.36 224.95,273.5 225.1,272.79 225.25,272.22 225.39,271.8 225.54,271.54 225.69,271.43 225.84,271.48 225.99,271.68 226.14,272.04 226.28,272.55 226.43,273.21 226.58,274.02 226.73,274.97 226.88,276.07 227.03,277.3 227.18,278.66 227.32,280.15 227.47,281.75 227.62,283.47 227.77,285.29 227.92,287.21 228.07,289.22 228.21,291.3 228.36,293.46 228.51,295.68 228.66,297.94 228.81,300.25 228.96,302.59 229.11,304.95 229.25,307.31 229.4,309.68 229.55,312.04 229.7,314.37 229.85,316.67 230,318.93 230.14,321.14 230.29,323.28 230.44,325.35 230.59,327.34 230.74,329.24 230.89,331.05 231.04,332.74 231.18,334.32 231.33,335.77 231.48,337.1 231.63,338.29 231.78,339.35 231.93,340.25 232.07,341.01 232.22,341.62 232.37,342.07 232.52,342.36 232.67,342.49 232.82,342.46 232.97,342.27 233.11,341.92 233.26,341.41 233.41,340.74 233.56,339.92 233.71,338.96 233.86,337.84 234,336.58 234.15,335.19 234.3,333.66 234.45,332.01 234.6,330.25 234.75,328.38 234.9,326.4 235.04,324.34 235.19,322.19 235.34,319.97 235.49,317.68 235.64,315.34 235.79,312.96 235.93,310.54 236.08,308.1 236.23,305.66 236.38,303.21 236.53,300.77 236.68,298.35 236.83,295.96 236.97,293.62 237.12,291.33 237.27,289.11 237.42,286.96 237.57,284.89 237.72,282.91 237.86,281.04 238.01,279.27 238.16,277.62 238.31,276.1 238.46,274.71 238.61,273.46 238.76,272.36 238.9,271.4 239.05,270.6 239.2,269.95 239.35,269.47 239.5,269.15 239.65,268.99 239.8,269.01 239.94,269.18 240.09,269.52 240.24,270.03 240.39,270.7 240.54,271.53 240.69,272.51 240.83,273.65 240.98,274.93 241.13,276.36 241.28,277.92 241.43,279.6 241.58,281.41 241.73,283.34 241.87,285.37 242.02,287.49 242.17,289.7 242.32,291.99 242.47,294.34 242.62,296.76 242.76,299.21 242.91,301.71 243.06,304.22 243.21,306.75 243.36,309.29 243.51,311.81 243.66,314.31 243.8,316.78 243.95,319.2 244.1,321.58 244.25,323.88 244.4,326.12 244.55,328.26 244.69,330.32 244.84,332.27 244.99,334.11 245.14,335.82 245.29,337.41 245.44,338.86 245.59,340.17 245.73,341.33 245.88,342.34 246.03,343.18 246.18,343.87 246.33,344.39 246.48,344.74 246.62,344.92 246.77,344.93 246.92,344.77 247.07,344.43 247.22,343.93 247.37,343.26 247.52,342.42 247.66,341.43 247.81,340.27 247.96,338.96 248.11,337.51 248.26,335.92 248.41,334.19 248.55,332.33 248.7,330.36 248.85,328.28 249,326.1" fill="none" stroke="#b3b3b3" stroke-width="3.5" stroke-linejoin="round"/>
<polyline points="26.3,306.35 26.45,306.35 26.6,306.34 26.75,306.33 26.89,306.32 27.04,306.31 27.19,306.29 27.34,306.27 27.49,306.24 27.64,306.22 27.78,306.19 27.93,306.16 28.08,306.13 28.23,306.09 28.38,306.06 28.53,306.02 28.68,305.99 28.82,305.95 28.97,305.91 29.12,305.88 29.27,305.84 29.42,305.81 29.57,305.78 29.71,305.75 29.86,305.73 30.01,305.7 30.16,305.68 30.31,305.67 30.46,305.65 30.61,305.65 30.75,305.64 30.9,305.64 31.05,305.65 31.2,305.66 31.35,305.67 31.5,305.69 31.64,305.72 31.79,305.75 31.94,305.79 32.09,305.83 32.24,305.87 32.39,305.93 32.54,305.98 32.68,306.05 32.83,306.11 32.98,306.18 33.13,306.26 33.28,306.34 33.43,306.42 33.57,306.51 33.72,306.6 33.87,306.69 34.02,306.78 34.17,306.88 34.32,306.97 34.47,307.07 34.61,307.16 34.76,307.26 34.91,307.35 35.06,307.44 35.21,307.53 35.36,307.62 35.5,307.7 35.65,307.78 35.8,307.85 35.95,307.92 36.1,307.98 36.25,308.04 36.4,308.09 36.54,308.13 36.69,308.17 36.84,308.2 36.99,308.21 37.14,308.23 37.29,308.23 37.44,308.22 37.58,308.2 37.73,308.18 37.88,308.14 38.03,308.1 38.18,308.04 38.33,307.98 38.47,307.9 38.62,307.82 38.77,307.73 38.92,307.63 39.07,307.52 39.22,307.4 39.37,307.28 39.51,307.14 39.66,307 39.81,306.86 39.96,306.71 40.11,306.55 40.26,306.39 40.4,306.23 40.55,306.06 40.7,305.89 40.85,305.72 41,305.55 41.15,305.38 41.3,305.21 41.44,305.04 41.59,304.87 41.74,304.71 41.89,304.56 42.04,304.4 42.19,304.26 42.33,304.12 42.48,303.99 42.63,303.87 42.78,303.76 42.93,303.65 43.08,303.56 43.23,303.48 43.37,303.41 43.52,303.36 43.67,303.31 43.82,303.28 43.97,303.27 44.12,303.26 44.26,303.27 44.41,303.3 44.56,303.34 44.71,303.4 44.86,303.47 45.01,303.55 45.16,303.65 45.3,303.76 45.45,303.89 45.6,304.03 45.75,304.18 45.9,304.34 46.05,304.52 46.19,304.71 46.34,304.9 46.49,305.11 46.64,305.33 46.79,305.55 46.94,305.78 47.09,306.02 47.23,306.26 47.38,306.5 47.53,306.75 47.68,307 47.83,307.25 47.98,307.5 48.12,307.75 48.27,308 48.42,308.24 48.57,308.47 48.72,308.7 48.87,308.92 49.02,309.13 49.16,309.34 49.31,309.53 49.46,309.71 49.61,309.87 49.76,310.03 49.91,310.16 50.05,310.29 50.2,310.39 50.35,310.48 50.5,310.55 50.65,310.61 50.8,310.64 50.95,310.66 51.09,310.65 51.24,310.63 51.39,310.58 51.54,310.52 51.69,310.44 51.84,310.33 51.98,310.21 52.13,310.07 52.28,309.91 52.43,309.74 52.58,309.54 52.73,309.33 52.88,309.1 53.02,308.86 53.17,308.6 53.32,308.34 53.47,308.05 53.62,307.76 53.77,307.46 53.91,307.15 54.06,306.83 54.21,306.51 54.36,306.18 54.51,305.86 54.66,305.52 54.81,305.19 54.95,304.87 55.1,304.54 55.25,304.22 55.4,303.91 55.55,303.6 55.7,303.3 55.84,303.02 55.99,302.74 56.14,302.48 56.29,302.24 56.44,302.01 56.59,301.79 56.74,301.6 56.88,301.42 57.03,301.27 57.18,301.14 57.33,301.03 57.48,300.94 57.63,300.88 57.77,300.84 57.92,300.82 58.07,300.83 58.22,300.87 58.37,300.93 58.52,301.01 58.67,301.12 58.81,301.26 58.96,301.41 59.11,301.6 59.26,301.8 59.41,302.03 59.56,302.28 59.7,302.55 59.85,302.83 60,303.14 60.15,303.47 60.3,303.81 60.45,304.16 60.6,304.53 60.74,304.91 60.89,305.3 61.04,305.69 61.19,306.1 61.34,306.51 61.49,306.92 61.64,307.33 61.78,307.74 61.93,308.15 62.08,308.55 62.23,308.95 62.38,309.33 62.53,309.71 62.67,310.08 62.82,310.43 62.97,310.77 63.12,311.09 63.27,311.39 63.42,311.67 63.57,311.93 63.71,312.17 63.86,312.38 64.01,312.56 64.16,312.72 64.31,312.86 64.46,312.96 64.6,313.04 64.75,313.08 64.9,313.1 65.05,313.09 65.2,313.04 65.35,312.97 65.5,312.86 65.64,312.73 65.79,312.56 65.94,312.37 66.09,312.15 66.24,311.9 66.39,311.62 66.53,311.32 66.68,310.99 66.83,310.64 66.98,310.27 67.13,309.88 67.28,309.47 67.43,309.04 67.57,308.6 67.72,308.14 67.87,307.67 68.02,307.2 68.17,306.71 68.32,306.22 68.46,305.73 68.61,305.24 68.76,304.75 68.91,304.26 69.06,303.78 69.21,303.31 69.36,302.84 69.5,302.39 69.65,301.96 69.8,301.54 69.95,301.14 70.1,300.76 70.25,300.4 70.39,300.07 70.54,299.76 70.69,299.48 70.84,299.23 70.99,299.01 71.14,298.82 71.29,298.66 71.43,298.54 71.58,298.45 71.73,298.4 71.88,298.38 72.03,298.39 72.18,298.45 72.32,298.53 72.47,298.66 72.62,298.82 72.77,299.01 72.92,299.24 73.07,299.5 73.22,299.79 73.36,300.12 73.51,300.47 73.66,300.85 73.81,301.26 73.96,301.7 74.11,302.16 74.25,302.64 74.4,303.14 74.55,303.66 74.7,304.19 74.85,304.73 75,305.29 75.15,305.86 75.29,306.43 75.44,307 75.59,307.57 75.74,308.15 75.89,308.71 76.04,309.27 76.18,309.82 76.33,310.36 76.48,310.88 76.63,311.39 76.78,311.88 76.93,312.34 77.08,312.78 77.22,313.2 77.37,313.58 77.52,313.94 77.67,314.27 77.82,314.56 77.97,314.81 78.11,315.03 78.26,315.21 78.41,315.36 78.56,315.46 78.71,315.52 78.86,315.55 79.01,315.53 79.15,315.47 79.3,315.37 79.45,315.23 79.6,315.05 79.75,314.83 79.9,314.57 80.04,314.27 80.19,313.93 80.34,313.56 80.49,313.15 80.64,312.72 80.79,312.25 80.94,311.75 81.08,311.22 81.23,310.67 81.38,310.1 81.53,309.51 81.68,308.9 81.83,308.28 81.97,307.64 82.12,307 82.27,306.34 82.42,305.69 82.57,305.03 82.72,304.38 82.87,303.73 83.01,303.09 83.16,302.47 83.31,301.85 83.46,301.26 83.61,300.68 83.76,300.12 83.91,299.59 84.05,299.09 84.2,298.62 84.35,298.18 84.5,297.77 84.65,297.4 84.8,297.07 84.94,296.78 85.09,296.52 85.24,296.32 85.39,296.15 85.54,296.03 85.69,295.96 85.84,295.93 85.98,295.95 86.13,296.01 86.28,296.12 86.43,296.28 86.58,296.48 86.73,296.73 86.87,297.02 87.02,297.36 87.17,297.74 87.32,298.15 87.47,298.61 87.62,299.1 87.77,299.63 87.91,300.19 88.06,300.78 88.21,301.4 88.36,302.04 88.51,302.71 88.66,303.39 88.8,304.09 88.95,304.81 89.1,305.53 89.25,306.27 89.4,307 89.55,307.74 89.7,308.47 89.84,309.2 89.99,309.92 90.14,310.62 90.29,311.31 90.44,311.99 90.59,312.64 90.73,313.26 90.88,313.86 91.03,314.42 91.18,314.95 91.33,315.45 91.48,315.91 91.63,316.32 91.77,316.7 91.92,317.03 92.07,317.31 92.22,317.55 92.37,317.74 92.52,317.87 92.66,317.96 92.81,318 92.96,317.98 93.11,317.91 93.26,317.79 93.41,317.62 93.56,317.39 93.7,317.12 93.85,316.8 94,316.43 94.15,316.01 94.3,315.55 94.45,315.04 94.59,314.5 94.74,313.91 94.89,313.29 95.04,312.63 95.19,311.95 95.34,311.23 95.49,310.5 95.63,309.74 95.78,308.96 95.93,308.16 96.08,307.36 96.23,306.55 96.38,305.73 96.52,304.91 96.67,304.09 96.82,303.29 96.97,302.49 97.12,301.7 97.27,300.94 97.42,300.19 97.56,299.47 97.71,298.77 97.86,298.11 98.01,297.48 98.16,296.89 98.31,296.34 98.45,295.83 98.6,295.36 98.75,294.94 98.9,294.57 99.05,294.26 99.2,293.99 99.35,293.78 99.49,293.62 99.64,293.52 99.79,293.48 99.94,293.5 100.09,293.57 100.24,293.7 100.38,293.88 100.53,294.12 100.68,294.42 100.83,294.77 100.98,295.18 101.13,295.63 101.28,296.14 101.42,296.69 101.57,297.29 101.72,297.93 101.87,298.62 102.02,299.33 102.17,300.09 102.31,300.87 102.46,301.68 102.61,302.52 102.76,303.37 102.91,304.25 103.06,305.13 103.21,306.02 103.35,306.92 103.5,307.82 103.65,308.72 103.8,309.61 103.95,310.49 104.1,311.35 104.25,312.19 104.39,313.02 104.54,313.81 104.69,314.58 104.84,315.31 104.99,316 105.14,316.65 105.28,317.26 105.43,317.83 105.58,318.34 105.73,318.8 105.88,319.21 106.03,319.57 106.18,319.86 106.32,320.1 106.47,320.27 106.62,320.39 106.77,320.44 106.92,320.43 107.07,320.36 107.21,320.22 107.36,320.03 107.51,319.77 107.66,319.45 107.81,319.07 107.96,318.63 108.11,318.13 108.25,317.58 108.4,316.98 108.55,316.33 108.7,315.64 108.85,314.9 109,314.11 109.14,313.29 109.29,312.44 109.44,311.56 109.59,310.65 109.74,309.72 109.89,308.77 110.04,307.8 110.18,306.83 110.33,305.85 110.48,304.87 110.63,303.89 110.78,302.92 110.93,301.96 111.07,301.02 111.22,300.09 111.37,299.2 111.52,298.33 111.67,297.49 111.82,296.69 111.97,295.93 112.11,295.22 112.26,294.55 112.41,293.93 112.56,293.37 112.71,292.86 112.86,292.41 113,292.02 113.15,291.69 113.3,291.43 113.45,291.23 113.6,291.1 113.75,291.04 113.9,291.04 114.04,291.11 114.19,291.25 114.34,291.46 114.49,291.74 114.64,292.08 114.79,292.49 114.93,292.96 115.08,293.49 115.23,294.08 115.38,294.73 115.53,295.43 115.68,296.18 115.83,296.98 115.97,297.82 116.12,298.71 116.27,299.63 116.42,300.58 116.57,301.57 116.72,302.58 116.86,303.6 117.01,304.65 117.16,305.7 117.31,306.76 117.46,307.83 117.61,308.89 117.76,309.94 117.9,310.98 118.05,312 118.2,313 118.35,313.97 118.5,314.92 118.65,315.82 118.79,316.69 118.94,317.52 119.09,318.3 119.24,319.02 119.39,319.7 119.54,320.31 119.69,320.87 119.83,321.36 119.98,321.79 120.13,322.15 120.28,322.44 120.43,322.66 120.58,322.81 120.72,322.88 120.87,322.89 121.02,322.82 121.17,322.67 121.32,322.45 121.47,322.16 121.62,321.8 121.76,321.37 121.91,320.87 122.06,320.3 122.21,319.67 122.36,318.98 122.51,318.23 122.65,317.42 122.8,316.56 122.95,315.66 123.1,314.71 123.25,313.72 123.4,312.69 123.55,311.64 123.69,310.55 123.84,309.45 123.99,308.32 124.14,307.19 124.29,306.05 124.44,304.9 124.58,303.76 124.73,302.63 124.88,301.51 125.03,300.4 125.18,299.33 125.33,298.27 125.48,297.26 125.62,296.28 125.77,295.34 125.92,294.44 126.07,293.6 126.22,292.82 126.37,292.09 126.52,291.42 126.66,290.81 126.81,290.28 126.96,289.81 127.11,289.42 127.26,289.1 127.41,288.85 127.55,288.68 127.7,288.6 127.85,288.59 128,288.65 128.15,288.8 128.3,289.03 128.45,289.33 128.59,289.72 128.74,290.17 128.89,290.7 129.04,291.3 129.19,291.97 129.34,292.71 129.48,293.51 129.63,294.36 129.78,295.28 129.93,296.24 130.08,297.26 130.23,298.32 130.38,299.41 130.52,300.54 130.67,301.7 130.82,302.88 130.97,304.08 131.12,305.3 131.27,306.52 131.41,307.75 131.56,308.97 131.71,310.19 131.86,311.39 132.01,312.57 132.16,313.73 132.31,314.86 132.45,315.95 132.6,317.01 132.75,318.02 132.9,318.98 133.05,319.88 133.2,320.73 133.34,321.52 133.49,322.24 133.64,322.89 133.79,323.48 133.94,323.98 134.09,324.41 134.24,324.76 134.38,325.03 134.53,325.22 134.68,325.32 134.83,325.34 134.98,325.28 135.13,325.13 135.27,324.89 135.42,324.58 135.57,324.18 135.72,323.7 135.87,323.14 136.02,322.51 136.17,321.8 136.31,321.02 136.46,320.17 136.61,319.26 136.76,318.29 136.91,317.27 137.06,316.19 137.2,315.07 137.35,313.9 137.5,312.7 137.65,311.47 137.8,310.21 137.95,308.93 138.1,307.63 138.24,306.33 138.39,305.02 138.54,303.71 138.69,302.42 138.84,301.13 138.99,299.87 139.13,298.63 139.28,297.43 139.43,296.26 139.58,295.13 139.73,294.05 139.88,293.02 140.03,292.05 140.17,291.14 140.32,290.29 140.47,289.51 140.62,288.81 140.77,288.18 140.92,287.63 141.06,287.17 141.21,286.79 141.36,286.49 141.51,286.28 141.66,286.16 141.81,286.13 141.96,286.19 142.1,286.34 142.25,286.58 142.4,286.91 142.55,287.32 142.7,287.82 142.85,288.41 142.99,289.08 143.14,289.82 143.29,290.64 143.44,291.53 143.59,292.49 143.74,293.52 143.89,294.6 144.03,295.74 144.18,296.93 144.33,298.17 144.48,299.44 144.63,300.75 144.78,302.08 144.92,303.44 145.07,304.82 145.22,306.2 145.37,307.59 145.52,308.98 145.67,310.36 145.82,311.72 145.96,313.07 146.11,314.38 146.26,315.67 146.41,316.92 146.56,318.12 146.71,319.27 146.85,320.37 147,321.41 147.15,322.38 147.3,323.29 147.45,324.12 147.6,324.88 147.75,325.55 147.89,326.14 148.04,326.65 148.19,327.06 148.34,327.38 148.49,327.62 148.64,327.75 148.78,327.79 148.93,327.74 149.08,327.59 149.23,327.35 149.38,327.01 149.53,326.58 149.68,326.06 149.82,325.45 149.97,324.75 150.12,323.97 150.27,323.11 150.42,322.17 150.57,321.16 150.72,320.08 150.86,318.94 151.01,317.74 151.16,316.49 151.31,315.18 151.46,313.84 151.61,312.46 151.75,311.04 151.9,309.61 152.05,308.15 152.2,306.69 152.35,305.22 152.5,303.75 152.65,302.29 152.79,300.84 152.94,299.42 153.09,298.02 153.24,296.65 153.39,295.33 153.54,294.05 153.68,292.83 153.83,291.66 153.98,290.55 154.13,289.51 154.28,288.55 154.43,287.66 154.58,286.85 154.72,286.13 154.87,285.49 155.02,284.95 155.17,284.5 155.32,284.15 155.47,283.89 155.61,283.74 155.76,283.68 155.91,283.73 156.06,283.87 156.21,284.12 156.36,284.46 156.51,284.91 156.65,285.45 156.8,286.08 156.95,286.81 157.1,287.63 157.25,288.53 157.4,289.51 157.54,290.57 157.69,291.7 157.84,292.9 157.99,294.16 158.14,295.48 158.29,296.85 158.44,298.26 158.58,299.72 158.73,301.21 158.88,302.72 159.03,304.25 159.18,305.8 159.33,307.35 159.47,308.9 159.62,310.45 159.77,311.98 159.92,313.48 160.07,314.96 160.22,316.4 160.37,317.81 160.51,319.16 160.66,320.46 160.81,321.7 160.96,322.87 161.11,323.98 161.26,325.01 161.4,325.95 161.55,326.81 161.7,327.59 161.85,328.27 162,328.85 162.15,329.33 162.3,329.72 162.44,330 162.59,330.17 162.74,330.24 162.89,330.21 163.04,330.07 163.19,329.82 163.33,329.46 163.48,329.01 163.63,328.45 163.78,327.79 163.93,327.04 164.08,326.19 164.23,325.25 164.37,324.22 164.52,323.12 164.67,321.93 164.82,320.68 164.97,319.36 165.12,317.97 165.26,316.54 165.41,315.05 165.56,313.52 165.71,311.96 165.86,310.37 166.01,308.76 166.16,307.13 166.3,305.5 166.45,303.86 166.6,302.24 166.75,300.63 166.9,299.04 167.05,297.48 167.19,295.96 167.34,294.48 167.49,293.05 167.64,291.67 167.79,290.36 167.94,289.12 168.09,287.95 168.23,286.86 168.38,285.85 168.53,284.93 168.68,284.11 168.83,283.39 168.98,282.76 169.12,282.24 169.27,281.82 169.42,281.52 169.57,281.32 169.72,281.23 169.87,281.26 170.02,281.4 170.16,281.65 170.31,282 170.46,282.47 170.61,283.05 170.76,283.73 170.91,284.51 171.06,285.39 171.2,286.37 171.35,287.43 171.5,288.59 171.65,289.82 171.8,291.13 171.95,292.51 172.09,293.96 172.24,295.46 172.39,297.02 172.54,298.62 172.69,300.25 172.84,301.92 172.99,303.61 173.13,305.32 173.28,307.03 173.43,308.75 173.58,310.46 173.73,312.15 173.88,313.82 174.02,315.46 174.17,317.06 174.32,318.62 174.47,320.13 174.62,321.58 174.77,322.96 174.92,324.28 175.06,325.51 175.21,326.67 175.36,327.73 175.51,328.7 175.66,329.58 175.81,330.35 175.95,331.02 176.1,331.58 176.25,332.03 176.4,332.36 176.55,332.58 176.7,332.69 176.85,332.67 176.99,332.54 177.14,332.3 177.29,331.93 177.44,331.45 177.59,330.86 177.74,330.16 177.88,329.36 178.03,328.44 178.18,327.43 178.33,326.32 178.48,325.12 178.63,323.84 178.78,322.48 178.92,321.04 179.07,319.53 179.22,317.96 179.37,316.34 179.52,314.66 179.67,312.95 179.81,311.21 179.96,309.44 180.11,307.65 180.26,305.86 180.41,304.06 180.56,302.27 180.71,300.49 180.85,298.74 181,297.02 181.15,295.33 181.3,293.7 181.45,292.11 181.6,290.59 181.74,289.13 181.89,287.74 182.04,286.44 182.19,285.22 182.34,284.1 182.49,283.07 182.64,282.14 182.78,281.32 182.93,280.61 183.08,280.01 183.23,279.53 183.38,279.16 183.53,278.92 183.67,278.8 183.82,278.8 183.97,278.92 184.12,279.16 184.27,279.53 184.42,280.02 184.57,280.62 184.71,281.34 184.86,282.17 185.01,283.11 185.16,284.16 185.31,285.31 185.46,286.55 185.6,287.89 185.75,289.3 185.9,290.8 186.05,292.37 186.2,294 186.35,295.7 186.5,297.44 186.64,299.22 186.79,301.04 186.94,302.89 187.09,304.76 187.24,306.63 187.39,308.51 187.53,310.38 187.68,312.24 187.83,314.08 187.98,315.88 188.13,317.65 188.28,319.37 188.43,321.03 188.57,322.63 188.72,324.16 188.87,325.62 189.02,326.99 189.17,328.27 189.32,329.46 189.46,330.55 189.61,331.53 189.76,332.4 189.91,333.16 190.06,333.8 190.21,334.31 190.36,334.71 190.5,334.98 190.65,335.12 190.8,335.14 190.95,335.02 191.1,334.78 191.25,334.41 191.39,333.92 191.54,333.3 191.69,332.56 191.84,331.71 191.99,330.74 192.14,329.66 192.29,328.47 192.43,327.18 192.58,325.8 192.73,324.33 192.88,322.78 193.03,321.15 193.18,319.45 193.33,317.69 193.47,315.88 193.62,314.02 193.77,312.13 193.92,310.2 194.07,308.26 194.22,306.3 194.36,304.34 194.51,302.38 194.66,300.44 194.81,298.52 194.96,296.64 195.11,294.79 195.26,292.99 195.4,291.25 195.55,289.57 195.7,287.96 195.85,286.44 196,284.99 196.15,283.65 196.29,282.4 196.44,281.25 196.59,280.21 196.74,279.29 196.89,278.49 197.04,277.81 197.19,277.25 197.33,276.82 197.48,276.53 197.63,276.37 197.78,276.33 197.93,276.44 198.08,276.67 198.22,277.04 198.37,277.54 198.52,278.17 198.67,278.92 198.82,279.8 198.97,280.8 199.12,281.91 199.26,283.14 199.41,284.47 199.56,285.89 199.71,287.42 199.86,289.03 200.01,290.71 200.15,292.48 200.3,294.3 200.45,296.18 200.6,298.12 200.75,300.09 200.9,302.09 201.05,304.11 201.19,306.15 201.34,308.19 201.49,310.23 201.64,312.26 201.79,314.26 201.94,316.23 202.08,318.15 202.23,320.03 202.38,321.85 202.53,323.61 202.68,325.29 202.83,326.89 202.98,328.4 203.12,329.82 203.27,331.14 203.42,332.34 203.57,333.43 203.72,334.41 203.87,335.26 204.01,335.98 204.16,336.58 204.31,337.04 204.46,337.36 204.61,337.55 204.76,337.59 204.91,337.5 205.05,337.27 205.2,336.91 205.35,336.4 205.5,335.76 205.65,334.99 205.8,334.09 205.94,333.07 206.09,331.93 206.24,330.67 206.39,329.3 206.54,327.82 206.69,326.25 206.84,324.58 206.98,322.84 207.13,321.01 207.28,319.12 207.43,317.17 207.58,315.17 207.73,313.12 207.87,311.04 208.02,308.94 208.17,306.82 208.32,304.7 208.47,302.58 208.62,300.47 208.77,298.38 208.91,296.33 209.06,294.32 209.21,292.36 209.36,290.46 209.51,288.63 209.66,286.87 209.8,285.19 209.95,283.61 210.1,282.13 210.25,280.75 210.4,279.48 210.55,278.33 210.7,277.3 210.84,276.4 210.99,275.64 211.14,275 211.29,274.51 211.44,274.16 211.59,273.95 211.73,273.88 211.88,273.96 212.03,274.18 212.18,274.54 212.33,275.05 212.48,275.7 212.63,276.48 212.77,277.4 212.92,278.45 213.07,279.62 213.22,280.92 213.37,282.33 213.52,283.85 213.66,285.47 213.81,287.19 213.96,289 214.11,290.88 214.26,292.84 214.41,294.86 214.56,296.93 214.7,299.05 214.85,301.21 215,303.39 215.15,305.59 215.3,307.79 215.45,310 215.59,312.19 215.74,314.35 215.89,316.49 216.04,318.58 216.19,320.62 216.34,322.61 216.49,324.52 216.63,326.35 216.78,328.1 216.93,329.76 217.08,331.31 217.23,332.75 217.38,334.08 217.53,335.29 217.67,336.37 217.82,337.32 217.97,338.14 218.12,338.81 218.27,339.34 218.42,339.72 218.56,339.96 218.71,340.05 218.86,339.98 219.01,339.77 219.16,339.41 219.31,338.9 219.46,338.24 219.6,337.45 219.75,336.51 219.9,335.44 220.05,334.23 220.2,332.9 220.35,331.46 220.49,329.89 220.64,328.22 220.79,326.45 220.94,324.59 221.09,322.64 221.24,320.62 221.39,318.53 221.53,316.39 221.68,314.19 221.83,311.96 221.98,309.7 222.13,307.42 222.28,305.14 222.42,302.85 222.57,300.58 222.72,298.33 222.87,296.11 223.02,293.93 223.17,291.81 223.32,289.75 223.46,287.75 223.61,285.84 223.76,284.02 223.91,282.29 224.06,280.67 224.21,279.16 224.35,277.76 224.5,276.5 224.65,275.36 224.8,274.36 224.95,273.5 225.1,272.79 225.25,272.22 225.39,271.8 225.54,271.54 225.69,271.43 225.84,271.48 225.99,271.68 226.14,272.04 226.28,272.55 226.43,273.21 226.58,274.02 226.73,274.97 226.88,276.07 227.03,277.3 227.18,278.66 227.32,280.15 227.47,281.75 227.62,283.47 227.77,285.29 227.92,287.21 228.07,289.22 228.21,291.3 228.36,293.46 228.51,295.68 228.66,297.94 228.81,300.25 228.96,302.59 229.11,304.95 229.25,307.31 229.4,309.68 229.55,312.04 229.7,314.37 229.85,316.67 230,318.93 230.14,321.14 230.29,323.28 230.44,325.35 230.59,327.34 230.74,329.24 230.89,331.05 231.04,332.74 231.18,334.32 231.33,335.77 231.48,337.1 231.63,338.29 231.78,339.35 231.93,340.25 232.07,341.01 232.22,341.62 232.37,342.07 232.52,342.36 232.67,342.49 232.82,342.46 232.97,342.27 233.11,341.92 233.26,341.41 233.41,340.74 233.56,339.92 233.71,338.96 233.86,337.84 234,336.58 234.15,335.19 234.3,333.66 234.45,332.01 234.6,330.25 234.75,328.38 234.9,326.4 235.04,324.34 235.19,322.19 235.34,319.97 235.49,317.68 235.64,315.34 235.79,312.96 235.93,310.54 236.08,308.1 236.23,305.66 236.38,303.21 236.53,300.77 236.68,298.35 236.83,295.96 236.97,293.62 237.12,291.33 237.27,289.11 237.42,286.96 237.57,284.89 237.72,282.91 237.86,281.04 238.01,279.27 238.16,277.62 238.31,276.1 238.46,274.71 238.61,273.46 238.76,272.36 238.9,271.4 239.05,270.6 239.2,269.95 239.35,269.47 239.5,269.15 239.65,268.99 239.8,269.01 239.94,269.18 240.09,269.52 240.24,270.03 240.39,270.7 240.54,271.53 240.69,272.51 240.83,273.65 240.98,274.93 241.13,276.36 241.28,277.92 241.43,279.6 241.58,281.41 241.73,283.34 241.87,285.37 242.02,287.49 242.17,289.7 242.32,291.99 242.47,294.34 242.62,296.76 242.76,299.21 242.91,301.71 243.06,304.22 243.21,306.75 243.36,309.29 243.51,311.81 243.66,314.31 243.8,316.78 243.95,319.2 244.1,321.58 244.25,323.88 244.4,326.12 244.55,328.26 244.69,330.32 244.84,332.27 244.99,334.11 245.14,335.82 245.29,337.41 245.44,338.86 245.59,340.17 245.73,341.33 245.88,342.34 246.03,343.18 246.18,343.87 246.33,344.39 246.48,344.74 246.62,344.92 246.77,344.93 246.92,344.77 247.07,344.43 247.22,343.93 247.37,343.26 247.52,342.42 247.66,341.43 247.81,340.27 247.96,338.96 248.11,337.51 248.26,335.92 248.41,334.19 248.55,332.33 248.7,330.36 248.85,328.28 249,326.1" fill="none" stroke="#ff0000" stroke-width="1.8" stroke-dasharray="5 1.25 2 1.25" stroke-linejoin="round"/>
</g>
<text transform="translate(26.3 355.8) scale(0.95 1)" text-anchor="middle" font-family="'Liberation Serif', serif" font-size="9.4" fill="#262626" stroke="#262626" stroke-width="0.2">0</text><text transform="translate(70.84 355.8) scale(0.95 1)" text-anchor="middle" font-family="'Liberation Serif', serif" font-size="9.4" fill="#262626" stroke="#262626" stroke-width="0.2">2</text><text transform="translate(115.38 355.8) scale(0.95 1)" text-anchor="middle" font-family="'Liberation Serif', serif" font-size="9.4" fill="#262626" stroke="#262626" stroke-width="0.2">4</text><text transform="translate(159.92 355.8) scale(0.95 1)" text-anchor="middle" font-family="'Liberation Serif', serif" font-size="9.4" fill="#262626" stroke="#262626" stroke-width="0.2">6</text><text transform="translate(204.46 355.8) scale(0.95 1)" text-anchor="middle" font-family="'Liberation Serif', serif" font-size="9.4" fill="#262626" stroke="#262626" stroke-width="0.2">8</text><text transform="translate(249 355.8) scale(0.95 1)" text-anchor="middle" font-family="'Liberation Serif', serif" font-size="9.4" fill="#262626" stroke="#262626" stroke-width="0.2">10</text><text transform="translate(23.2 269.65) scale(0.95 1)" text-anchor="end" font-family="'Liberation Serif', serif" font-size="9.4" fill="#262626" stroke="#262626" stroke-width="0.2">5</text><text transform="translate(23.2 308.65) scale(0.95 1)" text-anchor="end" font-family="'Liberation Serif', serif" font-size="9.4" fill="#262626" stroke="#262626" stroke-width="0.2">0</text><text transform="translate(23.2 347.65) scale(0.95 1)" text-anchor="end" font-family="'Liberation Serif', serif" font-size="9.4" fill="#262626" stroke="#262626" stroke-width="0.2">−5</text>
<text transform="translate(137.65 369.45)" text-anchor="middle" font-family="'Liberation Sans', sans-serif" font-size="9.9" fill="#262626" stroke="#262626" stroke-width="0.15">Time [s]</text>
<text transform="translate(10 306.85) rotate(-90)" text-anchor="middle" font-family="'Liberation Sans', sans-serif" font-size="9.9" fill="#262626" stroke="#262626" stroke-width="0.15">x [m]</text>
<text transform="translate(137.25 259.1)" text-anchor="middle" font-family="'Liberation Sans', sans-serif" font-size="10.05" font-weight="bold" fill="#000">Position m<tspan font-size="8.0" dy="4.8">3</tspan></text>
<path d="M364.16 267.35V345.35M408.72 267.35V345.35M453.28 267.35V345.35M497.84 267.35V345.35" stroke="#dcdcdc" stroke-width="0.6" fill="none"/>
<path d="M319.6 345.35v-2.2M319.6 267.35v2.2M364.16 345.35v-2.2M364.16 267.35v2.2M408.72 345.35v-2.2M408.72 267.35v2.2M453.28 345.35v-2.2M453.28 267.35v2.2M497.84 345.35v-2.2M497.84 267.35v2.2M542.4 345.35v-2.2M542.4 267.35v2.2M319.6 345.35h2.2M542.4 345.35h-2.2M319.6 306.35h2.2M542.4 306.35h-2.2M319.6 267.35h2.2M542.4 267.35h-2.2" stroke="#262626" stroke-width="0.6" fill="none"/>
<rect x="319.6" y="267.35" width="222.8" height="78" fill="none" stroke="#262626" stroke-width="0.65"/>
<g>
<polyline points="319.6,306.35 319.75,306.38 319.9,306.4 320.05,306.43 320.19,306.45 320.34,306.47 320.49,306.49 320.64,306.51 320.79,306.53 320.94,306.54 321.09,306.55 321.23,306.56 321.38,306.57 321.53,306.57 321.68,306.57 321.83,306.56 321.98,306.55 322.13,306.54 322.27,306.52 322.42,306.5 322.57,306.47 322.72,306.44 322.87,306.41 323.02,306.37 323.16,306.33 323.31,306.29 323.46,306.24 323.61,306.19 323.76,306.14 323.91,306.08 324.06,306.03 324.2,305.97 324.35,305.91 324.5,305.85 324.65,305.78 324.8,305.72 324.95,305.66 325.1,305.6 325.24,305.54 325.39,305.48 325.54,305.43 325.69,305.37 325.84,305.32 325.99,305.27 326.14,305.23 326.28,305.19 326.43,305.16 326.58,305.13 326.73,305.1 326.88,305.09 327.03,305.07 327.18,305.07 327.32,305.07 327.47,305.08 327.62,305.09 327.77,305.11 327.92,305.14 328.07,305.18 328.21,305.22 328.36,305.27 328.51,305.33 328.66,305.4 328.81,305.47 328.96,305.55 329.11,305.63 329.25,305.72 329.4,305.82 329.55,305.93 329.7,306.04 329.85,306.15 330,306.27 330.15,306.39 330.29,306.51 330.44,306.64 330.59,306.77 330.74,306.9 330.89,307.04 331.04,307.17 331.19,307.3 331.33,307.43 331.48,307.56 331.63,307.69 331.78,307.81 331.93,307.93 332.08,308.04 332.23,308.15 332.37,308.26 332.52,308.35 332.67,308.44 332.82,308.52 332.97,308.6 333.12,308.66 333.27,308.72 333.41,308.76 333.56,308.79 333.71,308.82 333.86,308.83 334.01,308.83 334.16,308.82 334.3,308.8 334.45,308.76 334.6,308.71 334.75,308.66 334.9,308.58 335.05,308.5 335.2,308.41 335.34,308.3 335.49,308.19 335.64,308.06 335.79,307.92 335.94,307.77 336.09,307.62 336.24,307.45 336.38,307.28 336.53,307.09 336.68,306.91 336.83,306.71 336.98,306.51 337.13,306.31 337.28,306.1 337.42,305.9 337.57,305.69 337.72,305.48 337.87,305.27 338.02,305.06 338.17,304.85 338.32,304.65 338.46,304.45 338.61,304.26 338.76,304.07 338.91,303.9 339.06,303.73 339.21,303.57 339.35,303.42 339.5,303.28 339.65,303.15 339.8,303.04 339.95,302.94 340.1,302.85 340.25,302.78 340.39,302.73 340.54,302.69 340.69,302.66 340.84,302.65 340.99,302.66 341.14,302.69 341.29,302.73 341.43,302.79 341.58,302.87 341.73,302.97 341.88,303.08 342.03,303.21 342.18,303.35 342.33,303.51 342.47,303.68 342.62,303.87 342.77,304.07 342.92,304.29 343.07,304.52 343.22,304.76 343.37,305.01 343.51,305.26 343.66,305.53 343.81,305.81 343.96,306.08 344.11,306.37 344.26,306.66 344.41,306.95 344.55,307.24 344.7,307.53 344.85,307.81 345,308.1 345.15,308.38 345.3,308.65 345.44,308.92 345.59,309.18 345.74,309.43 345.89,309.67 346.04,309.89 346.19,310.1 346.34,310.3 346.48,310.48 346.63,310.65 346.78,310.79 346.93,310.92 347.08,311.03 347.23,311.12 347.38,311.19 347.52,311.24 347.67,311.26 347.82,311.27 347.97,311.25 348.12,311.21 348.27,311.14 348.42,311.06 348.56,310.95 348.71,310.82 348.86,310.67 349.01,310.5 349.16,310.31 349.31,310.09 349.46,309.86 349.6,309.61 349.75,309.35 349.9,309.06 350.05,308.77 350.2,308.45 350.35,308.13 350.49,307.8 350.64,307.45 350.79,307.1 350.94,306.74 351.09,306.37 351.24,306 351.39,305.63 351.53,305.26 351.68,304.89 351.83,304.52 351.98,304.16 352.13,303.81 352.28,303.46 352.43,303.12 352.57,302.8 352.72,302.49 352.87,302.19 353.02,301.91 353.17,301.64 353.32,301.4 353.47,301.17 353.61,300.97 353.76,300.78 353.91,300.63 354.06,300.49 354.21,300.38 354.36,300.3 354.51,300.25 354.65,300.22 354.8,300.21 354.95,300.24 355.1,300.29 355.25,300.37 355.4,300.48 355.55,300.62 355.69,300.78 355.84,300.97 355.99,301.19 356.14,301.43 356.29,301.69 356.44,301.98 356.58,302.29 356.73,302.62 356.88,302.96 357.03,303.33 357.18,303.72 357.33,304.11 357.48,304.53 357.62,304.95 357.77,305.38 357.92,305.82 358.07,306.27 358.22,306.72 358.37,307.17 358.52,307.62 358.66,308.07 358.81,308.52 358.96,308.96 359.11,309.39 359.26,309.81 359.41,310.21 359.56,310.61 359.7,310.99 359.85,311.34 360,311.68 360.15,312 360.3,312.3 360.45,312.57 360.6,312.81 360.74,313.03 360.89,313.22 361.04,313.38 361.19,313.51 361.34,313.61 361.49,313.67 361.63,313.71 361.78,313.71 361.93,313.68 362.08,313.61 362.23,313.51 362.38,313.38 362.53,313.22 362.67,313.02 362.82,312.8 362.97,312.54 363.12,312.26 363.27,311.94 363.42,311.6 363.57,311.23 363.71,310.84 363.86,310.42 364.01,309.99 364.16,309.53 364.31,309.06 364.46,308.57 364.61,308.07 364.75,307.56 364.9,307.04 365.05,306.51 365.2,305.98 365.35,305.45 365.5,304.91 365.65,304.38 365.79,303.86 365.94,303.34 366.09,302.84 366.24,302.34 366.39,301.86 366.54,301.4 366.69,300.96 366.83,300.54 366.98,300.14 367.13,299.77 367.28,299.42 367.43,299.1 367.58,298.82 367.72,298.56 367.87,298.34 368.02,298.15 368.17,298 368.32,297.89 368.47,297.81 368.62,297.77 368.76,297.77 368.91,297.81 369.06,297.88 369.21,297.99 369.36,298.14 369.51,298.33 369.66,298.56 369.8,298.82 369.95,299.12 370.1,299.45 370.25,299.82 370.4,300.21 370.55,300.64 370.7,301.09 370.84,301.57 370.99,302.07 371.14,302.6 371.29,303.15 371.44,303.71 371.59,304.29 371.74,304.88 371.88,305.48 372.03,306.09 372.18,306.7 372.33,307.31 372.48,307.93 372.63,308.54 372.77,309.14 372.92,309.74 373.07,310.32 373.22,310.89 373.37,311.44 373.52,311.97 373.67,312.48 373.81,312.97 373.96,313.42 374.11,313.85 374.26,314.25 374.41,314.61 374.56,314.94 374.71,315.24 374.85,315.49 375,315.71 375.15,315.88 375.3,316.01 375.45,316.1 375.6,316.15 375.75,316.16 375.89,316.12 376.04,316.03 376.19,315.9 376.34,315.73 376.49,315.52 376.64,315.26 376.79,314.97 376.93,314.63 377.08,314.25 377.23,313.84 377.38,313.39 377.53,312.91 377.68,312.4 377.83,311.85 377.97,311.28 378.12,310.68 378.27,310.07 378.42,309.43 378.57,308.77 378.72,308.1 378.86,307.42 379.01,306.73 379.16,306.04 379.31,305.34 379.46,304.65 379.61,303.96 379.76,303.27 379.9,302.6 380.05,301.94 380.2,301.3 380.35,300.67 380.5,300.07 380.65,299.49 380.8,298.95 380.94,298.43 381.09,297.94 381.24,297.49 381.39,297.08 381.54,296.7 381.69,296.37 381.84,296.08 381.98,295.84 382.13,295.64 382.28,295.49 382.43,295.38 382.58,295.33 382.73,295.32 382.88,295.36 383.02,295.45 383.17,295.59 383.32,295.78 383.47,296.02 383.62,296.3 383.77,296.63 383.91,297.01 384.06,297.43 384.21,297.89 384.36,298.39 384.51,298.93 384.66,299.5 384.81,300.11 384.95,300.75 385.1,301.41 385.25,302.1 385.4,302.82 385.55,303.55 385.7,304.3 385.85,305.06 385.99,305.83 386.14,306.6 386.29,307.38 386.44,308.15 386.59,308.93 386.74,309.69 386.89,310.44 387.03,311.18 387.18,311.9 387.33,312.6 387.48,313.27 387.63,313.91 387.78,314.53 387.93,315.11 388.07,315.65 388.22,316.15 388.37,316.62 388.52,317.04 388.67,317.41 388.82,317.73 388.97,318.01 389.11,318.24 389.26,318.41 389.41,318.53 389.56,318.59 389.71,318.61 389.86,318.56 390,318.47 390.15,318.31 390.3,318.11 390.45,317.85 390.6,317.54 390.75,317.17 390.9,316.76 391.04,316.3 391.19,315.79 391.34,315.24 391.49,314.65 391.64,314.02 391.79,313.35 391.94,312.64 392.08,311.91 392.23,311.15 392.38,310.36 392.53,309.55 392.68,308.72 392.83,307.89 392.98,307.04 393.12,306.18 393.27,305.32 393.42,304.46 393.57,303.61 393.72,302.77 393.87,301.93 394.02,301.12 394.16,300.32 394.31,299.55 394.46,298.81 394.61,298.09 394.76,297.42 394.91,296.77 395.05,296.17 395.2,295.61 395.35,295.1 395.5,294.63 395.65,294.22 395.8,293.86 395.95,293.55 396.09,293.3 396.24,293.1 396.39,292.96 396.54,292.89 396.69,292.87 396.84,292.91 396.99,293.01 397.13,293.18 397.28,293.4 397.43,293.68 397.58,294.01 397.73,294.41 397.88,294.86 398.03,295.36 398.17,295.91 398.32,296.51 398.47,297.16 398.62,297.85 398.77,298.58 398.92,299.35 399.07,300.15 399.21,300.99 399.36,301.85 399.51,302.73 399.66,303.63 399.81,304.55 399.96,305.48 400.11,306.42 400.25,307.36 400.4,308.3 400.55,309.23 400.7,310.16 400.85,311.07 401,311.96 401.14,312.84 401.29,313.68 401.44,314.5 401.59,315.28 401.74,316.03 401.89,316.73 402.04,317.39 402.18,318.01 402.33,318.58 402.48,319.09 402.63,319.55 402.78,319.95 402.93,320.29 403.08,320.57 403.22,320.79 403.37,320.94 403.52,321.03 403.67,321.06 403.82,321.02 403.97,320.91 404.12,320.74 404.26,320.5 404.41,320.2 404.56,319.84 404.71,319.42 404.86,318.93 405.01,318.39 405.16,317.8 405.3,317.15 405.45,316.45 405.6,315.7 405.75,314.91 405.9,314.07 406.05,313.2 406.19,312.3 406.34,311.36 406.49,310.41 406.64,309.43 406.79,308.43 406.94,307.42 407.09,306.4 407.23,305.38 407.38,304.36 407.53,303.34 407.68,302.34 407.83,301.34 407.98,300.37 408.13,299.42 408.27,298.5 408.42,297.61 408.57,296.76 408.72,295.95 408.87,295.18 409.02,294.45 409.17,293.78 409.31,293.16 409.46,292.6 409.61,292.1 409.76,291.66 409.91,291.28 410.06,290.97 410.21,290.73 410.35,290.56 410.5,290.45 410.65,290.42 410.8,290.45 410.95,290.56 411.1,290.74 411.25,290.99 411.39,291.31 411.54,291.69 411.69,292.15 411.84,292.66 411.99,293.24 412.14,293.88 412.28,294.58 412.43,295.33 412.58,296.14 412.73,296.99 412.88,297.89 413.03,298.82 413.18,299.8 413.32,300.8 413.47,301.84 413.62,302.9 413.77,303.97 413.92,305.06 414.07,306.16 414.22,307.26 414.36,308.37 414.51,309.46 414.66,310.55 414.81,311.62 414.96,312.67 415.11,313.7 415.26,314.7 415.4,315.66 415.55,316.58 415.7,317.47 415.85,318.3 416,319.08 416.15,319.81 416.3,320.49 416.44,321.1 416.59,321.65 416.74,322.13 416.89,322.54 417.04,322.88 417.19,323.15 417.33,323.34 417.48,323.46 417.63,323.51 417.78,323.47 417.93,323.37 418.08,323.18 418.23,322.92 418.37,322.59 418.52,322.18 418.67,321.7 418.82,321.15 418.97,320.53 419.12,319.85 419.27,319.1 419.41,318.3 419.56,317.44 419.71,316.53 419.86,315.57 420.01,314.57 420.16,313.52 420.31,312.45 420.45,311.34 420.6,310.2 420.75,309.05 420.9,307.88 421.05,306.7 421.2,305.52 421.35,304.33 421.49,303.15 421.64,301.98 421.79,300.83 421.94,299.7 422.09,298.6 422.24,297.52 422.39,296.49 422.53,295.49 422.68,294.54 422.83,293.64 422.98,292.79 423.13,292 423.28,291.28 423.42,290.61 423.57,290.02 423.72,289.5 423.87,289.05 424.02,288.67 424.17,288.38 424.32,288.16 424.46,288.02 424.61,287.97 424.76,288 424.91,288.1 425.06,288.29 425.21,288.56 425.36,288.91 425.5,289.34 425.65,289.85 425.8,290.43 425.95,291.09 426.1,291.81 426.25,292.6 426.4,293.45 426.54,294.37 426.69,295.34 426.84,296.36 426.99,297.43 427.14,298.54 427.29,299.69 427.44,300.87 427.58,302.08 427.73,303.31 427.88,304.56 428.03,305.82 428.18,307.08 428.33,308.35 428.47,309.61 428.62,310.86 428.77,312.09 428.92,313.31 429.07,314.49 429.22,315.64 429.37,316.75 429.51,317.82 429.66,318.84 429.81,319.81 429.96,320.72 430.11,321.57 430.26,322.35 430.41,323.06 430.55,323.71 430.7,324.27 430.85,324.76 431,325.17 431.15,325.49 431.3,325.73 431.45,325.89 431.59,325.95 431.74,325.93 431.89,325.83 432.04,325.64 432.19,325.36 432.34,324.99 432.49,324.54 432.63,324.01 432.78,323.4 432.93,322.71 433.08,321.95 433.23,321.11 433.38,320.21 433.53,319.24 433.67,318.22 433.82,317.13 433.97,316 434.12,314.82 434.27,313.6 434.42,312.35 434.56,311.06 434.71,309.75 434.86,308.42 435.01,307.08 435.16,305.74 435.31,304.39 435.46,303.04 435.6,301.71 435.75,300.4 435.9,299.11 436.05,297.85 436.2,296.62 436.35,295.43 436.5,294.29 436.64,293.2 436.79,292.16 436.94,291.19 437.09,290.28 437.24,289.44 437.39,288.67 437.54,287.98 437.68,287.37 437.83,286.84 437.98,286.4 438.13,286.05 438.28,285.78 438.43,285.61 438.58,285.52 438.72,285.54 438.87,285.64 439.02,285.83 439.17,286.12 439.32,286.5 439.47,286.97 439.61,287.52 439.76,288.16 439.91,288.88 440.06,289.69 440.21,290.57 440.36,291.52 440.51,292.54 440.65,293.62 440.8,294.76 440.95,295.96 441.1,297.2 441.25,298.49 441.4,299.82 441.55,301.18 441.69,302.57 441.84,303.98 441.99,305.4 442.14,306.82 442.29,308.25 442.44,309.68 442.59,311.09 442.73,312.49 442.88,313.86 443.03,315.2 443.18,316.51 443.33,317.77 443.48,318.99 443.63,320.15 443.77,321.25 443.92,322.29 444.07,323.26 444.22,324.16 444.37,324.98 444.52,325.72 444.67,326.38 444.81,326.95 444.96,327.43 445.11,327.81 445.26,328.1 445.41,328.3 445.56,328.4 445.7,328.39 445.85,328.3 446,328.1 446.15,327.81 446.3,327.42 446.45,326.93 446.6,326.35 446.74,325.69 446.89,324.93 447.04,324.09 447.19,323.17 447.34,322.17 447.49,321.1 447.64,319.96 447.78,318.76 447.93,317.5 448.08,316.19 448.23,314.83 448.38,313.43 448.53,311.99 448.68,310.53 448.82,309.05 448.97,307.55 449.12,306.04 449.27,304.52 449.42,303.02 449.57,301.52 449.72,300.04 449.86,298.59 450.01,297.17 450.16,295.79 450.31,294.45 450.46,293.16 450.61,291.92 450.75,290.75 450.9,289.64 451.05,288.61 451.2,287.65 451.35,286.77 451.5,285.98 451.65,285.28 451.79,284.67 451.94,284.15 452.09,283.74 452.24,283.42 452.39,283.2 452.54,283.09 452.69,283.08 452.83,283.17 452.98,283.36 453.13,283.66 453.28,284.06 453.43,284.56 453.58,285.16 453.73,285.86 453.87,286.64 454.02,287.52 454.17,288.48 454.32,289.53 454.47,290.65 454.62,291.84 454.77,293.1 454.91,294.42 455.06,295.8 455.21,297.23 455.36,298.7 455.51,300.21 455.66,301.75 455.81,303.31 455.95,304.89 456.1,306.48 456.25,308.08 456.4,309.67 456.55,311.24 456.7,312.8 456.84,314.34 456.99,315.84 457.14,317.3 457.29,318.72 457.44,320.09 457.59,321.39 457.74,322.64 457.88,323.81 458.03,324.91 458.18,325.92 458.33,326.86 458.48,327.7 458.63,328.45 458.78,329.11 458.92,329.66 459.07,330.11 459.22,330.46 459.37,330.7 459.52,330.83 459.67,330.85 459.82,330.77 459.96,330.57 460.11,330.27 460.26,329.86 460.41,329.35 460.56,328.73 460.71,328.01 460.86,327.19 461,326.28 461.15,325.28 461.3,324.19 461.45,323.02 461.6,321.77 461.75,320.45 461.89,319.07 462.04,317.63 462.19,316.13 462.34,314.59 462.49,313 462.64,311.39 462.79,309.75 462.93,308.09 463.08,306.42 463.23,304.74 463.38,303.07 463.53,301.41 463.68,299.77 463.83,298.15 463.97,296.57 464.12,295.03 464.27,293.53 464.42,292.09 464.57,290.71 464.72,289.4 464.87,288.16 465.01,286.99 465.16,285.91 465.31,284.92 465.46,284.03 465.61,283.23 465.76,282.53 465.91,281.94 466.05,281.45 466.2,281.07 466.35,280.81 466.5,280.66 466.65,280.62 466.8,280.7 466.95,280.89 467.09,281.19 467.24,281.61 467.39,282.14 467.54,282.77 467.69,283.52 467.84,284.36 467.98,285.31 468.13,286.35 468.28,287.48 468.43,288.7 468.58,290 468.73,291.38 468.88,292.82 469.02,294.33 469.17,295.89 469.32,297.51 469.47,299.16 469.62,300.85 469.77,302.57 469.92,304.31 470.06,306.06 470.21,307.82 470.36,309.57 470.51,311.32 470.66,313.04 470.81,314.74 470.96,316.4 471.1,318.02 471.25,319.6 471.4,321.11 471.55,322.57 471.7,323.95 471.85,325.26 472,326.49 472.14,327.63 472.29,328.68 472.44,329.63 472.59,330.48 472.74,331.23 472.89,331.86 473.03,332.38 473.18,332.79 473.33,333.08 473.48,333.25 473.63,333.31 473.78,333.24 473.93,333.05 474.07,332.75 474.22,332.32 474.37,331.78 474.52,331.13 474.67,330.36 474.82,329.49 474.97,328.51 475.11,327.43 475.26,326.26 475.41,324.99 475.56,323.64 475.71,322.21 475.86,320.7 476.01,319.13 476.15,317.5 476.3,315.82 476.45,314.09 476.6,312.33 476.75,310.53 476.9,308.71 477.05,306.88 477.19,305.04 477.34,303.2 477.49,301.38 477.64,299.57 477.79,297.79 477.94,296.05 478.09,294.35 478.23,292.69 478.38,291.1 478.53,289.57 478.68,288.11 478.83,286.73 478.98,285.44 479.12,284.23 479.27,283.12 479.42,282.12 479.57,281.22 479.72,280.43 479.87,279.75 480.02,279.19 480.16,278.75 480.31,278.43 480.46,278.24 480.61,278.17 480.76,278.22 480.91,278.4 481.06,278.71 481.2,279.14 481.35,279.69 481.5,280.36 481.65,281.15 481.8,282.05 481.95,283.06 482.1,284.17 482.24,285.39 482.39,286.7 482.54,288.1 482.69,289.59 482.84,291.15 482.99,292.79 483.14,294.48 483.28,296.24 483.43,298.04 483.58,299.88 483.73,301.75 483.88,303.65 484.03,305.56 484.17,307.48 484.32,309.4 484.47,311.31 484.62,313.19 484.77,315.06 484.92,316.88 485.07,318.67 485.21,320.4 485.36,322.07 485.51,323.68 485.66,325.21 485.81,326.66 485.96,328.02 486.11,329.29 486.25,330.46 486.4,331.52 486.55,332.47 486.7,333.31 486.85,334.03 487,334.63 487.15,335.1 487.29,335.45 487.44,335.67 487.59,335.76 487.74,335.71 487.89,335.54 488.04,335.24 488.19,334.8 488.33,334.24 488.48,333.56 488.63,332.75 488.78,331.82 488.93,330.78 489.08,329.63 489.23,328.37 489.37,327.02 489.52,325.57 489.67,324.03 489.82,322.4 489.97,320.71 490.12,318.95 490.26,317.13 490.41,315.25 490.56,313.34 490.71,311.39 490.86,309.41 491.01,307.42 491.16,305.42 491.3,303.42 491.45,301.43 491.6,299.46 491.75,297.51 491.9,295.6 492.05,293.74 492.2,291.93 492.34,290.18 492.49,288.5 492.64,286.89 492.79,285.37 492.94,283.94 493.09,282.61 493.24,281.38 493.38,280.26 493.53,279.25 493.68,278.36 493.83,277.6 493.98,276.96 494.13,276.45 494.28,276.07 494.42,275.83 494.57,275.72 494.72,275.75 494.87,275.92 495.02,276.22 495.17,276.65 495.31,277.22 495.46,277.92 495.61,278.75 495.76,279.7 495.91,280.77 496.06,281.95 496.21,283.25 496.35,284.65 496.5,286.15 496.65,287.74 496.8,289.42 496.95,291.18 497.1,293.01 497.25,294.89 497.39,296.84 497.54,298.83 497.69,300.85 497.84,302.91 497.99,304.98 498.14,307.06 498.29,309.14 498.43,311.22 498.58,313.27 498.73,315.3 498.88,317.29 499.03,319.23 499.18,321.13 499.33,322.96 499.47,324.71 499.62,326.39 499.77,327.99 499.92,329.49 500.07,330.89 500.22,332.18 500.37,333.36 500.51,334.42 500.66,335.36 500.81,336.17 500.96,336.85 501.11,337.39 501.26,337.8 501.4,338.07 501.55,338.2 501.7,338.18 501.85,338.03 502,337.73 502.15,337.3 502.3,336.72 502.44,336.01 502.59,335.17 502.74,334.19 502.89,333.09 503.04,331.87 503.19,330.54 503.34,329.1 503.48,327.55 503.63,325.9 503.78,324.17 503.93,322.35 504.08,320.46 504.23,318.5 504.38,316.49 504.52,314.43 504.67,312.33 504.82,310.19 504.97,308.04 505.12,305.88 505.27,303.72 505.42,301.56 505.56,299.42 505.71,297.31 505.86,295.24 506.01,293.21 506.16,291.24 506.31,289.33 506.45,287.49 506.6,285.74 506.75,284.07 506.9,282.5 507.05,281.04 507.2,279.68 507.35,278.44 507.49,277.32 507.64,276.34 507.79,275.48 507.94,274.76 508.09,274.17 508.24,273.73 508.39,273.44 508.53,273.29 508.68,273.28 508.83,273.43 508.98,273.72 509.13,274.15 509.28,274.73 509.43,275.46 509.57,276.32 509.72,277.31 509.87,278.44 510.02,279.69 510.17,281.06 510.32,282.55 510.47,284.14 510.61,285.84 510.76,287.63 510.91,289.5 511.06,291.46 511.21,293.48 511.36,295.56 511.51,297.7 511.65,299.88 511.8,302.08 511.95,304.32 512.1,306.56 512.25,308.81 512.4,311.04 512.54,313.27 512.69,315.46 512.84,317.62 512.99,319.73 513.14,321.78 513.29,323.77 513.44,325.68 513.58,327.51 513.73,329.25 513.88,330.89 514.03,332.43 514.18,333.85 514.33,335.15 514.48,336.32 514.62,337.36 514.77,338.27 514.92,339.03 515.07,339.66 515.22,340.13 515.37,340.45 515.52,340.63 515.66,340.65 515.81,340.52 515.96,340.23 516.11,339.8 516.26,339.22 516.41,338.48 516.56,337.61 516.7,336.59 516.85,335.44 517,334.16 517.15,332.75 517.3,331.22 517.45,329.58 517.59,327.84 517.74,325.99 517.89,324.06 518.04,322.04 518.19,319.95 518.34,317.8 518.49,315.59 518.63,313.34 518.78,311.06 518.93,308.75 519.08,306.42 519.23,304.09 519.38,301.77 519.53,299.47 519.67,297.19 519.82,294.95 519.97,292.76 520.12,290.62 520.27,288.55 520.42,286.56 520.57,284.65 520.71,282.84 520.86,281.13 521.01,279.53 521.16,278.04 521.31,276.68 521.46,275.45 521.61,274.35 521.75,273.4 521.9,272.59 522.05,271.92 522.2,271.41 522.35,271.06 522.5,270.86 522.65,270.82 522.79,270.94 522.94,271.21 523.09,271.64 523.24,272.23 523.39,272.97 523.54,273.86 523.68,274.89 523.83,276.07 523.98,277.38 524.13,278.82 524.28,280.39 524.43,282.08 524.58,283.87 524.72,285.77 524.87,287.76 525.02,289.84 525.17,292 525.32,294.22 525.47,296.5 525.62,298.82 525.76,301.18 525.91,303.57 526.06,305.98 526.21,308.39 526.36,310.79 526.51,313.18 526.66,315.54 526.8,317.86 526.95,320.14 527.1,322.36 527.25,324.51 527.4,326.58 527.55,328.56 527.7,330.45 527.84,332.24 527.99,333.91 528.14,335.46 528.29,336.88 528.44,338.17 528.59,339.33 528.73,340.33 528.88,341.19 529.03,341.89 529.18,342.44 529.33,342.82 529.48,343.05 529.63,343.11 529.77,343.01 529.92,342.74 530.07,342.31 530.22,341.73 530.37,340.98 530.52,340.08 530.67,339.03 530.81,337.83 530.96,336.49 531.11,335.01 531.26,333.4 531.41,331.67 531.56,329.83 531.71,327.88 531.85,325.83 532,323.69 532.15,321.47 532.3,319.18 532.45,316.83 532.6,314.43 532.75,312 532.89,309.53 533.04,307.04 533.19,304.55 533.34,302.07 533.49,299.59 533.64,297.15 533.79,294.74 533.93,292.38 534.08,290.08 534.23,287.85 534.38,285.7 534.53,283.64 534.68,281.67 534.82,279.82 534.97,278.07 535.12,276.46 535.27,274.97 535.42,273.62 535.57,272.41 535.72,271.35 535.86,270.45 536.01,269.7 536.16,269.12 536.31,268.7 536.46,268.45 536.61,268.37 536.76,268.45 536.9,268.71 537.05,269.13 537.2,269.72 537.35,270.47 537.5,271.38 537.65,272.45 537.8,273.67 537.94,275.04 538.09,276.55 538.24,278.19 538.39,279.96 538.54,281.85 538.69,283.85 538.84,285.96 538.98,288.16 539.13,290.44 539.28,292.8 539.43,295.22 539.58,297.69 539.73,300.2 539.87,302.75 540.02,305.31 540.17,307.89 540.32,310.46 540.47,313.01 540.62,315.54 540.77,318.03 540.91,320.47 541.06,322.86 541.21,325.17 541.36,327.4 541.51,329.54 541.66,331.58 541.81,333.52 541.95,335.33 542.1,337.02 542.25,338.57 542.4,339.98" fill="none" stroke="#b3b3b3" stroke-width="3.5" stroke-linejoin="round"/>
<polyline points="319.6,306.35 319.75,306.38 319.9,306.4 320.05,306.43 320.19,306.45 320.34,306.47 320.49,306.49 320.64,306.51 320.79,306.53 320.94,306.54 321.09,306.55 321.23,306.56 321.38,306.57 321.53,306.57 321.68,306.57 321.83,306.56 321.98,306.55 322.13,306.54 322.27,306.52 322.42,306.5 322.57,306.47 322.72,306.44 322.87,306.41 323.02,306.37 323.16,306.33 323.31,306.29 323.46,306.24 323.61,306.19 323.76,306.14 323.91,306.08 324.06,306.03 324.2,305.97 324.35,305.91 324.5,305.85 324.65,305.78 324.8,305.72 324.95,305.66 325.1,305.6 325.24,305.54 325.39,305.48 325.54,305.43 325.69,305.37 325.84,305.32 325.99,305.27 326.14,305.23 326.28,305.19 326.43,305.16 326.58,305.13 326.73,305.1 326.88,305.09 327.03,305.07 327.18,305.07 327.32,305.07 327.47,305.08 327.62,305.09 327.77,305.11 327.92,305.14 328.07,305.18 328.21,305.22 328.36,305.27 328.51,305.33 328.66,305.4 328.81,305.47 328.96,305.55 329.11,305.63 329.25,305.72 329.4,305.82 329.55,305.93 329.7,306.04 329.85,306.15 330,306.27 330.15,306.39 330.29,306.51 330.44,306.64 330.59,306.77 330.74,306.9 330.89,307.04 331.04,307.17 331.19,307.3 331.33,307.43 331.48,307.56 331.63,307.69 331.78,307.81 331.93,307.93 332.08,308.04 332.23,308.15 332.37,308.26 332.52,308.35 332.67,308.44 332.82,308.52 332.97,308.6 333.12,308.66 333.27,308.72 333.41,308.76 333.56,308.79 333.71,308.82 333.86,308.83 334.01,308.83 334.16,308.82 334.3,308.8 334.45,308.76 334.6,308.71 334.75,308.66 334.9,308.58 335.05,308.5 335.2,308.41 335.34,308.3 335.49,308.19 335.64,308.06 335.79,307.92 335.94,307.77 336.09,307.62 336.24,307.45 336.38,307.28 336.53,307.09 336.68,306.91 336.83,306.71 336.98,306.51 337.13,306.31 337.28,306.1 337.42,305.9 337.57,305.69 337.72,305.48 337.87,305.27 338.02,305.06 338.17,304.85 338.32,304.65 338.46,304.45 338.61,304.26 338.76,304.07 338.91,303.9 339.06,303.73 339.21,303.57 339.35,303.42 339.5,303.28 339.65,303.15 339.8,303.04 339.95,302.94 340.1,302.85 340.25,302.78 340.39,302.73 340.54,302.69 340.69,302.66 340.84,302.65 340.99,302.66 341.14,302.69 341.29,302.73 341.43,302.79 341.58,302.87 341.73,302.97 341.88,303.08 342.03,303.21 342.18,303.35 342.33,303.51 342.47,303.68 342.62,303.87 342.77,304.07 342.92,304.29 343.07,304.52 343.22,304.76 343.37,305.01 343.51,305.26 343.66,305.53 343.81,305.81 343.96,306.08 344.11,306.37 344.26,306.66 344.41,306.95 344.55,307.24 344.7,307.53 344.85,307.81 345,308.1 345.15,308.38 345.3,308.65 345.44,308.92 345.59,309.18 345.74,309.43 345.89,309.67 346.04,309.89 346.19,310.1 346.34,310.3 346.48,310.48 346.63,310.65 346.78,310.79 346.93,310.92 347.08,311.03 347.23,311.12 347.38,311.19 347.52,311.24 347.67,311.26 347.82,311.27 347.97,311.25 348.12,311.21 348.27,311.14 348.42,311.06 348.56,310.95 348.71,310.82 348.86,310.67 349.01,310.5 349.16,310.31 349.31,310.09 349.46,309.86 349.6,309.61 349.75,309.35 349.9,309.06 350.05,308.77 350.2,308.45 350.35,308.13 350.49,307.8 350.64,307.45 350.79,307.1 350.94,306.74 351.09,306.37 351.24,306 351.39,305.63 351.53,305.26 351.68,304.89 351.83,304.52 351.98,304.16 352.13,303.81 352.28,303.46 352.43,303.12 352.57,302.8 352.72,302.49 352.87,302.19 353.02,301.91 353.17,301.64 353.32,301.4 353.47,301.17 353.61,300.97 353.76,300.78 353.91,300.63 354.06,300.49 354.21,300.38 354.36,300.3 354.51,300.25 354.65,300.22 354.8,300.21 354.95,300.24 355.1,300.29 355.25,300.37 355.4,300.48 355.55,300.62 355.69,300.78 355.84,300.97 355.99,301.19 356.14,301.43 356.29,301.69 356.44,301.98 356.58,302.29 356.73,302.62 356.88,302.96 357.03,303.33 357.18,303.72 357.33,304.11 357.48,304.53 357.62,304.95 357.77,305.38 357.92,305.82 358.07,306.27 358.22,306.72 358.37,307.17 358.52,307.62 358.66,308.07 358.81,308.52 358.96,308.96 359.11,309.39 359.26,309.81 359.41,310.21 359.56,310.61 359.7,310.99 359.85,311.34 360,311.68 360.15,312 360.3,312.3 360.45,312.57 360.6,312.81 360.74,313.03 360.89,313.22 361.04,313.38 361.19,313.51 361.34,313.61 361.49,313.67 361.63,313.71 361.78,313.71 361.93,313.68 362.08,313.61 362.23,313.51 362.38,313.38 362.53,313.22 362.67,313.02 362.82,312.8 362.97,312.54 363.12,312.26 363.27,311.94 363.42,311.6 363.57,311.23 363.71,310.84 363.86,310.42 364.01,309.99 364.16,309.53 364.31,309.06 364.46,308.57 364.61,308.07 364.75,307.56 364.9,307.04 365.05,306.51 365.2,305.98 365.35,305.45 365.5,304.91 365.65,304.38 365.79,303.86 365.94,303.34 366.09,302.84 366.24,302.34 366.39,301.86 366.54,301.4 366.69,300.96 366.83,300.54 366.98,300.14 367.13,299.77 367.28,299.42 367.43,299.1 367.58,298.82 367.72,298.56 367.87,298.34 368.02,298.15 368.17,298 368.32,297.89 368.47,297.81 368.62,297.77 368.76,297.77 368.91,297.81 369.06,297.88 369.21,297.99 369.36,298.14 369.51,298.33 369.66,298.56 369.8,298.82 369.95,299.12 370.1,299.45 370.25,299.82 370.4,300.21 370.55,300.64 370.7,301.09 370.84,301.57 370.99,302.07 371.14,302.6 371.29,303.15 371.44,303.71 371.59,304.29 371.74,304.88 371.88,305.48 372.03,306.09 372.18,306.7 372.33,307.31 372.48,307.93 372.63,308.54 372.77,309.14 372.92,309.74 373.07,310.32 373.22,310.89 373.37,311.44 373.52,311.97 373.67,312.48 373.81,312.97 373.96,313.42 374.11,313.85 374.26,314.25 374.41,314.61 374.56,314.94 374.71,315.24 374.85,315.49 375,315.71 375.15,315.88 375.3,316.01 375.45,316.1 375.6,316.15 375.75,316.16 375.89,316.12 376.04,316.03 376.19,315.9 376.34,315.73 376.49,315.52 376.64,315.26 376.79,314.97 376.93,314.63 377.08,314.25 377.23,313.84 377.38,313.39 377.53,312.91 377.68,312.4 377.83,311.85 377.97,311.28 378.12,310.68 378.27,310.07 378.42,309.43 378.57,308.77 378.72,308.1 378.86,307.42 379.01,306.73 379.16,306.04 379.31,305.34 379.46,304.65 379.61,303.96 379.76,303.27 379.9,302.6 380.05,301.94 380.2,301.3 380.35,300.67 380.5,300.07 380.65,299.49 380.8,298.95 380.94,298.43 381.09,297.94 381.24,297.49 381.39,297.08 381.54,296.7 381.69,296.37 381.84,296.08 381.98,295.84 382.13,295.64 382.28,295.49 382.43,295.38 382.58,295.33 382.73,295.32 382.88,295.36 383.02,295.45 383.17,295.59 383.32,295.78 383.47,296.02 383.62,296.3 383.77,296.63 383.91,297.01 384.06,297.43 384.21,297.89 384.36,298.39 384.51,298.93 384.66,299.5 384.81,300.11 384.95,300.75 385.1,301.41 385.25,302.1 385.4,302.82 385.55,303.55 385.7,304.3 385.85,305.06 385.99,305.83 386.14,306.6 386.29,307.38 386.44,308.15 386.59,308.93 386.74,309.69 386.89,310.44 387.03,311.18 387.18,311.9 387.33,312.6 387.48,313.27 387.63,313.91 387.78,314.53 387.93,315.11 388.07,315.65 388.22,316.15 388.37,316.62 388.52,317.04 388.67,317.41 388.82,317.73 388.97,318.01 389.11,318.24 389.26,318.41 389.41,318.53 389.56,318.59 389.71,318.61 389.86,318.56 390,318.47 390.15,318.31 390.3,318.11 390.45,317.85 390.6,317.54 390.75,317.17 390.9,316.76 391.04,316.3 391.19,315.79 391.34,315.24 391.49,314.65 391.64,314.02 391.79,313.35 391.94,312.64 392.08,311.91 392.23,311.15 392.38,310.36 392.53,309.55 392.68,308.72 392.83,307.89 392.98,307.04 393.12,306.18 393.27,305.32 393.42,304.46 393.57,303.61 393.72,302.77 393.87,301.93 394.02,301.12 394.16,300.32 394.31,299.55 394.46,298.81 394.61,298.09 394.76,297.42 394.91,296.77 395.05,296.17 395.2,295.61 395.35,295.1 395.5,294.63 395.65,294.22 395.8,293.86 395.95,293.55 396.09,293.3 396.24,293.1 396.39,292.96 396.54,292.89 396.69,292.87 396.84,292.91 396.99,293.01 397.13,293.18 397.28,293.4 397.43,293.68 397.58,294.01 397.73,294.41 397.88,294.86 398.03,295.36 398.17,295.91 398.32,296.51 398.47,297.16 398.62,297.85 398.77,298.58 398.92,299.35 399.07,300.15 399.21,300.99 399.36,301.85 399.51,302.73 399.66,303.63 399.81,304.55 399.96,305.48 400.11,306.42 400.25,307.36 400.4,308.3 400.55,309.23 400.7,310.16 400.85,311.07 401,311.96 401.14,312.84 401.29,313.68 401.44,314.5 401.59,315.28 401.74,316.03 401.89,316.73 402.04,317.39 402.18,318.01 402.33,318.58 402.48,319.09 402.63,319.55 402.78,319.95 402.93,320.29 403.08,320.57 403.22,320.79 403.37,320.94 403.52,321.03 403.67,321.06 403.82,321.02 403.97,320.91 404.12,320.74 404.26,320.5 404.41,320.2 404.56,319.84 404.71,319.42 404.86,318.93 405.01,318.39 405.16,317.8 405.3,317.15 405.45,316.45 405.6,315.7 405.75,314.91 405.9,314.07 406.05,313.2 406.19,312.3 406.34,311.36 406.49,310.41 406.64,309.43 406.79,308.43 406.94,307.42 407.09,306.4 407.23,305.38 407.38,304.36 407.53,303.34 407.68,302.34 407.83,301.34 407.98,300.37 408.13,299.42 408.27,298.5 408.42,297.61 408.57,296.76 408.72,295.95 408.87,295.18 409.02,294.45 409.17,293.78 409.31,293.16 409.46,292.6 409.61,292.1 409.76,291.66 409.91,291.28 410.06,290.97 410.21,290.73 410.35,290.56 410.5,290.45 410.65,290.42 410.8,290.45 410.95,290.56 411.1,290.74 411.25,290.99 411.39,291.31 411.54,291.69 411.69,292.15 411.84,292.66 411.99,293.24 412.14,293.88 412.28,294.58 412.43,295.33 412.58,296.14 412.73,296.99 412.88,297.89 413.03,298.82 413.18,299.8 413.32,300.8 413.47,301.84 413.62,302.9 413.77,303.97 413.92,305.06 414.07,306.16 414.22,307.26 414.36,308.37 414.51,309.46 414.66,310.55 414.81,311.62 414.96,312.67 415.11,313.7 415.26,314.7 415.4,315.66 415.55,316.58 415.7,317.47 415.85,318.3 416,319.08 416.15,319.81 416.3,320.49 416.44,321.1 416.59,321.65 416.74,322.13 416.89,322.54 417.04,322.88 417.19,323.15 417.33,323.34 417.48,323.46 417.63,323.51 417.78,323.47 417.93,323.37 418.08,323.18 418.23,322.92 418.37,322.59 418.52,322.18 418.67,321.7 418.82,321.15 418.97,320.53 419.12,319.85 419.27,319.1 419.41,318.3 419.56,317.44 419.71,316.53 419.86,315.57 420.01,314.57 420.16,313.52 420.31,312.45 420.45,311.34 420.6,310.2 420.75,309.05 420.9,307.88 421.05,306.7 421.2,305.52 421.35,304.33 421.49,303.15 421.64,301.98 421.79,300.83 421.94,299.7 422.09,298.6 422.24,297.52 422.39,296.49 422.53,295.49 422.68,294.54 422.83,293.64 422.98,292.79 423.13,292 423.28,291.28 423.42,290.61 423.57,290.02 423.72,289.5 423.87,289.05 424.02,288.67 424.17,288.38 424.32,288.16 424.46,288.02 424.61,287.97 424.76,288 424.91,288.1 425.06,288.29 425.21,288.56 425.36,288.91 425.5,289.34 425.65,289.85 425.8,290.43 425.95,291.09 426.1,291.81 426.25,292.6 426.4,293.45 426.54,294.37 426.69,295.34 426.84,296.36 426.99,297.43 427.14,298.54 427.29,299.69 427.44,300.87 427.58,302.08 427.73,303.31 427.88,304.56 428.03,305.82 428.18,307.08 428.33,308.35 428.47,309.61 428.62,310.86 428.77,312.09 428.92,313.31 429.07,314.49 429.22,315.64 429.37,316.75 429.51,317.82 429.66,318.84 429.81,319.81 429.96,320.72 430.11,321.57 430.26,322.35 430.41,323.06 430.55,323.71 430.7,324.27 430.85,324.76 431,325.17 431.15,325.49 431.3,325.73 431.45,325.89 431.59,325.95 431.74,325.93 431.89,325.83 432.04,325.64 432.19,325.36 432.34,324.99 432.49,324.54 432.63,324.01 432.78,323.4 432.93,322.71 433.08,321.95 433.23,321.11 433.38,320.21 433.53,319.24 433.67,318.22 433.82,317.13 433.97,316 434.12,314.82 434.27,313.6 434.42,312.35 434.56,311.06 434.71,309.75 434.86,308.42 435.01,307.08 435.16,305.74 435.31,304.39 435.46,303.04 435.6,301.71 435.75,300.4 435.9,299.11 436.05,297.85 436.2,296.62 436.35,295.43 436.5,294.29 436.64,293.2 436.79,292.16 436.94,291.19 437.09,290.28 437.24,289.44 437.39,288.67 437.54,287.98 437.68,287.37 437.83,286.84 437.98,286.4 438.13,286.05 438.28,285.78 438.43,285.61 438.58,285.52 438.72,285.54 438.87,285.64 439.02,285.83 439.17,286.12 439.32,286.5 439.47,286.97 439.61,287.52 439.76,288.16 439.91,288.88 440.06,289.69 440.21,290.57 440.36,291.52 440.51,292.54 440.65,293.62 440.8,294.76 440.95,295.96 441.1,297.2 441.25,298.49 441.4,299.82 441.55,301.18 441.69,302.57 441.84,303.98 441.99,305.4 442.14,306.82 442.29,308.25 442.44,309.68 442.59,311.09 442.73,312.49 442.88,313.86 443.03,315.2 443.18,316.51 443.33,317.77 443.48,318.99 443.63,320.15 443.77,321.25 443.92,322.29 444.07,323.26 444.22,324.16 444.37,324.98 444.52,325.72 444.67,326.38 444.81,326.95 444.96,327.43 445.11,327.81 445.26,328.1 445.41,328.3 445.56,328.4 445.7,328.39 445.85,328.3 446,328.1 446.15,327.81 446.3,327.42 446.45,326.93 446.6,326.35 446.74,325.69 446.89,324.93 447.04,324.09 447.19,323.17 447.34,322.17 447.49,321.1 447.64,319.96 447.78,318.76 447.93,317.5 448.08,316.19 448.23,314.83 448.38,313.43 448.53,311.99 448.68,310.53 448.82,309.05 448.97,307.55 449.12,306.04 449.27,304.52 449.42,303.02 449.57,301.52 449.72,300.04 449.86,298.59 450.01,297.17 450.16,295.79 450.31,294.45 450.46,293.16 450.61,291.92 450.75,290.75 450.9,289.64 451.05,288.61 451.2,287.65 451.35,286.77 451.5,285.98 451.65,285.28 451.79,284.67 451.94,284.15 452.09,283.74 452.24,283.42 452.39,283.2 452.54,283.09 452.69,283.08 452.83,283.17 452.98,283.36 453.13,283.66 453.28,284.06 453.43,284.56 453.58,285.16 453.73,285.86 453.87,286.64 454.02,287.52 454.17,288.48 454.32,289.53 454.47,290.65 454.62,291.84 454.77,293.1 454.91,294.42 455.06,295.8 455.21,297.23 455.36,298.7 455.51,300.21 455.66,301.75 455.81,303.31 455.95,304.89 456.1,306.48 456.25,308.08 456.4,309.67 456.55,311.24 456.7,312.8 456.84,314.34 456.99,315.84 457.14,317.3 457.29,318.72 457.44,320.09 457.59,321.39 457.74,322.64 457.88,323.81 458.03,324.91 458.18,325.92 458.33,326.86 458.48,327.7 458.63,328.45 458.78,329.11 458.92,329.66 459.07,330.11 459.22,330.46 459.37,330.7 459.52,330.83 459.67,330.85 459.82,330.77 459.96,330.57 460.11,330.27 460.26,329.86 460.41,329.35 460.56,328.73 460.71,328.01 460.86,327.19 461,326.28 461.15,325.28 461.3,324.19 461.45,323.02 461.6,321.77 461.75,320.45 461.89,319.07 462.04,317.63 462.19,316.13 462.34,314.59 462.49,313 462.64,311.39 462.79,309.75 462.93,308.09 463.08,306.42 463.23,304.74 463.38,303.07 463.53,301.41 463.68,299.77 463.83,298.15 463.97,296.57 464.12,295.03 464.27,293.53 464.42,292.09 464.57,290.71 464.72,289.4 464.87,288.16 465.01,286.99 465.16,285.91 465.31,284.92 465.46,284.03 465.61,283.23 465.76,282.53 465.91,281.94 466.05,281.45 466.2,281.07 466.35,280.81 466.5,280.66 466.65,280.62 466.8,280.7 466.95,280.89 467.09,281.19 467.24,281.61 467.39,282.14 467.54,282.77 467.69,283.52 467.84,284.36 467.98,285.31 468.13,286.35 468.28,287.48 468.43,288.7 468.58,290 468.73,291.38 468.88,292.82 469.02,294.33 469.17,295.89 469.32,297.51 469.47,299.16 469.62,300.85 469.77,302.57 469.92,304.31 470.06,306.06 470.21,307.82 470.36,309.57 470.51,311.32 470.66,313.04 470.81,314.74 470.96,316.4 471.1,318.02 471.25,319.6 471.4,321.11 471.55,322.57 471.7,323.95 471.85,325.26 472,326.49 472.14,327.63 472.29,328.68 472.44,329.63 472.59,330.48 472.74,331.23 472.89,331.86 473.03,332.38 473.18,332.79 473.33,333.08 473.48,333.25 473.63,333.31 473.78,333.24 473.93,333.05 474.07,332.75 474.22,332.32 474.37,331.78 474.52,331.13 474.67,330.36 474.82,329.49 474.97,328.51 475.11,327.43 475.26,326.26 475.41,324.99 475.56,323.64 475.71,322.21 475.86,320.7 476.01,319.13 476.15,317.5 476.3,315.82 476.45,314.09 476.6,312.33 476.75,310.53 476.9,308.71 477.05,306.88 477.19,305.04 477.34,303.2 477.49,301.38 477.64,299.57 477.79,297.79 477.94,296.05 478.09,294.35 478.23,292.69 478.38,291.1 478.53,289.57 478.68,288.11 478.83,286.73 478.98,285.44 479.12,284.23 479.27,283.12 479.42,282.12 479.57,281.22 479.72,280.43 479.87,279.75 480.02,279.19 480.16,278.75 480.31,278.43 480.46,278.24 480.61,278.17 480.76,278.22 480.91,278.4 481.06,278.71 481.2,279.14 481.35,279.69 481.5,280.36 481.65,281.15 481.8,282.05 481.95,283.06 482.1,284.17 482.24,285.39 482.39,286.7 482.54,288.1 482.69,289.59 482.84,291.15 482.99,292.79 483.14,294.48 483.28,296.24 483.43,298.04 483.58,299.88 483.73,301.75 483.88,303.65 484.03,305.56 484.17,307.48 484.32,309.4 484.47,311.31 484.62,313.19 484.77,315.06 484.92,316.88 485.07,318.67 485.21,320.4 485.36,322.07 485.51,323.68 485.66,325.21 485.81,326.66 485.96,328.02 486.11,329.29 486.25,330.46 486.4,331.52 486.55,332.47 486.7,333.31 486.85,334.03 487,334.63 487.15,335.1 487.29,335.45 487.44,335.67 487.59,335.76 487.74,335.71 487.89,335.54 488.04,335.24 488.19,334.8 488.33,334.24 488.48,333.56 488.63,332.75 488.78,331.82 488.93,330.78 489.08,329.63 489.23,328.37 489.37,327.02 489.52,325.57 489.67,324.03 489.82,322.4 489.97,320.71 490.12,318.95 490.26,317.13 490.41,315.25 490.56,313.34 490.71,311.39 490.86,309.41 491.01,307.42 491.16,305.42 491.3,303.42 491.45,301.43 491.6,299.46 491.75,297.51 491.9,295.6 492.05,293.74 492.2,291.93 492.34,290.18 492.49,288.5 492.64,286.89 492.79,285.37 492.94,283.94 493.09,282.61 493.24,281.38 493.38,280.26 493.53,279.25 493.68,278.36 493.83,277.6 493.98,276.96 494.13,276.45 494.28,276.07 494.42,275.83 494.57,275.72 494.72,275.75 494.87,275.92 495.02,276.22 495.17,276.65 495.31,277.22 495.46,277.92 495.61,278.75 495.76,279.7 495.91,280.77 496.06,281.95 496.21,283.25 496.35,284.65 496.5,286.15 496.65,287.74 496.8,289.42 496.95,291.18 497.1,293.01 497.25,294.89 497.39,296.84 497.54,298.83 497.69,300.85 497.84,302.91 497.99,304.98 498.14,307.06 498.29,309.14 498.43,311.22 498.58,313.27 498.73,315.3 498.88,317.29 499.03,319.23 499.18,321.13 499.33,322.96 499.47,324.71 499.62,326.39 499.77,327.99 499.92,329.49 500.07,330.89 500.22,332.18 500.37,333.36 500.51,334.42 500.66,335.36 500.81,336.17 500.96,336.85 501.11,337.39 501.26,337.8 501.4,338.07 501.55,338.2 501.7,338.18 501.85,338.03 502,337.73 502.15,337.3 502.3,336.72 502.44,336.01 502.59,335.17 502.74,334.19 502.89,333.09 503.04,331.87 503.19,330.54 503.34,329.1 503.48,327.55 503.63,325.9 503.78,324.17 503.93,322.35 504.08,320.46 504.23,318.5 504.38,316.49 504.52,314.43 504.67,312.33 504.82,310.19 504.97,308.04 505.12,305.88 505.27,303.72 505.42,301.56 505.56,299.42 505.71,297.31 505.86,295.24 506.01,293.21 506.16,291.24 506.31,289.33 506.45,287.49 506.6,285.74 506.75,284.07 506.9,282.5 507.05,281.04 507.2,279.68 507.35,278.44 507.49,277.32 507.64,276.34 507.79,275.48 507.94,274.76 508.09,274.17 508.24,273.73 508.39,273.44 508.53,273.29 508.68,273.28 508.83,273.43 508.98,273.72 509.13,274.15 509.28,274.73 509.43,275.46 509.57,276.32 509.72,277.31 509.87,278.44 510.02,279.69 510.17,281.06 510.32,282.55 510.47,284.14 510.61,285.84 510.76,287.63 510.91,289.5 511.06,291.46 511.21,293.48 511.36,295.56 511.51,297.7 511.65,299.88 511.8,302.08 511.95,304.32 512.1,306.56 512.25,308.81 512.4,311.04 512.54,313.27 512.69,315.46 512.84,317.62 512.99,319.73 513.14,321.78 513.29,323.77 513.44,325.68 513.58,327.51 513.73,329.25 513.88,330.89 514.03,332.43 514.18,333.85 514.33,335.15 514.48,336.32 514.62,337.36 514.77,338.27 514.92,339.03 515.07,339.66 515.22,340.13 515.37,340.45 515.52,340.63 515.66,340.65 515.81,340.52 515.96,340.23 516.11,339.8 516.26,339.22 516.41,338.48 516.56,337.61 516.7,336.59 516.85,335.44 517,334.16 517.15,332.75 517.3,331.22 517.45,329.58 517.59,327.84 517.74,325.99 517.89,324.06 518.04,322.04 518.19,319.95 518.34,317.8 518.49,315.59 518.63,313.34 518.78,311.06 518.93,308.75 519.08,306.42 519.23,304.09 519.38,301.77 519.53,299.47 519.67,297.19 519.82,294.95 519.97,292.76 520.12,290.62 520.27,288.55 520.42,286.56 520.57,284.65 520.71,282.84 520.86,281.13 521.01,279.53 521.16,278.04 521.31,276.68 521.46,275.45 521.61,274.35 521.75,273.4 521.9,272.59 522.05,271.92 522.2,271.41 522.35,271.06 522.5,270.86 522.65,270.82 522.79,270.94 522.94,271.21 523.09,271.64 523.24,272.23 523.39,272.97 523.54,273.86 523.68,274.89 523.83,276.07 523.98,277.38 524.13,278.82 524.28,280.39 524.43,282.08 524.58,283.87 524.72,285.77 524.87,287.76 525.02,289.84 525.17,292 525.32,294.22 525.47,296.5 525.62,298.82 525.76,301.18 525.91,303.57 526.06,305.98 526.21,308.39 526.36,310.79 526.51,313.18 526.66,315.54 526.8,317.86 526.95,320.14 527.1,322.36 527.25,324.51 527.4,326.58 527.55,328.56 527.7,330.45 527.84,332.24 527.99,333.91 528.14,335.46 528.29,336.88 528.44,338.17 528.59,339.33 528.73,340.33 528.88,341.19 529.03,341.89 529.18,342.44 529.33,342.82 529.48,343.05 529.63,343.11 529.77,343.01 529.92,342.74 530.07,342.31 530.22,341.73 530.37,340.98 530.52,340.08 530.67,339.03 530.81,337.83 530.96,336.49 531.11,335.01 531.26,333.4 531.41,331.67 531.56,329.83 531.71,327.88 531.85,325.83 532,323.69 532.15,321.47 532.3,319.18 532.45,316.83 532.6,314.43 532.75,312 532.89,309.53 533.04,307.04 533.19,304.55 533.34,302.07 533.49,299.59 533.64,297.15 533.79,294.74 533.93,292.38 534.08,290.08 534.23,287.85 534.38,285.7 534.53,283.64 534.68,281.67 534.82,279.82 534.97,278.07 535.12,276.46 535.27,274.97 535.42,273.62 535.57,272.41 535.72,271.35 535.86,270.45 536.01,269.7 536.16,269.12 536.31,268.7 536.46,268.45 536.61,268.37 536.76,268.45 536.9,268.71 537.05,269.13 537.2,269.72 537.35,270.47 537.5,271.38 537.65,272.45 537.8,273.67 537.94,275.04 538.09,276.55 538.24,278.19 538.39,279.96 538.54,281.85 538.69,283.85 538.84,285.96 538.98,288.16 539.13,290.44 539.28,292.8 539.43,295.22 539.58,297.69 539.73,300.2 539.87,302.75 540.02,305.31 540.17,307.89 540.32,310.46 540.47,313.01 540.62,315.54 540.77,318.03 540.91,320.47 541.06,322.86 541.21,325.17 541.36,327.4 541.51,329.54 541.66,331.58 541.81,333.52 541.95,335.33 542.1,337.02 542.25,338.57 542.4,339.98" fill="none" stroke="#ff0000" stroke-width="1.8" stroke-dasharray="5 1.25 2 1.25" stroke-linejoin="round"/>
</g>
<text transform="translate(319.6 355.8) scale(0.95 1)" text-anchor="middle" font-family="'Liberation Serif', serif" font-size="9.4" fill="#262626" stroke="#262626" stroke-width="0.2">0</text><text transform="translate(364.16 355.8) scale(0.95 1)" text-anchor="middle" font-family="'Liberation Serif', serif" font-size="9.4" fill="#262626" stroke="#262626" stroke-width="0.2">2</text><text transform="translate(408.72 355.8) scale(0.95 1)" text-anchor="middle" font-family="'Liberation Serif', serif" font-size="9.4" fill="#262626" stroke="#262626" stroke-width="0.2">4</text><text transform="translate(453.28 355.8) scale(0.95 1)" text-anchor="middle" font-family="'Liberation Serif', serif" font-size="9.4" fill="#262626" stroke="#262626" stroke-width="0.2">6</text><text transform="translate(497.84 355.8) scale(0.95 1)" text-anchor="middle" font-family="'Liberation Serif', serif" font-size="9.4" fill="#262626" stroke="#262626" stroke-width="0.2">8</text><text transform="translate(542.4 355.8) scale(0.95 1)" text-anchor="middle" font-family="'Liberation Serif', serif" font-size="9.4" fill="#262626" stroke="#262626" stroke-width="0.2">10</text><text transform="translate(317.1 269.65) scale(0.95 1)" text-anchor="end" font-family="'Liberation Serif', serif" font-size="9.4" fill="#262626" stroke="#262626" stroke-width="0.2">0.5</text><text transform="translate(317.1 308.65) scale(0.95 1)" text-anchor="end" font-family="'Liberation Serif', serif" font-size="9.4" fill="#262626" stroke="#262626" stroke-width="0.2">0</text><text transform="translate(317.1 347.65) scale(0.95 1)" text-anchor="end" font-family="'Liberation Serif', serif" font-size="9.4" fill="#262626" stroke="#262626" stroke-width="0.2">−0.5</text>
<text transform="translate(431 369.45)" text-anchor="middle" font-family="'Liberation Sans', sans-serif" font-size="9.9" fill="#262626" stroke="#262626" stroke-width="0.15">Time [s]</text>
<text transform="translate(292.2 306.05) rotate(-90)" text-anchor="middle" font-family="'Liberation Sans', sans-serif" font-size="9.9" fill="#262626" stroke="#262626" stroke-width="0.15">v<tspan font-size="6.9" dy="4.2">x</tspan><tspan dy="-4.2"> [m/s]</tspan></text>
<text transform="translate(430.6 259.1)" text-anchor="middle" font-family="'Liberation Sans', sans-serif" font-size="10.05" font-weight="bold" fill="#000">Velocity m<tspan font-size="8.0" dy="4.8">3</tspan></text>
<rect x="26.5" y="16.5" width="105.8" height="23.9" fill="#fff" stroke="#262626" stroke-width="0.8"/>
<path d="M29.8 23H60" stroke="#b3b3b3" stroke-width="3.8"/>
<path d="M29.8 33.9H60" stroke="#ff0000" stroke-width="1.7" stroke-dasharray="5 1.25 2 1.25"/>
<text transform="translate(62.3 26.5)" text-anchor="start" font-family="'Liberation Sans', sans-serif" font-size="8.2" fill="#000" stroke="#000" stroke-width="0.12">No Transformation</text>
<text transform="translate(62.3 36.8)" text-anchor="start" font-family="'Liberation Sans', sans-serif" font-size="8.2" fill="#000" stroke="#000" stroke-width="0.12">Transformation</text>
</svg>
</body></html>
